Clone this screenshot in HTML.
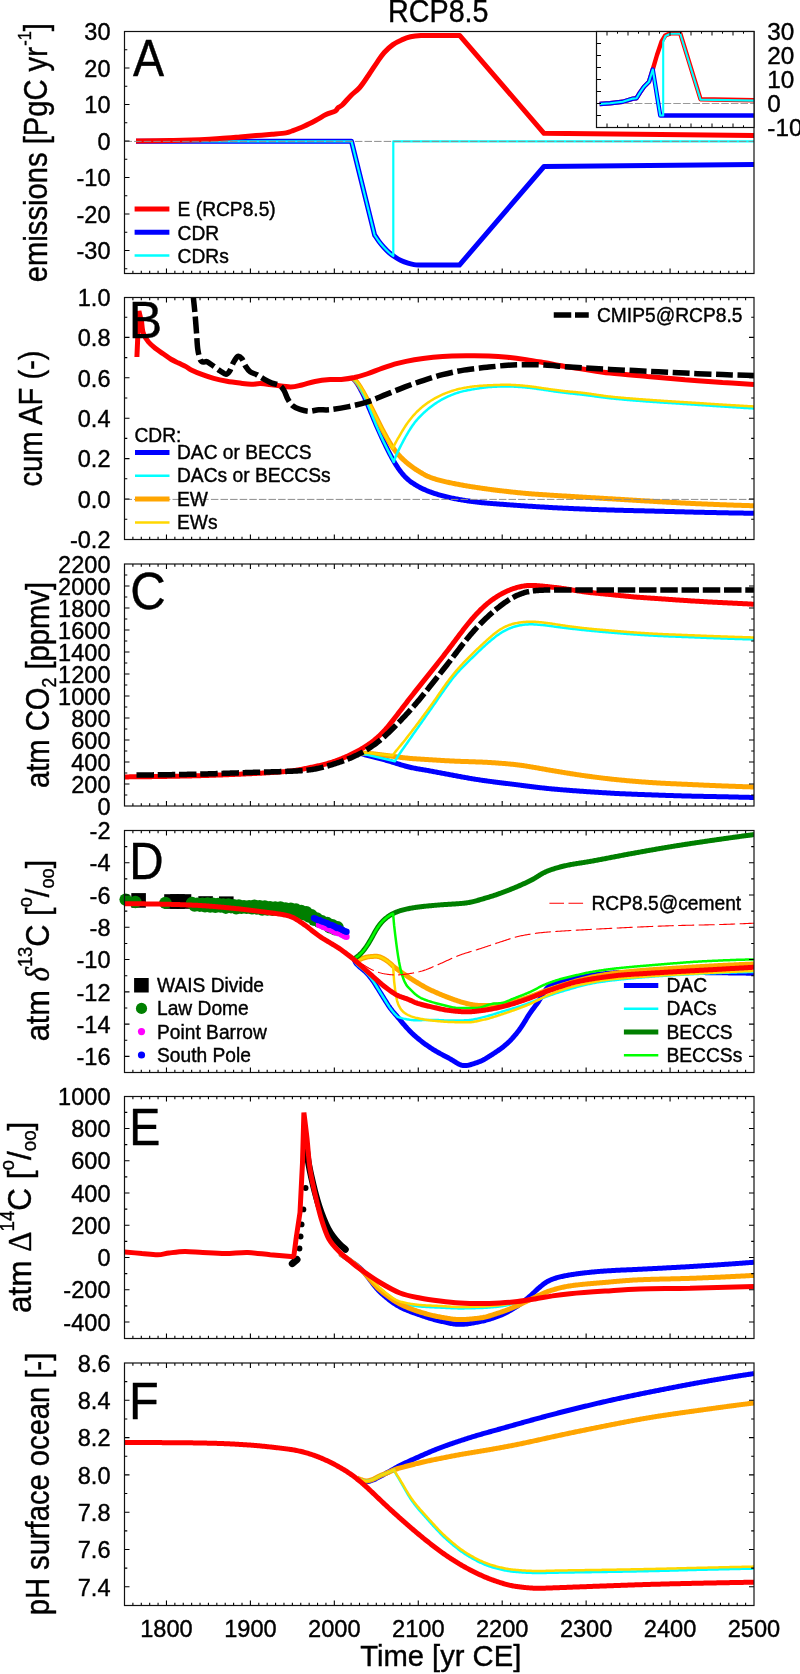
<!DOCTYPE html>
<html><head><meta charset="utf-8"><style>
html,body{margin:0;padding:0;background:#fff;}
svg{display:block;will-change:transform;}
text{font-family:"Liberation Sans", sans-serif;fill:#000;stroke:#000;stroke-width:0.4px;}
</style></head><body>
<svg width="800" height="1674" viewBox="0 0 800 1674">
<rect x="0" y="0" width="800" height="1674" fill="#fff"/>
<text transform="translate(438.3,21.8) scale(0.99,1.07)" font-size="29" text-anchor="middle" >RCP8.5</text>
<clipPath id="clipA"><rect x="124.5" y="31.5" width="629.5" height="242"/></clipPath>
<g clip-path="url(#clipA)">
<path d="M136,141.3 L351.5,141.3 L374.6,235 L374.6,235 C375.33,236.08 377.43,239.42 379,241.5 C380.57,243.58 382.33,245.67 384,247.5 C385.67,249.33 387.17,250.92 389,252.5 C390.83,254.08 393,255.67 395,257 C397,258.33 398.83,259.47 401,260.5 C403.17,261.53 405.83,262.52 408,263.2 C410.17,263.88 412.15,264.28 414,264.6 C415.85,264.92 418.25,265.02 419.1,265.1 L419.1,265.1 L459.4,265.1 L544,166.5 L754,164.4" fill="none" stroke="#0000ff" stroke-width="5" stroke-linejoin="round" />
<path d="M136,141.3 L351.5,141.3 L374.6,235 L374.6,235 C375.33,236.08 377.43,239.42 379,241.5 C380.57,243.58 382.33,245.67 384,247.5 C385.67,249.33 387.45,251.08 389,252.5 C390.55,253.92 392.58,255.42 393.3,256 L393.3,256 L393.3,141.3 L754,141.3" fill="none" stroke="#00ffff" stroke-width="2.2" stroke-linejoin="round" />
<path d="M136,141.1 C141.67,141.02 159.33,140.83 170,140.6 C180.67,140.37 191.67,140.03 200,139.7 C208.33,139.37 213.33,139.05 220,138.6 C226.67,138.15 234,137.5 240,137 C246,136.5 250.67,136.05 256,135.6 C261.33,135.15 267,134.75 272,134.3 C277,133.85 282.67,133.45 286,132.9 C289.33,132.35 289,132.1 292,131 C295,129.9 300,128.08 304,126.3 C308,124.52 312.33,122.25 316,120.3 C319.67,118.35 322.79,116.13 326,114.6 C329.21,113.07 333.27,112.23 335.25,111.1 C337.23,109.97 336.73,108.82 337.9,107.8 C339.07,106.78 340.07,107.07 342.25,105 C344.43,102.93 348.08,98.32 351,95.4 C353.92,92.48 356.83,90.86 359.75,87.5 C362.67,84.14 365.58,79.48 368.5,75.25 C371.42,71.02 374.62,65.89 377.25,62.1 C379.88,58.31 381.62,55.42 384.25,52.5 C386.88,49.58 390.08,46.7 393,44.6 C395.92,42.5 398.83,41.21 401.75,39.9 C404.67,38.59 407.29,37.48 410.5,36.75 C413.71,36.02 416.92,35.69 421,35.5 C425.08,35.31 428.53,35.58 435,35.6 C441.47,35.62 455.67,35.6 459.8,35.6 L459.8,35.6 L544,133.3 L754,135.6" fill="none" stroke="#ff0000" stroke-width="5" stroke-linejoin="round" />
<path d="M124.5,141.4 H754" stroke="#8c8c8c" stroke-width="1" stroke-dasharray="7.5 2.1"/>
</g>
<path d="M132.89,273.5 v-2.8 M141.29,273.5 v-2.8 M149.68,273.5 v-2.8 M158.07,273.5 v-2.8 M166.47,273.5 v-5 M174.86,273.5 v-2.8 M183.25,273.5 v-2.8 M191.65,273.5 v-2.8 M200.04,273.5 v-2.8 M208.43,273.5 v-2.8 M216.83,273.5 v-2.8 M225.22,273.5 v-2.8 M233.61,273.5 v-2.8 M242.01,273.5 v-2.8 M250.4,273.5 v-5 M258.79,273.5 v-2.8 M267.19,273.5 v-2.8 M275.58,273.5 v-2.8 M283.97,273.5 v-2.8 M292.37,273.5 v-2.8 M300.76,273.5 v-2.8 M309.15,273.5 v-2.8 M317.55,273.5 v-2.8 M325.94,273.5 v-2.8 M334.33,273.5 v-5 M342.73,273.5 v-2.8 M351.12,273.5 v-2.8 M359.51,273.5 v-2.8 M367.91,273.5 v-2.8 M376.3,273.5 v-2.8 M384.69,273.5 v-2.8 M393.09,273.5 v-2.8 M401.48,273.5 v-2.8 M409.87,273.5 v-2.8 M418.27,273.5 v-5 M426.66,273.5 v-2.8 M435.05,273.5 v-2.8 M443.45,273.5 v-2.8 M451.84,273.5 v-2.8 M460.23,273.5 v-2.8 M468.63,273.5 v-2.8 M477.02,273.5 v-2.8 M485.41,273.5 v-2.8 M493.81,273.5 v-2.8 M502.2,273.5 v-5 M510.59,273.5 v-2.8 M518.99,273.5 v-2.8 M527.38,273.5 v-2.8 M535.77,273.5 v-2.8 M544.17,273.5 v-2.8 M552.56,273.5 v-2.8 M560.95,273.5 v-2.8 M569.35,273.5 v-2.8 M577.74,273.5 v-2.8 M586.13,273.5 v-5 M594.53,273.5 v-2.8 M602.92,273.5 v-2.8 M611.31,273.5 v-2.8 M619.71,273.5 v-2.8 M628.1,273.5 v-2.8 M636.49,273.5 v-2.8 M644.89,273.5 v-2.8 M653.28,273.5 v-2.8 M661.67,273.5 v-2.8 M670.07,273.5 v-5 M678.46,273.5 v-2.8 M686.85,273.5 v-2.8 M695.25,273.5 v-2.8 M703.64,273.5 v-2.8 M712.03,273.5 v-2.8 M720.43,273.5 v-2.8 M728.82,273.5 v-2.8 M737.21,273.5 v-2.8 M745.61,273.5 v-2.8 M124.5,250.5 h5 M124.5,214 h5 M124.5,177.5 h5 M124.5,141 h5 M124.5,104.5 h5 M124.5,68 h5 M124.5,268.75 h2.8 M124.5,232.25 h2.8 M124.5,195.75 h2.8 M124.5,159.25 h2.8 M124.5,122.75 h2.8 M124.5,86.25 h2.8 M124.5,49.75 h2.8" stroke="#000" stroke-width="1.1" fill="none"/>
<rect x="124.5" y="31.5" width="629.5" height="242" fill="none" stroke="#111" stroke-width="1.2"/>
<text transform="translate(110.5,40.2) scale(0.97,1)" font-size="24.3" text-anchor="end" >30</text>
<text transform="translate(110.5,76.7) scale(0.97,1)" font-size="24.3" text-anchor="end" >20</text>
<text transform="translate(110.5,113.2) scale(0.97,1)" font-size="24.3" text-anchor="end" >10</text>
<text transform="translate(110.5,149.7) scale(0.97,1)" font-size="24.3" text-anchor="end" >0</text>
<text transform="translate(110.5,186.2) scale(0.97,1)" font-size="24.3" text-anchor="end" >-10</text>
<text transform="translate(110.5,222.7) scale(0.97,1)" font-size="24.3" text-anchor="end" >-20</text>
<text transform="translate(110.5,259.2) scale(0.97,1)" font-size="24.3" text-anchor="end" >-30</text>
<text transform="translate(47.2,152.6) rotate(-90) scale(0.89,1)" font-size="32.8" text-anchor="middle">emissions [PgC yr<tspan dx="1.5" dy="-16.5" font-size="18.5">-1</tspan><tspan dy="16.5">]</tspan></text>
<text transform="translate(132.91,75.6) scale(0.91,1)" font-size="51.2" text-anchor="start" >A</text>
<path d="M134.6,209 H169.4" stroke="#ff0000" stroke-width="5"/>
<text transform="translate(177.6,216.3) scale(0.98,1.06)" font-size="19.6" text-anchor="start" >E (RCP8.5)</text>
<path d="M134.6,232.2 H169.4" stroke="#0000ff" stroke-width="5"/>
<text transform="translate(177.6,239.5) scale(0.98,1.06)" font-size="19.6" text-anchor="start" >CDR</text>
<path d="M134.6,255.4 H169.4" stroke="#00ffff" stroke-width="2.5"/>
<text transform="translate(177.6,262.7) scale(0.98,1.06)" font-size="19.6" text-anchor="start" >CDRs</text>
<rect x="596.5" y="31.5" width="157.5" height="96.0" fill="#fff"/>
<clipPath id="clipI"><rect x="596.5" y="31.5" width="157.5" height="96.0"/></clipPath><g clip-path="url(#clipI)">
<path d="M596.5,103.5 H754.0" stroke="#999" stroke-width="1.1" stroke-dasharray="7.5 2.1"/>
<path d="M599.6,104 L610,103.2 L622.75,101.75 L629,99.8 L633,98.6 L636.5,98.2 L640,92.5 L644,86.75 L649,81.75 L652.75,69.5 L657,55 L661.5,41.75 L665.25,35.5 L670.25,33.4 L680.25,33.4 L680.25,33.4 L700.5,99.2 L754,100.2" fill="none" stroke="#ff0000" stroke-width="4.4" stroke-linejoin="round" />
<path d="M599.6,104 L610,103.2 L622.75,101.75 L629,99.8 L633,98.6 L636.5,98.2 L640,92.5 L644,86.75 L649,81.75 L652.75,69.5 L660.25,115.5 L754,115.5" fill="none" stroke="#0000ff" stroke-width="4.4" stroke-linejoin="round" />
<path d="M599.6,104 L610,103.2 L622.75,101.75 L629,99.8 L633,98.6 L636.5,98.2 L640,92.5 L644,86.75 L649,81.75 L652.75,69.5 L660.25,115.5 L663.2,115.5 L663.2,41.75 L665.5,36 L670.25,33.8 L680.25,33.8 L700.5,99.6 L754,100.6" fill="none" stroke="#00ffff" stroke-width="2.1" stroke-linejoin="round" />
</g>
<path d="M607,127.5 v-4 M607,31.5 v4 M617.5,127.5 v-2.2 M617.5,31.5 v2.2 M628,127.5 v-4 M628,31.5 v4 M638.5,127.5 v-2.2 M638.5,31.5 v2.2 M649,127.5 v-4 M649,31.5 v4 M659.5,127.5 v-2.2 M659.5,31.5 v2.2 M670,127.5 v-4 M670,31.5 v4 M680.5,127.5 v-2.2 M680.5,31.5 v2.2 M691,127.5 v-4 M691,31.5 v4 M701.5,127.5 v-2.2 M701.5,31.5 v2.2 M712,127.5 v-4 M712,31.5 v4 M722.5,127.5 v-2.2 M722.5,31.5 v2.2 M733,127.5 v-4 M733,31.5 v4 M743.5,127.5 v-2.2 M743.5,31.5 v2.2 M596.5,115.5 h4.5 M596.5,103.5 h4.5 M596.5,91.5 h4.5 M596.5,79.5 h4.5 M596.5,67.5 h4.5 M596.5,55.5 h4.5 M596.5,43.5 h4.5" stroke="#000" stroke-width="1" fill="none"/>
<rect x="596.5" y="31.5" width="157.5" height="96.0" fill="none" stroke="#111" stroke-width="1.2"/>
<text x="767.3" y="39.5" font-size="24.3" text-anchor="start" >30</text>
<text x="767.3" y="63.5" font-size="24.3" text-anchor="start" >20</text>
<text x="767.3" y="87.5" font-size="24.3" text-anchor="start" >10</text>
<text x="767.3" y="111.5" font-size="24.3" text-anchor="start" >0</text>
<text x="767.3" y="135.5" font-size="24.3" text-anchor="start" >-10</text>
<clipPath id="clipB"><rect x="124.5" y="297.5" width="629.5" height="242"/></clipPath>
<g clip-path="url(#clipB)">
<path d="M352,378 L353,378.66 L354,379.52 L355,380.57 L356,381.84 L357,383.28 L358,384.86 L359,386.56 L360,388.36 L361,390.25 L362,392.2 L363,394.18 L364,396.25 L365,398.41 L366,400.65 L367,402.94 L368,405.29 L369,407.67 L370,410.07 L371,412.49 L372,414.91 L373,417.32 L374,419.72 L375,422.1 L376,424.45 L377,426.78 L378,429.07 L379,431.34 L380,433.56 L381,435.76 L382,437.92 L383,440.06 L384,442.16 L385,444.24 L386,446.29 L387,448.32 L388,450.32 L389,452.29 L390,454.23 L391,456.13 L392,457.99 L393,459.8 L394,461.55 L395,463.25 L396,464.88 L397,466.44 L398,467.95 L399,469.38 L400,470.75 L401,472.06 L402,473.31 L403,474.49 L404,475.61 L405,476.67 L406,477.67 L407,478.62 L408,479.51 L409,480.35 L410,481.15 L411,481.9 L412,482.62 L413,483.3 L414,483.96 L415,484.59 L416,485.19 L417,485.78 L418,486.34 L419,486.89 L420,487.42 L421,487.93 L422,488.43 L423,488.91 L424,489.38 L425,489.83 L426,490.26 L427,490.68 L428,491.09 L429,491.48 L430,491.86 L431,492.22 L432,492.58 L433,492.92 L434,493.26 L435,493.58 L436,493.9 L437,494.21 L438,494.52 L439,494.81 L440,495.1 L441,495.38 L442,495.66 L443,495.93 L444,496.19 L445,496.45 L446,496.7 L447,496.94 L448,497.18 L449,497.42 L450,497.64 L451,497.86 L452,498.08 L453,498.29 L454,498.5 L455,498.7 L456,498.89 L457,499.08 L458,499.27 L459,499.45 L460,499.63 L461,499.81 L462,499.98 L463,500.15 L464,500.31 L465,500.47 L466,500.63 L467,500.79 L468,500.94 L469,501.08 L470,501.23 L471,501.37 L472,501.5 L473,501.63 L474,501.76 L475,501.89 L476,502.01 L477,502.13 L478,502.24 L479,502.35 L480,502.46 L481,502.57 L482,502.67 L483,502.76 L484,502.86 L485,502.95 L486,503.04 L487,503.13 L488,503.22 L489,503.3 L490,503.38 L491,503.46 L492,503.54 L493,503.62 L494,503.69 L495,503.77 L496,503.84 L497,503.92 L498,503.99 L499,504.06 L500,504.14 L501,504.21 L502,504.28 L503,504.36 L504,504.43 L505,504.5 L506,504.58 L507,504.65 L508,504.72 L509,504.79 L510,504.87 L511,504.94 L512,505.01 L513,505.08 L514,505.16 L515,505.23 L516,505.3 L517,505.37 L518,505.44 L519,505.51 L520,505.58 L521,505.65 L522,505.72 L523,505.78 L524,505.85 L525,505.92 L526,505.98 L527,506.05 L528,506.12 L529,506.18 L530,506.25 L531,506.31 L532,506.37 L533,506.44 L534,506.5 L535,506.56 L536,506.63 L537,506.69 L538,506.75 L539,506.81 L540,506.88 L541,506.94 L542,507 L543,507.06 L544,507.12 L545,507.18 L546,507.24 L547,507.29 L548,507.35 L549,507.41 L550,507.47 L551,507.52 L552,507.58 L553,507.63 L554,507.69 L555,507.74 L556,507.79 L557,507.84 L558,507.89 L559,507.94 L560,507.99 L561,508.04 L562,508.09 L563,508.14 L564,508.19 L565,508.23 L566,508.28 L567,508.33 L568,508.37 L569,508.42 L570,508.46 L571,508.51 L572,508.55 L573,508.6 L574,508.64 L575,508.69 L576,508.73 L577,508.77 L578,508.81 L579,508.86 L580,508.9 L581,508.94 L582,508.98 L583,509.02 L584,509.06 L585,509.1 L586,509.15 L587,509.18 L588,509.22 L589,509.26 L590,509.3 L591,509.34 L592,509.38 L593,509.42 L594,509.45 L595,509.49 L596,509.53 L597,509.56 L598,509.6 L599,509.63 L600,509.67 L601,509.7 L602,509.74 L603,509.77 L604,509.8 L605,509.84 L606,509.87 L607,509.9 L608,509.93 L609,509.96 L610,510 L611,510.03 L612,510.06 L613,510.09 L614,510.11 L615,510.14 L616,510.17 L617,510.2 L618,510.23 L619,510.26 L620,510.28 L621,510.31 L622,510.34 L623,510.36 L624,510.39 L625,510.41 L626,510.44 L627,510.47 L628,510.49 L629,510.51 L630,510.54 L631,510.56 L632,510.59 L633,510.61 L634,510.64 L635,510.66 L636,510.68 L637,510.71 L638,510.73 L639,510.75 L640,510.78 L641,510.8 L642,510.82 L643,510.85 L644,510.87 L645,510.89 L646,510.92 L647,510.94 L648,510.96 L649,510.99 L650,511.01 L651,511.03 L652,511.06 L653,511.08 L654,511.11 L655,511.13 L656,511.15 L657,511.18 L658,511.2 L659,511.23 L660,511.25 L661,511.28 L662,511.3 L663,511.33 L664,511.35 L665,511.38 L666,511.4 L667,511.43 L668,511.46 L669,511.48 L670,511.51 L671,511.53 L672,511.56 L673,511.59 L674,511.61 L675,511.64 L676,511.66 L677,511.69 L678,511.72 L679,511.74 L680,511.77 L681,511.8 L682,511.82 L683,511.85 L684,511.87 L685,511.9 L686,511.93 L687,511.95 L688,511.98 L689,512 L690,512.03 L691,512.05 L692,512.08 L693,512.1 L694,512.13 L695,512.15 L696,512.18 L697,512.2 L698,512.23 L699,512.25 L700,512.27 L701,512.3 L702,512.32 L703,512.34 L704,512.37 L705,512.39 L706,512.41 L707,512.43 L708,512.45 L709,512.48 L710,512.5 L711,512.52 L712,512.54 L713,512.56 L714,512.58 L715,512.6 L716,512.62 L717,512.64 L718,512.66 L719,512.68 L720,512.7 L721,512.72 L722,512.74 L723,512.76 L724,512.78 L725,512.8 L726,512.82 L727,512.84 L728,512.86 L729,512.88 L730,512.89 L731,512.91 L732,512.93 L733,512.95 L734,512.97 L735,512.99 L736,513 L737,513.02 L738,513.04 L739,513.06 L740,513.07 L741,513.09 L742,513.11 L743,513.12 L744,513.14 L745,513.16 L746,513.17 L747,513.19 L748,513.2 L749,513.22 L750,513.23 L751,513.25 L752,513.27 L753,513.28 L754,513.3" fill="none" stroke="#0000ff" stroke-width="5" stroke-linejoin="round" />
<path d="M352,378 L353,378.48 L354,379.15 L355,380 L356,381.08 L357,382.33 L358,383.71 L359,385.18 L360,386.72 L361,388.33 L362,389.97 L363,391.64 L364,393.39 L365,395.2 L366,397.07 L367,398.99 L368,400.94 L369,402.91 L370,404.9 L371,406.9 L372,408.91 L373,410.92 L374,412.94 L375,414.95 L376,416.95 L377,418.95 L378,420.95 L379,422.94 L380,424.91 L381,426.88 L382,428.82 L383,430.74 L384,432.63 L385,434.49 L386,436.32 L387,438.1 L388,439.84 L389,441.53 L390,443.16 L391,444.74 L392,446.26 L393,447.72 L394,449.12 L395,450.46 L396,451.75 L397,452.98 L398,454.15 L399,455.28 L400,456.36 L401,457.39 L402,458.39 L403,459.35 L404,460.28 L405,461.17 L406,462.04 L407,462.88 L408,463.69 L409,464.49 L410,465.27 L411,466.02 L412,466.76 L413,467.48 L414,468.19 L415,468.88 L416,469.55 L417,470.21 L418,470.86 L419,471.49 L420,472.1 L421,472.7 L422,473.28 L423,473.85 L424,474.39 L425,474.92 L426,475.42 L427,475.91 L428,476.37 L429,476.8 L430,477.22 L431,477.61 L432,477.98 L433,478.33 L434,478.67 L435,478.99 L436,479.3 L437,479.59 L438,479.87 L439,480.15 L440,480.41 L441,480.67 L442,480.92 L443,481.16 L444,481.39 L445,481.62 L446,481.85 L447,482.07 L448,482.29 L449,482.5 L450,482.71 L451,482.92 L452,483.13 L453,483.33 L454,483.53 L455,483.73 L456,483.93 L457,484.12 L458,484.31 L459,484.5 L460,484.69 L461,484.88 L462,485.06 L463,485.24 L464,485.42 L465,485.59 L466,485.77 L467,485.94 L468,486.11 L469,486.27 L470,486.44 L471,486.6 L472,486.76 L473,486.92 L474,487.08 L475,487.23 L476,487.38 L477,487.54 L478,487.69 L479,487.84 L480,487.98 L481,488.13 L482,488.28 L483,488.42 L484,488.56 L485,488.7 L486,488.84 L487,488.98 L488,489.12 L489,489.25 L490,489.39 L491,489.52 L492,489.65 L493,489.78 L494,489.91 L495,490.04 L496,490.16 L497,490.29 L498,490.41 L499,490.53 L500,490.65 L501,490.77 L502,490.89 L503,491.01 L504,491.12 L505,491.24 L506,491.35 L507,491.46 L508,491.58 L509,491.69 L510,491.8 L511,491.91 L512,492.01 L513,492.12 L514,492.23 L515,492.33 L516,492.43 L517,492.54 L518,492.64 L519,492.74 L520,492.83 L521,492.93 L522,493.03 L523,493.12 L524,493.21 L525,493.3 L526,493.39 L527,493.48 L528,493.56 L529,493.65 L530,493.73 L531,493.81 L532,493.89 L533,493.97 L534,494.04 L535,494.12 L536,494.19 L537,494.26 L538,494.34 L539,494.41 L540,494.47 L541,494.54 L542,494.61 L543,494.68 L544,494.74 L545,494.81 L546,494.87 L547,494.94 L548,495 L549,495.06 L550,495.13 L551,495.19 L552,495.25 L553,495.31 L554,495.38 L555,495.44 L556,495.5 L557,495.56 L558,495.63 L559,495.69 L560,495.75 L561,495.81 L562,495.88 L563,495.94 L564,496 L565,496.06 L566,496.12 L567,496.19 L568,496.25 L569,496.31 L570,496.37 L571,496.43 L572,496.49 L573,496.55 L574,496.61 L575,496.67 L576,496.73 L577,496.79 L578,496.85 L579,496.91 L580,496.97 L581,497.03 L582,497.09 L583,497.15 L584,497.21 L585,497.27 L586,497.33 L587,497.39 L588,497.45 L589,497.51 L590,497.57 L591,497.63 L592,497.68 L593,497.74 L594,497.8 L595,497.86 L596,497.92 L597,497.98 L598,498.04 L599,498.1 L600,498.16 L601,498.22 L602,498.27 L603,498.33 L604,498.39 L605,498.45 L606,498.51 L607,498.57 L608,498.63 L609,498.69 L610,498.75 L611,498.81 L612,498.87 L613,498.93 L614,498.99 L615,499.05 L616,499.12 L617,499.18 L618,499.24 L619,499.3 L620,499.36 L621,499.42 L622,499.48 L623,499.54 L624,499.61 L625,499.67 L626,499.73 L627,499.79 L628,499.85 L629,499.91 L630,499.98 L631,500.04 L632,500.1 L633,500.16 L634,500.22 L635,500.28 L636,500.34 L637,500.41 L638,500.47 L639,500.53 L640,500.59 L641,500.65 L642,500.71 L643,500.77 L644,500.83 L645,500.89 L646,500.95 L647,501.01 L648,501.06 L649,501.12 L650,501.18 L651,501.24 L652,501.3 L653,501.35 L654,501.41 L655,501.47 L656,501.52 L657,501.58 L658,501.64 L659,501.69 L660,501.75 L661,501.8 L662,501.86 L663,501.91 L664,501.97 L665,502.02 L666,502.08 L667,502.13 L668,502.19 L669,502.24 L670,502.29 L671,502.35 L672,502.4 L673,502.45 L674,502.51 L675,502.56 L676,502.62 L677,502.67 L678,502.72 L679,502.77 L680,502.83 L681,502.88 L682,502.93 L683,502.98 L684,503.03 L685,503.09 L686,503.14 L687,503.19 L688,503.24 L689,503.29 L690,503.34 L691,503.39 L692,503.44 L693,503.48 L694,503.53 L695,503.58 L696,503.63 L697,503.67 L698,503.72 L699,503.77 L700,503.81 L701,503.86 L702,503.9 L703,503.95 L704,503.99 L705,504.04 L706,504.08 L707,504.12 L708,504.16 L709,504.2 L710,504.25 L711,504.29 L712,504.33 L713,504.37 L714,504.41 L715,504.45 L716,504.48 L717,504.52 L718,504.56 L719,504.6 L720,504.64 L721,504.68 L722,504.71 L723,504.75 L724,504.79 L725,504.82 L726,504.86 L727,504.9 L728,504.93 L729,504.97 L730,505 L731,505.04 L732,505.07 L733,505.11 L734,505.14 L735,505.17 L736,505.21 L737,505.24 L738,505.27 L739,505.3 L740,505.34 L741,505.37 L742,505.4 L743,505.43 L744,505.46 L745,505.49 L746,505.52 L747,505.55 L748,505.58 L749,505.6 L750,505.63 L751,505.66 L752,505.69 L753,505.72 L754,505.75" fill="none" stroke="#ffa500" stroke-width="5" stroke-linejoin="round" />
<path d="M352,378 L352.99,378.58 L353.99,379.34 L354.98,380.28 L355.98,381.44 L356.97,382.75 L357.96,384.14 L358.96,385.67 L359.95,387.35 L360.95,389.15 L361.94,391.07 L362.93,393.12 L363.93,395.29 L364.92,397.57 L365.92,399.92 L366.91,402.33 L367.9,404.78 L368.9,407.26 L369.89,409.75 L370.89,412.24 L371.88,414.72 L372.88,417.19 L373.87,419.63 L374.86,422.04 L375.86,424.41 L376.85,426.74 L377.85,429.03 L378.84,431.29 L379.83,433.51 L380.83,435.69 L381.82,437.83 L382.82,439.94 L383.81,442.01 L384.8,444.04 L385.8,446.05 L386.79,448.04 L387.79,450.01 L388.78,451.97 L389.77,453.91 L390.77,455.82 L391.76,457.75 L392.76,459.76 L393.75,462 L393.75,462 L394.75,459.01 L395.75,456.37 L396.74,454.02 L397.74,451.87 L398.74,449.84 L399.74,447.86 L400.74,445.92 L401.73,444.01 L402.73,442.08 L403.73,440.18 L404.73,438.33 L405.73,436.52 L406.72,434.77 L407.72,433.06 L408.72,431.4 L409.72,429.79 L410.71,428.24 L411.71,426.74 L412.71,425.31 L413.71,423.93 L414.71,422.61 L415.7,421.35 L416.7,420.14 L417.7,418.99 L418.7,417.87 L419.7,416.8 L420.69,415.77 L421.69,414.78 L422.69,413.82 L423.69,412.88 L424.69,411.98 L425.68,411.09 L426.68,410.24 L427.68,409.4 L428.68,408.58 L429.68,407.78 L430.67,407 L431.67,406.24 L432.67,405.5 L433.67,404.77 L434.66,404.07 L435.66,403.38 L436.66,402.72 L437.66,402.07 L438.66,401.45 L439.65,400.85 L440.65,400.27 L441.65,399.71 L442.65,399.16 L443.65,398.64 L444.64,398.13 L445.64,397.63 L446.64,397.15 L447.64,396.69 L448.64,396.23 L449.63,395.79 L450.63,395.36 L451.63,394.95 L452.63,394.55 L453.63,394.16 L454.62,393.79 L455.62,393.43 L456.62,393.09 L457.62,392.77 L458.61,392.46 L459.61,392.17 L460.61,391.89 L461.61,391.62 L462.61,391.37 L463.6,391.13 L464.6,390.9 L465.6,390.69 L466.6,390.48 L467.6,390.28 L468.59,390.09 L469.59,389.9 L470.59,389.72 L471.59,389.55 L472.59,389.38 L473.58,389.21 L474.58,389.05 L475.58,388.89 L476.58,388.73 L477.58,388.57 L478.57,388.42 L479.57,388.26 L480.57,388.11 L481.57,387.96 L482.57,387.82 L483.56,387.68 L484.56,387.55 L485.56,387.43 L486.56,387.31 L487.55,387.21 L488.55,387.12 L489.55,387.03 L490.55,386.96 L491.55,386.89 L492.54,386.83 L493.54,386.78 L494.54,386.73 L495.54,386.69 L496.54,386.65 L497.53,386.61 L498.53,386.58 L499.53,386.55 L500.53,386.52 L501.53,386.5 L502.52,386.48 L503.52,386.46 L504.52,386.45 L505.52,386.45 L506.52,386.45 L507.51,386.45 L508.51,386.46 L509.51,386.48 L510.51,386.5 L511.5,386.53 L512.5,386.57 L513.5,386.61 L514.5,386.66 L515.5,386.71 L516.49,386.77 L517.49,386.83 L518.49,386.9 L519.49,386.97 L520.49,387.05 L521.48,387.12 L522.48,387.2 L523.48,387.29 L524.48,387.37 L525.48,387.46 L526.47,387.56 L527.47,387.65 L528.47,387.76 L529.47,387.86 L530.47,387.98 L531.46,388.1 L532.46,388.22 L533.46,388.35 L534.46,388.48 L535.45,388.62 L536.45,388.76 L537.45,388.9 L538.45,389.04 L539.45,389.19 L540.44,389.33 L541.44,389.48 L542.44,389.63 L543.44,389.77 L544.44,389.92 L545.43,390.06 L546.43,390.21 L547.43,390.35 L548.43,390.5 L549.43,390.65 L550.42,390.8 L551.42,390.94 L552.42,391.09 L553.42,391.24 L554.42,391.39 L555.41,391.53 L556.41,391.68 L557.41,391.82 L558.41,391.96 L559.41,392.1 L560.4,392.24 L561.4,392.37 L562.4,392.5 L563.4,392.63 L564.39,392.75 L565.39,392.87 L566.39,392.98 L567.39,393.1 L568.39,393.21 L569.38,393.32 L570.38,393.42 L571.38,393.53 L572.38,393.63 L573.38,393.74 L574.37,393.84 L575.37,393.94 L576.37,394.05 L577.37,394.15 L578.37,394.26 L579.36,394.37 L580.36,394.48 L581.36,394.59 L582.36,394.71 L583.36,394.83 L584.35,394.95 L585.35,395.07 L586.35,395.2 L587.35,395.33 L588.34,395.46 L589.34,395.59 L590.34,395.72 L591.34,395.86 L592.34,396 L593.33,396.13 L594.33,396.27 L595.33,396.41 L596.33,396.55 L597.33,396.69 L598.32,396.82 L599.32,396.96 L600.32,397.1 L601.32,397.23 L602.32,397.36 L603.31,397.49 L604.31,397.61 L605.31,397.74 L606.31,397.86 L607.31,397.97 L608.3,398.09 L609.3,398.2 L610.3,398.31 L611.3,398.42 L612.3,398.52 L613.29,398.62 L614.29,398.72 L615.29,398.82 L616.29,398.92 L617.28,399.01 L618.28,399.11 L619.28,399.2 L620.28,399.29 L621.28,399.38 L622.27,399.47 L623.27,399.56 L624.27,399.65 L625.27,399.74 L626.27,399.82 L627.26,399.91 L628.26,399.99 L629.26,400.07 L630.26,400.16 L631.26,400.24 L632.25,400.32 L633.25,400.4 L634.25,400.48 L635.25,400.56 L636.25,400.64 L637.24,400.72 L638.24,400.79 L639.24,400.87 L640.24,400.95 L641.23,401.02 L642.23,401.1 L643.23,401.18 L644.23,401.25 L645.23,401.33 L646.22,401.4 L647.22,401.48 L648.22,401.55 L649.22,401.62 L650.22,401.69 L651.21,401.77 L652.21,401.84 L653.21,401.91 L654.21,401.98 L655.21,402.05 L656.2,402.12 L657.2,402.19 L658.2,402.25 L659.2,402.32 L660.2,402.39 L661.19,402.45 L662.19,402.52 L663.19,402.59 L664.19,402.65 L665.18,402.72 L666.18,402.78 L667.18,402.85 L668.18,402.91 L669.18,402.98 L670.17,403.04 L671.17,403.1 L672.17,403.17 L673.17,403.23 L674.17,403.3 L675.16,403.36 L676.16,403.42 L677.16,403.49 L678.16,403.55 L679.16,403.62 L680.15,403.68 L681.15,403.75 L682.15,403.81 L683.15,403.88 L684.15,403.95 L685.14,404.01 L686.14,404.08 L687.14,404.14 L688.14,404.21 L689.14,404.28 L690.13,404.34 L691.13,404.41 L692.13,404.48 L693.13,404.54 L694.12,404.61 L695.12,404.68 L696.12,404.75 L697.12,404.81 L698.12,404.88 L699.11,404.95 L700.11,405.01 L701.11,405.08 L702.11,405.15 L703.11,405.21 L704.1,405.28 L705.1,405.35 L706.1,405.41 L707.1,405.48 L708.1,405.55 L709.09,405.61 L710.09,405.68 L711.09,405.75 L712.09,405.81 L713.09,405.88 L714.08,405.95 L715.08,406.01 L716.08,406.08 L717.08,406.14 L718.07,406.21 L719.07,406.28 L720.07,406.34 L721.07,406.41 L722.07,406.47 L723.06,406.54 L724.06,406.6 L725.06,406.67 L726.06,406.73 L727.06,406.79 L728.05,406.86 L729.05,406.92 L730.05,406.99 L731.05,407.05 L732.05,407.12 L733.04,407.18 L734.04,407.24 L735.04,407.31 L736.04,407.37 L737.04,407.43 L738.03,407.5 L739.03,407.56 L740.03,407.62 L741.03,407.69 L742.02,407.75 L743.02,407.81 L744.02,407.88 L745.02,407.94 L746.02,408 L747.01,408.06 L748.01,408.12 L749.01,408.18 L750.01,408.24 L751.01,408.3 L752,408.36 L753,408.43 L754,408.5" fill="none" stroke="#00ffff" stroke-width="2.5" stroke-linejoin="round" />
<path d="M352,378 L353,378.41 L353.99,378.99 L354.99,379.76 L355.98,380.75 L356.98,381.89 L357.97,383.09 L358.97,384.43 L359.96,385.89 L360.96,387.45 L361.95,389.1 L362.95,390.84 L363.94,392.68 L364.94,394.59 L365.93,396.57 L366.93,398.6 L367.92,400.64 L368.92,402.68 L369.91,404.72 L370.91,406.73 L371.9,408.74 L372.9,410.74 L373.89,412.74 L374.89,414.73 L375.88,416.73 L376.88,418.73 L377.87,420.73 L378.87,422.74 L379.86,424.74 L380.86,426.74 L381.85,428.71 L382.85,430.66 L383.84,432.58 L384.84,434.47 L385.83,436.32 L386.83,438.13 L387.82,439.9 L388.82,441.64 L389.81,443.33 L390.81,444.99 L391.8,446.67 L392.8,448.5 L392.8,448.5 L393.8,446.24 L394.8,444.2 L395.79,442.3 L396.79,440.5 L397.79,438.74 L398.79,437.01 L399.78,435.29 L400.78,433.6 L401.78,431.91 L402.78,430.26 L403.78,428.64 L404.77,427.06 L405.77,425.54 L406.77,424.07 L407.77,422.64 L408.76,421.27 L409.76,419.95 L410.76,418.68 L411.76,417.46 L412.76,416.28 L413.75,415.15 L414.75,414.05 L415.75,413 L416.75,411.99 L417.74,411.01 L418.74,410.06 L419.74,409.15 L420.74,408.26 L421.74,407.41 L422.73,406.58 L423.73,405.77 L424.73,405 L425.73,404.25 L426.72,403.52 L427.72,402.81 L428.72,402.12 L429.72,401.46 L430.72,400.81 L431.71,400.18 L432.71,399.57 L433.71,398.98 L434.71,398.4 L435.7,397.84 L436.7,397.3 L437.7,396.78 L438.7,396.28 L439.7,395.79 L440.69,395.32 L441.69,394.87 L442.69,394.43 L443.69,394.01 L444.69,393.6 L445.68,393.2 L446.68,392.82 L447.68,392.44 L448.68,392.08 L449.67,391.72 L450.67,391.38 L451.67,391.05 L452.67,390.73 L453.67,390.42 L454.66,390.12 L455.66,389.84 L456.66,389.57 L457.66,389.31 L458.65,389.07 L459.65,388.83 L460.65,388.61 L461.65,388.4 L462.65,388.2 L463.64,388 L464.64,387.82 L465.64,387.64 L466.64,387.47 L467.63,387.3 L468.63,387.14 L469.63,386.99 L470.63,386.85 L471.63,386.71 L472.62,386.58 L473.62,386.46 L474.62,386.34 L475.62,386.23 L476.61,386.13 L477.61,386.04 L478.61,385.95 L479.61,385.87 L480.61,385.8 L481.6,385.73 L482.6,385.66 L483.6,385.6 L484.6,385.54 L485.59,385.48 L486.59,385.42 L487.59,385.37 L488.59,385.32 L489.59,385.27 L490.58,385.22 L491.58,385.17 L492.58,385.13 L493.58,385.09 L494.57,385.05 L495.57,385.01 L496.57,384.97 L497.57,384.94 L498.57,384.91 L499.56,384.88 L500.56,384.86 L501.56,384.84 L502.56,384.82 L503.55,384.81 L504.55,384.8 L505.55,384.79 L506.55,384.8 L507.55,384.8 L508.54,384.81 L509.54,384.83 L510.54,384.86 L511.54,384.89 L512.53,384.93 L513.53,384.97 L514.53,385.02 L515.53,385.08 L516.53,385.14 L517.52,385.21 L518.52,385.28 L519.52,385.35 L520.52,385.43 L521.51,385.51 L522.51,385.59 L523.51,385.68 L524.51,385.77 L525.51,385.87 L526.5,385.96 L527.5,386.07 L528.5,386.17 L529.5,386.29 L530.5,386.41 L531.49,386.53 L532.49,386.66 L533.49,386.8 L534.49,386.94 L535.48,387.08 L536.48,387.23 L537.48,387.38 L538.48,387.52 L539.48,387.67 L540.47,387.82 L541.47,387.97 L542.47,388.12 L543.47,388.27 L544.46,388.41 L545.46,388.55 L546.46,388.7 L547.46,388.84 L548.46,388.98 L549.45,389.12 L550.45,389.26 L551.45,389.39 L552.45,389.53 L553.44,389.67 L554.44,389.81 L555.44,389.94 L556.44,390.07 L557.44,390.2 L558.43,390.33 L559.43,390.46 L560.43,390.58 L561.43,390.7 L562.42,390.82 L563.42,390.93 L564.42,391.04 L565.42,391.15 L566.42,391.26 L567.41,391.36 L568.41,391.46 L569.41,391.55 L570.41,391.65 L571.4,391.74 L572.4,391.83 L573.4,391.92 L574.4,392.02 L575.4,392.11 L576.39,392.2 L577.39,392.3 L578.39,392.4 L579.39,392.5 L580.38,392.6 L581.38,392.71 L582.38,392.82 L583.38,392.94 L584.38,393.06 L585.37,393.18 L586.37,393.31 L587.37,393.44 L588.37,393.57 L589.36,393.71 L590.36,393.85 L591.36,394 L592.36,394.14 L593.36,394.29 L594.35,394.44 L595.35,394.59 L596.35,394.73 L597.35,394.88 L598.34,395.03 L599.34,395.18 L600.34,395.32 L601.34,395.47 L602.34,395.61 L603.33,395.74 L604.33,395.88 L605.33,396.01 L606.33,396.14 L607.32,396.26 L608.32,396.38 L609.32,396.49 L610.32,396.61 L611.32,396.72 L612.31,396.82 L613.31,396.92 L614.31,397.03 L615.31,397.12 L616.3,397.22 L617.3,397.32 L618.3,397.41 L619.3,397.5 L620.3,397.59 L621.29,397.68 L622.29,397.77 L623.29,397.86 L624.29,397.95 L625.29,398.03 L626.28,398.12 L627.28,398.2 L628.28,398.28 L629.28,398.36 L630.27,398.44 L631.27,398.52 L632.27,398.6 L633.27,398.68 L634.27,398.76 L635.26,398.83 L636.26,398.91 L637.26,398.99 L638.26,399.06 L639.25,399.14 L640.25,399.21 L641.25,399.29 L642.25,399.36 L643.25,399.44 L644.24,399.51 L645.24,399.58 L646.24,399.66 L647.24,399.73 L648.23,399.8 L649.23,399.87 L650.23,399.94 L651.23,400.01 L652.23,400.08 L653.22,400.15 L654.22,400.22 L655.22,400.29 L656.22,400.36 L657.21,400.43 L658.21,400.49 L659.21,400.56 L660.21,400.62 L661.21,400.69 L662.2,400.75 L663.2,400.82 L664.2,400.88 L665.2,400.95 L666.19,401.01 L667.19,401.07 L668.19,401.14 L669.19,401.2 L670.19,401.26 L671.18,401.33 L672.18,401.39 L673.18,401.45 L674.18,401.51 L675.17,401.58 L676.17,401.64 L677.17,401.7 L678.17,401.77 L679.17,401.83 L680.16,401.89 L681.16,401.96 L682.16,402.02 L683.16,402.08 L684.15,402.15 L685.15,402.21 L686.15,402.28 L687.15,402.34 L688.15,402.4 L689.14,402.47 L690.14,402.53 L691.14,402.6 L692.14,402.66 L693.13,402.73 L694.13,402.79 L695.13,402.86 L696.13,402.92 L697.13,402.98 L698.12,403.05 L699.12,403.11 L700.12,403.18 L701.12,403.24 L702.11,403.31 L703.11,403.37 L704.11,403.43 L705.11,403.5 L706.11,403.56 L707.1,403.63 L708.1,403.69 L709.1,403.75 L710.1,403.82 L711.1,403.88 L712.09,403.94 L713.09,404.01 L714.09,404.07 L715.09,404.13 L716.08,404.2 L717.08,404.26 L718.08,404.32 L719.08,404.39 L720.08,404.45 L721.07,404.51 L722.07,404.57 L723.07,404.63 L724.07,404.7 L725.06,404.76 L726.06,404.82 L727.06,404.88 L728.06,404.94 L729.06,405 L730.05,405.06 L731.05,405.13 L732.05,405.19 L733.05,405.25 L734.04,405.31 L735.04,405.37 L736.04,405.43 L737.04,405.49 L738.04,405.55 L739.03,405.61 L740.03,405.67 L741.03,405.73 L742.03,405.79 L743.02,405.85 L744.02,405.91 L745.02,405.97 L746.02,406.03 L747.02,406.08 L748.01,406.14 L749.01,406.2 L750.01,406.26 L751.01,406.31 L752,406.37 L753,406.43 L754,406.5" fill="none" stroke="#ffd700" stroke-width="2.5" stroke-linejoin="round" />
<path d="M136.9,357 L138.9,311.2 L141.6,322 L141.6,322 C141.88,323.83 142.1,329.67 143.25,333 C144.4,336.33 146.38,339.38 148.5,342 C150.62,344.62 153.5,346.75 156,348.75 C158.5,350.75 161,352.25 163.5,354 C166,355.75 168.5,357.75 171,359.25 C173.5,360.75 176,361.77 178.5,363 C181,364.23 183.88,365.43 186,366.6 C188.12,367.77 188.5,368.65 191.25,370 C194,371.35 198.75,373.3 202.5,374.7 C206.25,376.1 209.68,377.31 213.75,378.4 C217.82,379.49 222.53,380.47 226.9,381.25 C231.28,382.03 235.94,382.6 240,383.1 C244.06,383.6 247.82,384.17 251.25,384.25 C254.68,384.33 256.85,383.48 260.6,383.6 C264.35,383.73 268.75,384.45 273.75,385 C278.75,385.55 285.91,386.9 290.6,386.9 C295.29,386.9 297.83,385.9 301.9,385 C305.97,384.1 310.32,382.4 315,381.5 C319.68,380.6 325.62,379.95 330,379.6 C334.38,379.25 337.18,379.75 341.25,379.4 C345.32,379.05 350.02,378.44 354.4,377.5 C358.77,376.56 362.82,375.32 367.5,373.75 C372.18,372.18 377.5,369.83 382.5,368.1 C387.5,366.38 392.18,364.8 397.5,363.4 C402.82,362 408.47,360.72 414.4,359.7 C420.33,358.68 426.85,357.88 433.1,357.25 C439.35,356.62 445.65,356.16 451.9,355.9 C458.15,355.64 464.46,355.7 470.6,355.7 C476.74,355.7 482.6,355.65 488.75,355.9 C494.9,356.15 501.25,356.58 507.5,357.2 C513.75,357.82 520,358.67 526.25,359.6 C532.5,360.53 538.75,361.7 545,362.8 C551.25,363.9 557.5,365.17 563.75,366.2 C570,367.23 574.79,367.85 582.5,369 C590.21,370.15 599.17,371.85 610,373.1 C620.83,374.35 635,375.4 647.5,376.5 C660,377.6 672.5,378.7 685,379.7 C697.5,380.7 711,381.72 722.5,382.5 C734,383.28 748.75,384.08 754,384.4" fill="none" stroke="#ff0000" stroke-width="5" stroke-linejoin="bevel"/>
<path d="M193.1,295 C193.42,298.12 194.43,307.5 195,313.75 C195.57,320 196.03,326.56 196.5,332.5 C196.97,338.44 197.12,344.75 197.8,349.4 C198.48,354.05 199.57,358.3 200.6,360.4 C201.63,362.5 202.9,361.77 204,362 C205.1,362.23 205.57,361.09 207.2,361.8 C208.82,362.51 211.57,364.72 213.75,366.25 C215.93,367.78 218.26,369.68 220.3,371 C222.34,372.32 224.43,374.2 226,374.2 C227.57,374.2 228.47,372.95 229.7,371 C230.93,369.05 232,364.95 233.4,362.5 C234.8,360.05 236.68,356.93 238.1,356.3 C239.52,355.68 240.65,357.09 241.9,358.75 C243.15,360.41 244.2,364.06 245.6,366.25 C247,368.44 248.42,370.49 250.3,371.9 C252.18,373.31 254.55,373.45 256.9,374.7 C259.25,375.95 261.9,378 264.4,379.4 C266.9,380.8 269.4,382.12 271.9,383.1 C274.4,384.08 277.37,384.05 279.4,385.3 C281.43,386.55 282.7,388.32 284.1,390.6 C285.5,392.88 286.4,396.5 287.8,399 C289.2,401.5 290.47,403.87 292.5,405.6 C294.53,407.33 297.18,408.46 300,409.4 C302.82,410.34 306.27,411.18 309.4,411.25 C312.52,411.32 315.32,410.05 318.75,409.8 C322.18,409.55 325,410.28 330,409.75 C335,409.22 342.5,407.91 348.75,406.6 C355,405.29 361.25,403.93 367.5,401.9 C373.75,399.87 380,396.9 386.25,394.4 C392.5,391.9 398.75,389.25 405,386.9 C411.25,384.55 417.5,382.33 423.75,380.3 C430,378.27 436.25,376.32 442.5,374.7 C448.75,373.08 455,371.7 461.25,370.6 C467.5,369.5 475.42,368.68 480,368.1 C484.58,367.52 484.17,367.58 488.75,367.1 C493.33,366.62 501.25,365.65 507.5,365.25 C513.75,364.85 520,364.72 526.25,364.7 C532.5,364.68 538.75,364.78 545,365.1 C551.25,365.42 557.5,366.13 563.75,366.6 C570,367.07 574.79,367.43 582.5,367.9 C590.21,368.37 599.17,368.84 610,369.4 C620.83,369.96 635,370.63 647.5,371.25 C660,371.87 672.5,372.54 685,373.1 C697.5,373.66 711,374.18 722.5,374.6 C734,375.02 748.75,375.43 754,375.6" fill="none" stroke="#000" stroke-width="5.5" stroke-linejoin="round" stroke-dasharray="17 4.6"/>
<path d="M124.5,499.4 H754" stroke="#8c8c8c" stroke-width="1" stroke-dasharray="7.5 2.1"/>
</g>
<path d="M132.89,539.5 v-2.8 M132.89,297.5 v2.8 M141.29,539.5 v-2.8 M141.29,297.5 v2.8 M149.68,539.5 v-2.8 M149.68,297.5 v2.8 M158.07,539.5 v-2.8 M158.07,297.5 v2.8 M166.47,539.5 v-5 M166.47,297.5 v5 M174.86,539.5 v-2.8 M174.86,297.5 v2.8 M183.25,539.5 v-2.8 M183.25,297.5 v2.8 M191.65,539.5 v-2.8 M191.65,297.5 v2.8 M200.04,539.5 v-2.8 M200.04,297.5 v2.8 M208.43,539.5 v-2.8 M208.43,297.5 v2.8 M216.83,539.5 v-2.8 M216.83,297.5 v2.8 M225.22,539.5 v-2.8 M225.22,297.5 v2.8 M233.61,539.5 v-2.8 M233.61,297.5 v2.8 M242.01,539.5 v-2.8 M242.01,297.5 v2.8 M250.4,539.5 v-5 M250.4,297.5 v5 M258.79,539.5 v-2.8 M258.79,297.5 v2.8 M267.19,539.5 v-2.8 M267.19,297.5 v2.8 M275.58,539.5 v-2.8 M275.58,297.5 v2.8 M283.97,539.5 v-2.8 M283.97,297.5 v2.8 M292.37,539.5 v-2.8 M292.37,297.5 v2.8 M300.76,539.5 v-2.8 M300.76,297.5 v2.8 M309.15,539.5 v-2.8 M309.15,297.5 v2.8 M317.55,539.5 v-2.8 M317.55,297.5 v2.8 M325.94,539.5 v-2.8 M325.94,297.5 v2.8 M334.33,539.5 v-5 M334.33,297.5 v5 M342.73,539.5 v-2.8 M342.73,297.5 v2.8 M351.12,539.5 v-2.8 M351.12,297.5 v2.8 M359.51,539.5 v-2.8 M359.51,297.5 v2.8 M367.91,539.5 v-2.8 M367.91,297.5 v2.8 M376.3,539.5 v-2.8 M376.3,297.5 v2.8 M384.69,539.5 v-2.8 M384.69,297.5 v2.8 M393.09,539.5 v-2.8 M393.09,297.5 v2.8 M401.48,539.5 v-2.8 M401.48,297.5 v2.8 M409.87,539.5 v-2.8 M409.87,297.5 v2.8 M418.27,539.5 v-5 M418.27,297.5 v5 M426.66,539.5 v-2.8 M426.66,297.5 v2.8 M435.05,539.5 v-2.8 M435.05,297.5 v2.8 M443.45,539.5 v-2.8 M443.45,297.5 v2.8 M451.84,539.5 v-2.8 M451.84,297.5 v2.8 M460.23,539.5 v-2.8 M460.23,297.5 v2.8 M468.63,539.5 v-2.8 M468.63,297.5 v2.8 M477.02,539.5 v-2.8 M477.02,297.5 v2.8 M485.41,539.5 v-2.8 M485.41,297.5 v2.8 M493.81,539.5 v-2.8 M493.81,297.5 v2.8 M502.2,539.5 v-5 M502.2,297.5 v5 M510.59,539.5 v-2.8 M510.59,297.5 v2.8 M518.99,539.5 v-2.8 M518.99,297.5 v2.8 M527.38,539.5 v-2.8 M527.38,297.5 v2.8 M535.77,539.5 v-2.8 M535.77,297.5 v2.8 M544.17,539.5 v-2.8 M544.17,297.5 v2.8 M552.56,539.5 v-2.8 M552.56,297.5 v2.8 M560.95,539.5 v-2.8 M560.95,297.5 v2.8 M569.35,539.5 v-2.8 M569.35,297.5 v2.8 M577.74,539.5 v-2.8 M577.74,297.5 v2.8 M586.13,539.5 v-5 M586.13,297.5 v5 M594.53,539.5 v-2.8 M594.53,297.5 v2.8 M602.92,539.5 v-2.8 M602.92,297.5 v2.8 M611.31,539.5 v-2.8 M611.31,297.5 v2.8 M619.71,539.5 v-2.8 M619.71,297.5 v2.8 M628.1,539.5 v-2.8 M628.1,297.5 v2.8 M636.49,539.5 v-2.8 M636.49,297.5 v2.8 M644.89,539.5 v-2.8 M644.89,297.5 v2.8 M653.28,539.5 v-2.8 M653.28,297.5 v2.8 M661.67,539.5 v-2.8 M661.67,297.5 v2.8 M670.07,539.5 v-5 M670.07,297.5 v5 M678.46,539.5 v-2.8 M678.46,297.5 v2.8 M686.85,539.5 v-2.8 M686.85,297.5 v2.8 M695.25,539.5 v-2.8 M695.25,297.5 v2.8 M703.64,539.5 v-2.8 M703.64,297.5 v2.8 M712.03,539.5 v-2.8 M712.03,297.5 v2.8 M720.43,539.5 v-2.8 M720.43,297.5 v2.8 M728.82,539.5 v-2.8 M728.82,297.5 v2.8 M737.21,539.5 v-2.8 M737.21,297.5 v2.8 M745.61,539.5 v-2.8 M745.61,297.5 v2.8 M124.5,499 h5 M754,499 h-5 M124.5,458.6 h5 M754,458.6 h-5 M124.5,418.2 h5 M754,418.2 h-5 M124.5,377.8 h5 M754,377.8 h-5 M124.5,337.4 h5 M754,337.4 h-5 M124.5,519.2 h2.8 M754,519.2 h-2.8 M124.5,478.8 h2.8 M754,478.8 h-2.8 M124.5,438.4 h2.8 M754,438.4 h-2.8 M124.5,398 h2.8 M754,398 h-2.8 M124.5,357.6 h2.8 M754,357.6 h-2.8 M124.5,317.2 h2.8 M754,317.2 h-2.8" stroke="#000" stroke-width="1.1" fill="none"/>
<rect x="124.5" y="297.5" width="629.5" height="242" fill="none" stroke="#111" stroke-width="1.2"/>
<text transform="translate(110.5,305.7) scale(0.97,1)" font-size="24.3" text-anchor="end" >1.0</text>
<text transform="translate(110.5,346.1) scale(0.97,1)" font-size="24.3" text-anchor="end" >0.8</text>
<text transform="translate(110.5,386.5) scale(0.97,1)" font-size="24.3" text-anchor="end" >0.6</text>
<text transform="translate(110.5,426.9) scale(0.97,1)" font-size="24.3" text-anchor="end" >0.4</text>
<text transform="translate(110.5,467.3) scale(0.97,1)" font-size="24.3" text-anchor="end" >0.2</text>
<text transform="translate(110.5,507.7) scale(0.97,1)" font-size="24.3" text-anchor="end" >0.0</text>
<text transform="translate(110.5,548.1) scale(0.97,1)" font-size="24.3" text-anchor="end" >-0.2</text>
<text transform="translate(41.5,418.5) rotate(-90) scale(0.89,1)" font-size="32.8" text-anchor="middle">cum AF (-)</text>
<text transform="translate(128.63,337.5) scale(0.98,1)" font-size="51.2" text-anchor="start" >B</text>
<path d="M553.75,315 H588.75" stroke="#000" stroke-width="5.6" stroke-dasharray="17.5 3.75"/>
<text transform="translate(597,322.3) scale(0.98,1.06)" font-size="19.6" text-anchor="start" >CMIP5@RCP8.5</text>
<text transform="translate(134.5,442) scale(0.98,1.06)" font-size="19.6" text-anchor="start" >CDR:</text>
<path d="M135,452.5 H169.5" stroke="#0000ff" stroke-width="5"/>
<text transform="translate(177,459) scale(0.98,1.06)" font-size="19.6" text-anchor="start" >DAC or BECCS</text>
<path d="M135,475.8 H169.5" stroke="#00ffff" stroke-width="2.5"/>
<text transform="translate(177,482.3) scale(0.98,1.06)" font-size="19.6" text-anchor="start" >DACs or BECCSs</text>
<path d="M135,499.1 H169.5" stroke="#ffa500" stroke-width="5"/>
<text transform="translate(177,505.6) scale(0.98,1.06)" font-size="19.6" text-anchor="start" >EW</text>
<path d="M135,522.4 H169.5" stroke="#ffd700" stroke-width="2.5"/>
<text transform="translate(177,528.9) scale(0.98,1.06)" font-size="19.6" text-anchor="start" >EWs</text>
<clipPath id="clipC"><rect x="124.5" y="564" width="629.5" height="242"/></clipPath>
<g clip-path="url(#clipC)">
<path d="M362,753.8 L363,754.13 L364,754.44 L365,754.73 L366,755 L367,755.25 L368,755.5 L369,755.75 L370,755.99 L371,756.24 L372,756.49 L373,756.74 L374,756.99 L375,757.25 L376,757.51 L377,757.77 L378,758.03 L379,758.3 L380,758.57 L381,758.84 L382,759.11 L383,759.39 L384,759.67 L385,759.96 L386,760.24 L387,760.53 L388,760.83 L389,761.12 L390,761.42 L391,761.72 L392,762.03 L393,762.33 L394,762.64 L395,762.95 L396,763.26 L397,763.57 L398,763.88 L399,764.2 L400,764.51 L401,764.81 L402,765.11 L403,765.41 L404,765.7 L405,765.99 L406,766.26 L407,766.53 L408,766.78 L409,767.03 L410,767.27 L411,767.49 L412,767.71 L413,767.92 L414,768.12 L415,768.31 L416,768.5 L417,768.68 L418,768.86 L419,769.03 L420,769.2 L421,769.37 L422,769.54 L423,769.71 L424,769.88 L425,770.05 L426,770.23 L427,770.4 L428,770.58 L429,770.76 L430,770.94 L431,771.12 L432,771.31 L433,771.49 L434,771.68 L435,771.87 L436,772.06 L437,772.24 L438,772.43 L439,772.63 L440,772.82 L441,773.01 L442,773.2 L443,773.39 L444,773.58 L445,773.77 L446,773.95 L447,774.14 L448,774.33 L449,774.52 L450,774.71 L451,774.89 L452,775.08 L453,775.26 L454,775.45 L455,775.63 L456,775.82 L457,776 L458,776.19 L459,776.37 L460,776.55 L461,776.74 L462,776.92 L463,777.1 L464,777.28 L465,777.46 L466,777.64 L467,777.81 L468,777.99 L469,778.17 L470,778.34 L471,778.51 L472,778.68 L473,778.85 L474,779.01 L475,779.17 L476,779.34 L477,779.49 L478,779.65 L479,779.81 L480,779.96 L481,780.11 L482,780.26 L483,780.4 L484,780.55 L485,780.69 L486,780.83 L487,780.97 L488,781.11 L489,781.24 L490,781.37 L491,781.51 L492,781.64 L493,781.77 L494,781.9 L495,782.03 L496,782.15 L497,782.28 L498,782.41 L499,782.53 L500,782.66 L501,782.78 L502,782.9 L503,783.03 L504,783.15 L505,783.27 L506,783.4 L507,783.52 L508,783.64 L509,783.77 L510,783.89 L511,784.01 L512,784.14 L513,784.26 L514,784.39 L515,784.51 L516,784.64 L517,784.76 L518,784.89 L519,785.02 L520,785.14 L521,785.27 L522,785.4 L523,785.53 L524,785.66 L525,785.78 L526,785.91 L527,786.04 L528,786.17 L529,786.3 L530,786.42 L531,786.55 L532,786.68 L533,786.8 L534,786.93 L535,787.05 L536,787.17 L537,787.29 L538,787.41 L539,787.53 L540,787.65 L541,787.76 L542,787.87 L543,787.99 L544,788.1 L545,788.2 L546,788.31 L547,788.41 L548,788.52 L549,788.62 L550,788.72 L551,788.81 L552,788.91 L553,789 L554,789.1 L555,789.19 L556,789.28 L557,789.36 L558,789.45 L559,789.54 L560,789.62 L561,789.71 L562,789.79 L563,789.87 L564,789.95 L565,790.03 L566,790.11 L567,790.19 L568,790.27 L569,790.34 L570,790.42 L571,790.49 L572,790.57 L573,790.64 L574,790.72 L575,790.79 L576,790.86 L577,790.93 L578,791 L579,791.08 L580,791.15 L581,791.22 L582,791.29 L583,791.36 L584,791.43 L585,791.5 L586,791.57 L587,791.63 L588,791.7 L589,791.77 L590,791.84 L591,791.91 L592,791.97 L593,792.04 L594,792.11 L595,792.17 L596,792.24 L597,792.31 L598,792.37 L599,792.44 L600,792.5 L601,792.56 L602,792.63 L603,792.69 L604,792.75 L605,792.81 L606,792.87 L607,792.93 L608,792.99 L609,793.05 L610,793.11 L611,793.16 L612,793.22 L613,793.27 L614,793.33 L615,793.38 L616,793.43 L617,793.49 L618,793.54 L619,793.59 L620,793.63 L621,793.68 L622,793.73 L623,793.78 L624,793.82 L625,793.87 L626,793.91 L627,793.95 L628,794 L629,794.04 L630,794.08 L631,794.12 L632,794.16 L633,794.2 L634,794.24 L635,794.28 L636,794.32 L637,794.36 L638,794.39 L639,794.43 L640,794.47 L641,794.5 L642,794.54 L643,794.58 L644,794.61 L645,794.65 L646,794.68 L647,794.72 L648,794.76 L649,794.79 L650,794.83 L651,794.86 L652,794.9 L653,794.93 L654,794.96 L655,795 L656,795.03 L657,795.07 L658,795.1 L659,795.14 L660,795.17 L661,795.21 L662,795.24 L663,795.27 L664,795.31 L665,795.34 L666,795.38 L667,795.41 L668,795.44 L669,795.48 L670,795.51 L671,795.54 L672,795.57 L673,795.61 L674,795.64 L675,795.67 L676,795.7 L677,795.73 L678,795.76 L679,795.79 L680,795.82 L681,795.85 L682,795.88 L683,795.91 L684,795.93 L685,795.96 L686,795.99 L687,796.01 L688,796.04 L689,796.07 L690,796.09 L691,796.11 L692,796.14 L693,796.16 L694,796.18 L695,796.21 L696,796.23 L697,796.25 L698,796.27 L699,796.29 L700,796.31 L701,796.33 L702,796.35 L703,796.37 L704,796.39 L705,796.41 L706,796.43 L707,796.45 L708,796.47 L709,796.49 L710,796.51 L711,796.53 L712,796.54 L713,796.56 L714,796.58 L715,796.6 L716,796.62 L717,796.64 L718,796.66 L719,796.68 L720,796.7 L721,796.72 L722,796.74 L723,796.76 L724,796.78 L725,796.8 L726,796.83 L727,796.85 L728,796.87 L729,796.89 L730,796.92 L731,796.94 L732,796.96 L733,796.98 L734,797.01 L735,797.03 L736,797.05 L737,797.08 L738,797.1 L739,797.13 L740,797.15 L741,797.17 L742,797.2 L743,797.22 L744,797.24 L745,797.27 L746,797.29 L747,797.32 L748,797.34 L749,797.36 L750,797.39 L751,797.42 L752,797.44 L753,797.47 L754,797.5" fill="none" stroke="#0000ff" stroke-width="5" stroke-linejoin="round" />
<path d="M362,753.5 L363,753.36 L364,753.26 L365,753.21 L366,753.21 L367,753.25 L368,753.32 L369,753.4 L370,753.5 L371,753.61 L372,753.72 L373,753.83 L374,753.95 L375,754.06 L376,754.17 L377,754.29 L378,754.41 L379,754.54 L380,754.67 L381,754.79 L382,754.92 L383,755.05 L384,755.18 L385,755.31 L386,755.44 L387,755.56 L388,755.69 L389,755.82 L390,755.95 L391,756.08 L392,756.21 L393,756.34 L394,756.48 L395,756.61 L396,756.74 L397,756.87 L398,757.01 L399,757.14 L400,757.27 L401,757.4 L402,757.52 L403,757.65 L404,757.77 L405,757.88 L406,757.99 L407,758.1 L408,758.2 L409,758.3 L410,758.39 L411,758.48 L412,758.57 L413,758.65 L414,758.72 L415,758.79 L416,758.86 L417,758.93 L418,758.99 L419,759.06 L420,759.12 L421,759.18 L422,759.24 L423,759.3 L424,759.36 L425,759.41 L426,759.47 L427,759.53 L428,759.59 L429,759.66 L430,759.72 L431,759.78 L432,759.84 L433,759.9 L434,759.97 L435,760.03 L436,760.09 L437,760.15 L438,760.22 L439,760.28 L440,760.34 L441,760.4 L442,760.46 L443,760.52 L444,760.58 L445,760.64 L446,760.7 L447,760.76 L448,760.81 L449,760.87 L450,760.92 L451,760.97 L452,761.02 L453,761.07 L454,761.12 L455,761.16 L456,761.2 L457,761.25 L458,761.29 L459,761.33 L460,761.36 L461,761.4 L462,761.43 L463,761.47 L464,761.5 L465,761.53 L466,761.56 L467,761.59 L468,761.62 L469,761.65 L470,761.68 L471,761.71 L472,761.75 L473,761.78 L474,761.81 L475,761.84 L476,761.88 L477,761.92 L478,761.95 L479,761.99 L480,762.03 L481,762.08 L482,762.12 L483,762.17 L484,762.21 L485,762.26 L486,762.32 L487,762.37 L488,762.42 L489,762.48 L490,762.54 L491,762.6 L492,762.66 L493,762.72 L494,762.79 L495,762.86 L496,762.92 L497,762.99 L498,763.07 L499,763.14 L500,763.21 L501,763.29 L502,763.37 L503,763.45 L504,763.53 L505,763.61 L506,763.7 L507,763.79 L508,763.88 L509,763.97 L510,764.06 L511,764.16 L512,764.26 L513,764.36 L514,764.46 L515,764.57 L516,764.68 L517,764.8 L518,764.92 L519,765.04 L520,765.17 L521,765.31 L522,765.44 L523,765.58 L524,765.73 L525,765.88 L526,766.03 L527,766.19 L528,766.35 L529,766.52 L530,766.68 L531,766.85 L532,767.02 L533,767.2 L534,767.37 L535,767.55 L536,767.73 L537,767.9 L538,768.08 L539,768.26 L540,768.44 L541,768.62 L542,768.8 L543,768.97 L544,769.15 L545,769.32 L546,769.5 L547,769.67 L548,769.84 L549,770.01 L550,770.18 L551,770.35 L552,770.52 L553,770.69 L554,770.85 L555,771.02 L556,771.19 L557,771.36 L558,771.52 L559,771.69 L560,771.85 L561,772.02 L562,772.19 L563,772.35 L564,772.52 L565,772.68 L566,772.85 L567,773.01 L568,773.18 L569,773.34 L570,773.5 L571,773.66 L572,773.82 L573,773.98 L574,774.14 L575,774.29 L576,774.45 L577,774.6 L578,774.75 L579,774.9 L580,775.05 L581,775.2 L582,775.35 L583,775.49 L584,775.63 L585,775.77 L586,775.91 L587,776.05 L588,776.19 L589,776.33 L590,776.46 L591,776.59 L592,776.73 L593,776.86 L594,776.99 L595,777.12 L596,777.25 L597,777.38 L598,777.5 L599,777.63 L600,777.75 L601,777.88 L602,778 L603,778.12 L604,778.24 L605,778.36 L606,778.48 L607,778.59 L608,778.71 L609,778.82 L610,778.93 L611,779.04 L612,779.15 L613,779.26 L614,779.37 L615,779.47 L616,779.58 L617,779.68 L618,779.78 L619,779.88 L620,779.98 L621,780.08 L622,780.17 L623,780.27 L624,780.36 L625,780.45 L626,780.55 L627,780.64 L628,780.73 L629,780.82 L630,780.91 L631,780.99 L632,781.08 L633,781.16 L634,781.25 L635,781.33 L636,781.42 L637,781.5 L638,781.58 L639,781.66 L640,781.74 L641,781.81 L642,781.89 L643,781.96 L644,782.04 L645,782.11 L646,782.18 L647,782.25 L648,782.32 L649,782.39 L650,782.46 L651,782.53 L652,782.59 L653,782.65 L654,782.72 L655,782.78 L656,782.84 L657,782.9 L658,782.96 L659,783.01 L660,783.07 L661,783.13 L662,783.18 L663,783.23 L664,783.29 L665,783.34 L666,783.39 L667,783.44 L668,783.49 L669,783.54 L670,783.59 L671,783.64 L672,783.68 L673,783.73 L674,783.78 L675,783.82 L676,783.87 L677,783.92 L678,783.96 L679,784.01 L680,784.05 L681,784.1 L682,784.14 L683,784.19 L684,784.23 L685,784.28 L686,784.32 L687,784.37 L688,784.41 L689,784.46 L690,784.5 L691,784.55 L692,784.59 L693,784.64 L694,784.68 L695,784.73 L696,784.77 L697,784.82 L698,784.86 L699,784.91 L700,784.95 L701,784.99 L702,785.04 L703,785.08 L704,785.13 L705,785.17 L706,785.21 L707,785.26 L708,785.3 L709,785.34 L710,785.39 L711,785.43 L712,785.47 L713,785.51 L714,785.55 L715,785.6 L716,785.64 L717,785.68 L718,785.72 L719,785.76 L720,785.8 L721,785.84 L722,785.88 L723,785.92 L724,785.96 L725,785.99 L726,786.03 L727,786.07 L728,786.11 L729,786.15 L730,786.18 L731,786.22 L732,786.26 L733,786.29 L734,786.33 L735,786.36 L736,786.4 L737,786.44 L738,786.47 L739,786.5 L740,786.54 L741,786.57 L742,786.61 L743,786.64 L744,786.67 L745,786.71 L746,786.74 L747,786.77 L748,786.8 L749,786.83 L750,786.86 L751,786.9 L752,786.93 L753,786.96 L754,787" fill="none" stroke="#ffa500" stroke-width="5" stroke-linejoin="round" />
<path d="M362,753.8 L366.25,754.6 L395,761.25 L395,761.25 L396,759.47 L397,757.79 L398,756.2 L399,754.68 L400,753.2 L401,751.75 L402,750.32 L403,748.89 L404,747.47 L405,746.04 L406,744.61 L407,743.18 L408,741.75 L409,740.31 L410,738.87 L411,737.43 L412,735.99 L413,734.56 L414,733.13 L415,731.7 L416,730.28 L417,728.86 L418,727.44 L419,726.02 L420,724.61 L421,723.19 L422,721.77 L423,720.35 L424,718.93 L425,717.51 L426,716.08 L427,714.65 L428,713.22 L429,711.79 L430,710.36 L431,708.92 L432,707.48 L433,706.04 L434,704.61 L435,703.17 L436,701.73 L437,700.28 L438,698.84 L439,697.4 L440,695.96 L441,694.53 L442,693.09 L443,691.66 L444,690.24 L445,688.82 L446,687.42 L447,686.02 L448,684.65 L449,683.29 L450,681.95 L451,680.63 L452,679.34 L453,678.08 L454,676.84 L455,675.64 L456,674.46 L457,673.3 L458,672.18 L459,671.08 L460,670 L461,668.94 L462,667.9 L463,666.87 L464,665.86 L465,664.86 L466,663.87 L467,662.88 L468,661.9 L469,660.92 L470,659.94 L471,658.97 L472,657.99 L473,657.02 L474,656.04 L475,655.07 L476,654.1 L477,653.13 L478,652.16 L479,651.2 L480,650.25 L481,649.3 L482,648.36 L483,647.43 L484,646.5 L485,645.59 L486,644.69 L487,643.79 L488,642.91 L489,642.04 L490,641.19 L491,640.34 L492,639.51 L493,638.7 L494,637.9 L495,637.11 L496,636.35 L497,635.61 L498,634.88 L499,634.18 L500,633.51 L501,632.86 L502,632.24 L503,631.64 L504,631.07 L505,630.53 L506,630.02 L507,629.54 L508,629.07 L509,628.64 L510,628.23 L511,627.84 L512,627.48 L513,627.13 L514,626.81 L515,626.52 L516,626.24 L517,625.98 L518,625.74 L519,625.53 L520,625.33 L521,625.15 L522,624.99 L523,624.84 L524,624.72 L525,624.61 L526,624.52 L527,624.45 L528,624.4 L529,624.36 L530,624.33 L531,624.33 L532,624.34 L533,624.36 L534,624.39 L535,624.44 L536,624.5 L537,624.57 L538,624.64 L539,624.73 L540,624.82 L541,624.92 L542,625.02 L543,625.13 L544,625.24 L545,625.36 L546,625.48 L547,625.6 L548,625.73 L549,625.85 L550,625.98 L551,626.11 L552,626.25 L553,626.38 L554,626.51 L555,626.65 L556,626.78 L557,626.91 L558,627.04 L559,627.17 L560,627.3 L561,627.43 L562,627.56 L563,627.68 L564,627.81 L565,627.93 L566,628.06 L567,628.18 L568,628.3 L569,628.42 L570,628.54 L571,628.66 L572,628.78 L573,628.9 L574,629.02 L575,629.13 L576,629.25 L577,629.36 L578,629.47 L579,629.58 L580,629.69 L581,629.8 L582,629.91 L583,630.02 L584,630.12 L585,630.22 L586,630.33 L587,630.43 L588,630.53 L589,630.62 L590,630.72 L591,630.82 L592,630.91 L593,631.01 L594,631.1 L595,631.19 L596,631.28 L597,631.37 L598,631.46 L599,631.55 L600,631.64 L601,631.73 L602,631.81 L603,631.9 L604,631.99 L605,632.07 L606,632.16 L607,632.24 L608,632.33 L609,632.41 L610,632.5 L611,632.58 L612,632.67 L613,632.75 L614,632.84 L615,632.92 L616,633 L617,633.09 L618,633.17 L619,633.25 L620,633.34 L621,633.42 L622,633.5 L623,633.58 L624,633.66 L625,633.74 L626,633.82 L627,633.89 L628,633.97 L629,634.05 L630,634.12 L631,634.2 L632,634.27 L633,634.34 L634,634.41 L635,634.48 L636,634.55 L637,634.62 L638,634.69 L639,634.76 L640,634.82 L641,634.89 L642,634.96 L643,635.02 L644,635.08 L645,635.15 L646,635.21 L647,635.27 L648,635.33 L649,635.39 L650,635.45 L651,635.51 L652,635.56 L653,635.62 L654,635.67 L655,635.73 L656,635.78 L657,635.83 L658,635.88 L659,635.93 L660,635.98 L661,636.03 L662,636.08 L663,636.12 L664,636.17 L665,636.21 L666,636.25 L667,636.3 L668,636.34 L669,636.38 L670,636.42 L671,636.46 L672,636.5 L673,636.54 L674,636.58 L675,636.62 L676,636.66 L677,636.69 L678,636.73 L679,636.77 L680,636.81 L681,636.85 L682,636.89 L683,636.93 L684,636.97 L685,637 L686,637.04 L687,637.08 L688,637.12 L689,637.16 L690,637.2 L691,637.24 L692,637.28 L693,637.33 L694,637.37 L695,637.41 L696,637.45 L697,637.49 L698,637.53 L699,637.57 L700,637.61 L701,637.65 L702,637.69 L703,637.73 L704,637.77 L705,637.8 L706,637.84 L707,637.88 L708,637.92 L709,637.96 L710,638 L711,638.03 L712,638.07 L713,638.11 L714,638.14 L715,638.18 L716,638.22 L717,638.25 L718,638.29 L719,638.33 L720,638.36 L721,638.4 L722,638.43 L723,638.47 L724,638.51 L725,638.54 L726,638.58 L727,638.61 L728,638.65 L729,638.68 L730,638.72 L731,638.75 L732,638.78 L733,638.82 L734,638.85 L735,638.89 L736,638.92 L737,638.95 L738,638.99 L739,639.02 L740,639.05 L741,639.09 L742,639.12 L743,639.15 L744,639.18 L745,639.21 L746,639.24 L747,639.27 L748,639.31 L749,639.34 L750,639.37 L751,639.4 L752,639.43 L753,639.46 L754,639.5" fill="none" stroke="#00ffff" stroke-width="2.5" stroke-linejoin="round" />
<path d="M362,753 L366.25,752.8 L392.5,755.6 L392.5,755.6 L393.5,754.21 L394.5,752.89 L395.5,751.62 L396.49,750.39 L397.49,749.18 L398.49,747.98 L399.49,746.79 L400.49,745.58 L401.49,744.37 L402.49,743.15 L403.48,741.91 L404.48,740.66 L405.48,739.41 L406.48,738.15 L407.48,736.88 L408.48,735.59 L409.48,734.3 L410.48,733 L411.47,731.69 L412.47,730.38 L413.47,729.06 L414.47,727.74 L415.47,726.41 L416.47,725.08 L417.47,723.75 L418.46,722.41 L419.46,721.07 L420.46,719.73 L421.46,718.38 L422.46,717.04 L423.46,715.69 L424.46,714.34 L425.45,712.98 L426.45,711.63 L427.45,710.26 L428.45,708.9 L429.45,707.52 L430.45,706.14 L431.45,704.75 L432.44,703.35 L433.44,701.95 L434.44,700.53 L435.44,699.1 L436.44,697.67 L437.44,696.23 L438.44,694.78 L439.44,693.33 L440.43,691.89 L441.43,690.44 L442.43,689 L443.43,687.56 L444.43,686.14 L445.43,684.73 L446.43,683.34 L447.42,681.97 L448.42,680.62 L449.42,679.29 L450.42,677.99 L451.42,676.71 L452.42,675.45 L453.42,674.22 L454.41,673.01 L455.41,671.82 L456.41,670.65 L457.41,669.5 L458.41,668.37 L459.41,667.25 L460.41,666.15 L461.4,665.06 L462.4,663.98 L463.4,662.92 L464.4,661.87 L465.4,660.83 L466.4,659.8 L467.4,658.77 L468.4,657.76 L469.39,656.76 L470.39,655.76 L471.39,654.78 L472.39,653.8 L473.39,652.83 L474.39,651.87 L475.39,650.91 L476.38,649.96 L477.38,649.02 L478.38,648.08 L479.38,647.14 L480.38,646.21 L481.38,645.29 L482.38,644.36 L483.37,643.44 L484.37,642.51 L485.37,641.59 L486.37,640.68 L487.37,639.77 L488.37,638.86 L489.37,637.97 L490.36,637.08 L491.36,636.21 L492.36,635.35 L493.36,634.52 L494.36,633.71 L495.36,632.92 L496.36,632.16 L497.35,631.43 L498.35,630.73 L499.35,630.06 L500.35,629.42 L501.35,628.82 L502.35,628.24 L503.35,627.7 L504.35,627.18 L505.34,626.7 L506.34,626.24 L507.34,625.82 L508.34,625.41 L509.34,625.04 L510.34,624.69 L511.34,624.37 L512.33,624.07 L513.33,623.79 L514.33,623.54 L515.33,623.31 L516.33,623.1 L517.33,622.9 L518.33,622.73 L519.32,622.57 L520.32,622.43 L521.32,622.3 L522.32,622.18 L523.32,622.08 L524.32,622 L525.32,621.92 L526.31,621.86 L527.31,621.81 L528.31,621.78 L529.31,621.76 L530.31,621.75 L531.31,621.75 L532.31,621.76 L533.31,621.79 L534.3,621.83 L535.3,621.87 L536.3,621.93 L537.3,622 L538.3,622.07 L539.3,622.15 L540.3,622.24 L541.29,622.34 L542.29,622.44 L543.29,622.55 L544.29,622.66 L545.29,622.78 L546.29,622.91 L547.29,623.04 L548.28,623.17 L549.28,623.31 L550.28,623.45 L551.28,623.59 L552.28,623.74 L553.28,623.89 L554.28,624.05 L555.27,624.2 L556.27,624.36 L557.27,624.52 L558.27,624.67 L559.27,624.83 L560.27,624.98 L561.27,625.14 L562.27,625.29 L563.26,625.44 L564.26,625.58 L565.26,625.73 L566.26,625.87 L567.26,626.01 L568.26,626.15 L569.26,626.29 L570.25,626.43 L571.25,626.56 L572.25,626.69 L573.25,626.82 L574.25,626.95 L575.25,627.08 L576.25,627.2 L577.24,627.32 L578.24,627.45 L579.24,627.56 L580.24,627.68 L581.24,627.8 L582.24,627.91 L583.24,628.02 L584.23,628.13 L585.23,628.24 L586.23,628.34 L587.23,628.45 L588.23,628.55 L589.23,628.65 L590.23,628.75 L591.23,628.85 L592.22,628.94 L593.22,629.04 L594.22,629.13 L595.22,629.22 L596.22,629.31 L597.22,629.4 L598.22,629.49 L599.21,629.58 L600.21,629.67 L601.21,629.75 L602.21,629.84 L603.21,629.92 L604.21,630.01 L605.21,630.09 L606.2,630.18 L607.2,630.26 L608.2,630.35 L609.2,630.43 L610.2,630.52 L611.2,630.6 L612.2,630.69 L613.19,630.77 L614.19,630.85 L615.19,630.94 L616.19,631.02 L617.19,631.1 L618.19,631.19 L619.19,631.27 L620.19,631.35 L621.18,631.43 L622.18,631.51 L623.18,631.59 L624.18,631.67 L625.18,631.75 L626.18,631.83 L627.18,631.91 L628.17,631.98 L629.17,632.06 L630.17,632.14 L631.17,632.21 L632.17,632.28 L633.17,632.35 L634.17,632.43 L635.16,632.5 L636.16,632.57 L637.16,632.63 L638.16,632.7 L639.16,632.77 L640.16,632.84 L641.16,632.9 L642.15,632.97 L643.15,633.03 L644.15,633.09 L645.15,633.16 L646.15,633.22 L647.15,633.28 L648.15,633.34 L649.15,633.4 L650.14,633.46 L651.14,633.51 L652.14,633.57 L653.14,633.63 L654.14,633.68 L655.14,633.73 L656.14,633.79 L657.13,633.84 L658.13,633.89 L659.13,633.94 L660.13,633.99 L661.13,634.03 L662.13,634.08 L663.13,634.13 L664.12,634.17 L665.12,634.22 L666.12,634.26 L667.12,634.3 L668.12,634.34 L669.12,634.38 L670.12,634.42 L671.11,634.46 L672.11,634.5 L673.11,634.54 L674.11,634.58 L675.11,634.62 L676.11,634.66 L677.11,634.7 L678.1,634.74 L679.1,634.78 L680.1,634.81 L681.1,634.85 L682.1,634.89 L683.1,634.93 L684.1,634.97 L685.1,635.01 L686.09,635.05 L687.09,635.09 L688.09,635.13 L689.09,635.17 L690.09,635.21 L691.09,635.25 L692.09,635.29 L693.08,635.33 L694.08,635.37 L695.08,635.41 L696.08,635.45 L697.08,635.49 L698.08,635.53 L699.08,635.57 L700.07,635.61 L701.07,635.65 L702.07,635.69 L703.07,635.73 L704.07,635.77 L705.07,635.81 L706.07,635.85 L707.06,635.88 L708.06,635.92 L709.06,635.96 L710.06,636 L711.06,636.04 L712.06,636.07 L713.06,636.11 L714.06,636.15 L715.05,636.18 L716.05,636.22 L717.05,636.26 L718.05,636.29 L719.05,636.33 L720.05,636.36 L721.05,636.4 L722.04,636.44 L723.04,636.47 L724.04,636.51 L725.04,636.54 L726.04,636.58 L727.04,636.61 L728.04,636.65 L729.03,636.68 L730.03,636.72 L731.03,636.75 L732.03,636.79 L733.03,636.82 L734.03,636.85 L735.03,636.89 L736.02,636.92 L737.02,636.95 L738.02,636.99 L739.02,637.02 L740.02,637.05 L741.02,637.09 L742.02,637.12 L743.02,637.15 L744.01,637.18 L745.01,637.21 L746.01,637.24 L747.01,637.27 L748.01,637.31 L749.01,637.34 L750.01,637.37 L751,637.4 L752,637.43 L753,637.46 L754,637.5" fill="none" stroke="#ffd700" stroke-width="2.5" stroke-linejoin="round" />
<path d="M124.5,776.9 L125.5,776.89 L126.5,776.89 L127.5,776.88 L128.5,776.88 L129.5,776.87 L130.5,776.86 L131.49,776.86 L132.49,776.85 L133.49,776.84 L134.49,776.83 L135.49,776.82 L136.49,776.81 L137.49,776.8 L138.49,776.79 L139.49,776.78 L140.49,776.77 L141.49,776.76 L142.49,776.75 L143.48,776.74 L144.48,776.73 L145.48,776.72 L146.48,776.7 L147.48,776.69 L148.48,776.68 L149.48,776.66 L150.48,776.65 L151.48,776.64 L152.48,776.62 L153.48,776.61 L154.48,776.59 L155.48,776.58 L156.47,776.56 L157.47,776.54 L158.47,776.53 L159.47,776.51 L160.47,776.5 L161.47,776.48 L162.47,776.46 L163.47,776.44 L164.47,776.43 L165.47,776.41 L166.47,776.39 L167.47,776.37 L168.47,776.35 L169.46,776.34 L170.46,776.32 L171.46,776.3 L172.46,776.28 L173.46,776.26 L174.46,776.24 L175.46,776.22 L176.46,776.2 L177.46,776.18 L178.46,776.16 L179.46,776.14 L180.46,776.12 L181.45,776.1 L182.45,776.08 L183.45,776.06 L184.45,776.04 L185.45,776.02 L186.45,775.99 L187.45,775.97 L188.45,775.95 L189.45,775.93 L190.45,775.9 L191.45,775.88 L192.45,775.85 L193.45,775.83 L194.44,775.8 L195.44,775.78 L196.44,775.75 L197.44,775.72 L198.44,775.7 L199.44,775.67 L200.44,775.64 L201.44,775.61 L202.44,775.58 L203.44,775.55 L204.44,775.52 L205.44,775.49 L206.43,775.45 L207.43,775.42 L208.43,775.39 L209.43,775.36 L210.43,775.32 L211.43,775.29 L212.43,775.25 L213.43,775.22 L214.43,775.18 L215.43,775.14 L216.43,775.11 L217.43,775.07 L218.43,775.03 L219.42,775 L220.42,774.96 L221.42,774.92 L222.42,774.88 L223.42,774.84 L224.42,774.8 L225.42,774.76 L226.42,774.72 L227.42,774.68 L228.42,774.64 L229.42,774.6 L230.42,774.56 L231.42,774.52 L232.41,774.47 L233.41,774.43 L234.41,774.39 L235.41,774.35 L236.41,774.3 L237.41,774.26 L238.41,774.22 L239.41,774.17 L240.41,774.13 L241.41,774.09 L242.41,774.04 L243.41,774 L244.4,773.95 L245.4,773.91 L246.4,773.86 L247.4,773.82 L248.4,773.77 L249.4,773.73 L250.4,773.68 L251.4,773.63 L252.4,773.59 L253.4,773.54 L254.4,773.49 L255.4,773.44 L256.4,773.39 L257.39,773.34 L258.39,773.29 L259.39,773.24 L260.39,773.19 L261.39,773.13 L262.39,773.08 L263.39,773.03 L264.39,772.97 L265.39,772.92 L266.39,772.86 L267.39,772.8 L268.39,772.74 L269.38,772.68 L270.38,772.62 L271.38,772.56 L272.38,772.5 L273.38,772.43 L274.38,772.37 L275.38,772.3 L276.38,772.23 L277.38,772.16 L278.38,772.09 L279.38,772.02 L280.38,771.94 L281.38,771.87 L282.37,771.79 L283.37,771.71 L284.37,771.63 L285.37,771.54 L286.37,771.45 L287.37,771.36 L288.37,771.26 L289.37,771.15 L290.37,771.05 L291.37,770.93 L292.37,770.81 L293.37,770.68 L294.37,770.55 L295.36,770.4 L296.36,770.25 L297.36,770.09 L298.36,769.92 L299.36,769.74 L300.36,769.56 L301.36,769.37 L302.36,769.17 L303.36,768.97 L304.36,768.77 L305.36,768.56 L306.36,768.35 L307.35,768.13 L308.35,767.92 L309.35,767.71 L310.35,767.5 L311.35,767.29 L312.35,767.08 L313.35,766.87 L314.35,766.66 L315.35,766.45 L316.35,766.24 L317.35,766.02 L318.35,765.8 L319.35,765.58 L320.34,765.35 L321.34,765.11 L322.34,764.87 L323.34,764.62 L324.34,764.37 L325.34,764.1 L326.34,763.83 L327.34,763.55 L328.34,763.26 L329.34,762.96 L330.34,762.65 L331.34,762.33 L332.33,762.01 L333.33,761.68 L334.33,761.34 L335.33,760.99 L336.33,760.63 L337.33,760.27 L338.33,759.9 L339.33,759.52 L340.33,759.13 L341.33,758.73 L342.33,758.33 L343.33,757.92 L344.33,757.5 L345.32,757.07 L346.32,756.64 L347.32,756.19 L348.32,755.74 L349.32,755.28 L350.32,754.81 L351.32,754.34 L352.32,753.85 L353.32,753.36 L354.32,752.85 L355.32,752.34 L356.32,751.82 L357.32,751.28 L358.31,750.74 L359.31,750.18 L360.31,749.61 L361.31,749.03 L362.31,748.44 L363.31,747.83 L364.31,747.22 L365.31,746.58 L366.31,745.93 L367.31,745.27 L368.31,744.59 L369.31,743.89 L370.3,743.17 L371.3,742.43 L372.3,741.68 L373.3,740.9 L374.3,740.1 L375.3,739.28 L376.3,738.44 L377.3,737.57 L378.3,736.67 L379.3,735.75 L380.3,734.8 L381.3,733.81 L382.3,732.8 L383.29,731.76 L384.29,730.69 L385.29,729.59 L386.29,728.45 L387.29,727.3 L388.29,726.11 L389.29,724.9 L390.29,723.67 L391.29,722.42 L392.29,721.16 L393.29,719.88 L394.29,718.59 L395.28,717.29 L396.28,715.99 L397.28,714.68 L398.28,713.37 L399.28,712.06 L400.28,710.75 L401.28,709.44 L402.28,708.13 L403.28,706.82 L404.28,705.51 L405.28,704.21 L406.28,702.91 L407.28,701.62 L408.27,700.32 L409.27,699.04 L410.27,697.75 L411.27,696.48 L412.27,695.2 L413.27,693.93 L414.27,692.67 L415.27,691.41 L416.27,690.15 L417.27,688.89 L418.27,687.64 L419.27,686.39 L420.27,685.14 L421.26,683.89 L422.26,682.64 L423.26,681.4 L424.26,680.15 L425.26,678.9 L426.26,677.65 L427.26,676.4 L428.26,675.15 L429.26,673.9 L430.26,672.65 L431.26,671.39 L432.26,670.14 L433.25,668.88 L434.25,667.62 L435.25,666.36 L436.25,665.09 L437.25,663.83 L438.25,662.56 L439.25,661.29 L440.25,660.01 L441.25,658.74 L442.25,657.46 L443.25,656.17 L444.25,654.89 L445.25,653.59 L446.24,652.3 L447.24,650.99 L448.24,649.69 L449.24,648.38 L450.24,647.06 L451.24,645.74 L452.24,644.41 L453.24,643.08 L454.24,641.75 L455.24,640.42 L456.24,639.09 L457.24,637.76 L458.23,636.43 L459.23,635.1 L460.23,633.78 L461.23,632.46 L462.23,631.15 L463.23,629.85 L464.23,628.56 L465.23,627.28 L466.23,626.01 L467.23,624.76 L468.23,623.52 L469.23,622.3 L470.23,621.1 L471.22,619.91 L472.22,618.75 L473.22,617.6 L474.22,616.48 L475.22,615.37 L476.22,614.28 L477.22,613.21 L478.22,612.17 L479.22,611.14 L480.22,610.14 L481.22,609.15 L482.22,608.19 L483.22,607.25 L484.21,606.33 L485.21,605.43 L486.21,604.56 L487.21,603.71 L488.21,602.88 L489.21,602.08 L490.21,601.3 L491.21,600.54 L492.21,599.8 L493.21,599.09 L494.21,598.4 L495.21,597.72 L496.2,597.07 L497.2,596.44 L498.2,595.82 L499.2,595.22 L500.2,594.64 L501.2,594.08 L502.2,593.53 L503.2,593 L504.2,592.49 L505.2,591.99 L506.2,591.51 L507.2,591.05 L508.2,590.61 L509.19,590.19 L510.19,589.78 L511.19,589.4 L512.19,589.03 L513.19,588.68 L514.19,588.35 L515.19,588.03 L516.19,587.74 L517.19,587.46 L518.19,587.19 L519.19,586.95 L520.19,586.72 L521.18,586.5 L522.18,586.31 L523.18,586.13 L524.18,585.97 L525.18,585.83 L526.18,585.71 L527.18,585.61 L528.18,585.53 L529.18,585.47 L530.18,585.43 L531.18,585.41 L532.18,585.41 L533.18,585.42 L534.17,585.45 L535.17,585.5 L536.17,585.56 L537.17,585.63 L538.17,585.7 L539.17,585.79 L540.17,585.88 L541.17,585.98 L542.17,586.08 L543.17,586.18 L544.17,586.29 L545.17,586.39 L546.17,586.5 L547.16,586.6 L548.16,586.71 L549.16,586.82 L550.16,586.92 L551.16,587.03 L552.16,587.14 L553.16,587.25 L554.16,587.37 L555.16,587.48 L556.16,587.6 L557.16,587.72 L558.16,587.85 L559.15,587.97 L560.15,588.1 L561.15,588.24 L562.15,588.38 L563.15,588.52 L564.15,588.67 L565.15,588.82 L566.15,588.97 L567.15,589.13 L568.15,589.29 L569.15,589.45 L570.15,589.62 L571.15,589.78 L572.14,589.95 L573.14,590.11 L574.14,590.28 L575.14,590.44 L576.14,590.61 L577.14,590.77 L578.14,590.92 L579.14,591.08 L580.14,591.23 L581.14,591.38 L582.14,591.52 L583.14,591.66 L584.13,591.8 L585.13,591.93 L586.13,592.06 L587.13,592.19 L588.13,592.31 L589.13,592.42 L590.13,592.54 L591.13,592.65 L592.13,592.76 L593.13,592.86 L594.13,592.97 L595.13,593.07 L596.13,593.17 L597.12,593.27 L598.12,593.37 L599.12,593.46 L600.12,593.56 L601.12,593.66 L602.12,593.75 L603.12,593.85 L604.12,593.94 L605.12,594.04 L606.12,594.14 L607.12,594.23 L608.12,594.33 L609.12,594.43 L610.11,594.53 L611.11,594.63 L612.11,594.73 L613.11,594.83 L614.11,594.93 L615.11,595.03 L616.11,595.14 L617.11,595.24 L618.11,595.34 L619.11,595.45 L620.11,595.55 L621.11,595.65 L622.1,595.75 L623.1,595.85 L624.1,595.95 L625.1,596.05 L626.1,596.15 L627.1,596.25 L628.1,596.35 L629.1,596.44 L630.1,596.53 L631.1,596.62 L632.1,596.71 L633.1,596.8 L634.1,596.89 L635.09,596.97 L636.09,597.06 L637.09,597.14 L638.09,597.22 L639.09,597.29 L640.09,597.37 L641.09,597.45 L642.09,597.52 L643.09,597.59 L644.09,597.67 L645.09,597.74 L646.09,597.81 L647.08,597.88 L648.08,597.94 L649.08,598.01 L650.08,598.08 L651.08,598.15 L652.08,598.22 L653.08,598.28 L654.08,598.35 L655.08,598.42 L656.08,598.49 L657.08,598.56 L658.08,598.63 L659.08,598.69 L660.07,598.76 L661.07,598.83 L662.07,598.9 L663.07,598.97 L664.07,599.04 L665.07,599.11 L666.07,599.18 L667.07,599.25 L668.07,599.32 L669.07,599.4 L670.07,599.47 L671.07,599.54 L672.07,599.61 L673.06,599.68 L674.06,599.75 L675.06,599.82 L676.06,599.89 L677.06,599.96 L678.06,600.03 L679.06,600.09 L680.06,600.16 L681.06,600.23 L682.06,600.3 L683.06,600.36 L684.06,600.43 L685.05,600.49 L686.05,600.56 L687.05,600.62 L688.05,600.69 L689.05,600.75 L690.05,600.82 L691.05,600.88 L692.05,600.94 L693.05,601 L694.05,601.06 L695.05,601.13 L696.05,601.19 L697.05,601.25 L698.04,601.31 L699.04,601.37 L700.04,601.43 L701.04,601.48 L702.04,601.54 L703.04,601.6 L704.04,601.66 L705.04,601.71 L706.04,601.77 L707.04,601.83 L708.04,601.88 L709.04,601.94 L710.03,601.99 L711.03,602.05 L712.03,602.1 L713.03,602.15 L714.03,602.2 L715.03,602.26 L716.03,602.31 L717.03,602.36 L718.03,602.41 L719.03,602.46 L720.03,602.51 L721.03,602.56 L722.03,602.61 L723.02,602.66 L724.02,602.71 L725.02,602.76 L726.02,602.81 L727.02,602.86 L728.02,602.91 L729.02,602.95 L730.02,603 L731.02,603.05 L732.02,603.1 L733.02,603.15 L734.02,603.2 L735.02,603.26 L736.01,603.31 L737.01,603.36 L738.01,603.41 L739.01,603.46 L740.01,603.51 L741.01,603.56 L742.01,603.61 L743.01,603.66 L744.01,603.72 L745.01,603.77 L746.01,603.82 L747.01,603.87 L748,603.92 L749,603.97 L750,604.02 L751,604.07 L752,604.13 L753,604.19 L754,604.25" fill="none" stroke="#ff0000" stroke-width="5" stroke-linejoin="round" />
<path d="M136.5,775 L137.5,774.99 L138.5,774.99 L139.5,774.98 L140.5,774.98 L141.5,774.97 L142.5,774.96 L143.49,774.96 L144.49,774.95 L145.49,774.94 L146.49,774.93 L147.49,774.93 L148.49,774.92 L149.49,774.91 L150.49,774.9 L151.49,774.89 L152.49,774.88 L153.49,774.87 L154.49,774.86 L155.48,774.85 L156.48,774.84 L157.48,774.83 L158.48,774.81 L159.48,774.8 L160.48,774.79 L161.48,774.78 L162.48,774.76 L163.48,774.75 L164.48,774.74 L165.48,774.72 L166.48,774.71 L167.47,774.7 L168.47,774.68 L169.47,774.67 L170.47,774.65 L171.47,774.64 L172.47,774.62 L173.47,774.61 L174.47,774.59 L175.47,774.58 L176.47,774.56 L177.47,774.55 L178.47,774.53 L179.47,774.51 L180.46,774.5 L181.46,774.48 L182.46,774.46 L183.46,774.45 L184.46,774.43 L185.46,774.41 L186.46,774.39 L187.46,774.37 L188.46,774.36 L189.46,774.34 L190.46,774.32 L191.46,774.29 L192.45,774.27 L193.45,774.25 L194.45,774.23 L195.45,774.21 L196.45,774.18 L197.45,774.16 L198.45,774.13 L199.45,774.11 L200.45,774.08 L201.45,774.05 L202.45,774.03 L203.45,774 L204.44,773.97 L205.44,773.94 L206.44,773.91 L207.44,773.88 L208.44,773.85 L209.44,773.82 L210.44,773.79 L211.44,773.76 L212.44,773.73 L213.44,773.7 L214.44,773.67 L215.44,773.63 L216.44,773.6 L217.43,773.57 L218.43,773.53 L219.43,773.5 L220.43,773.47 L221.43,773.43 L222.43,773.4 L223.43,773.37 L224.43,773.33 L225.43,773.3 L226.43,773.26 L227.43,773.23 L228.43,773.19 L229.42,773.16 L230.42,773.12 L231.42,773.09 L232.42,773.06 L233.42,773.02 L234.42,772.99 L235.42,772.95 L236.42,772.92 L237.42,772.88 L238.42,772.85 L239.42,772.82 L240.42,772.78 L241.42,772.75 L242.41,772.72 L243.41,772.68 L244.41,772.65 L245.41,772.62 L246.41,772.59 L247.41,772.56 L248.41,772.53 L249.41,772.49 L250.41,772.46 L251.41,772.43 L252.41,772.4 L253.41,772.37 L254.4,772.35 L255.4,772.32 L256.4,772.29 L257.4,772.26 L258.4,772.23 L259.4,772.2 L260.4,772.18 L261.4,772.15 L262.4,772.12 L263.4,772.09 L264.4,772.07 L265.4,772.04 L266.39,772.01 L267.39,771.98 L268.39,771.96 L269.39,771.93 L270.39,771.9 L271.39,771.87 L272.39,771.84 L273.39,771.81 L274.39,771.78 L275.39,771.75 L276.39,771.72 L277.39,771.69 L278.39,771.66 L279.38,771.63 L280.38,771.6 L281.38,771.56 L282.38,771.53 L283.38,771.49 L284.38,771.46 L285.38,771.42 L286.38,771.39 L287.38,771.35 L288.38,771.31 L289.38,771.27 L290.38,771.23 L291.37,771.18 L292.37,771.14 L293.37,771.09 L294.37,771.05 L295.37,771 L296.37,770.94 L297.37,770.89 L298.37,770.83 L299.37,770.77 L300.37,770.71 L301.37,770.64 L302.37,770.57 L303.36,770.49 L304.36,770.4 L305.36,770.31 L306.36,770.22 L307.36,770.11 L308.36,770 L309.36,769.88 L310.36,769.75 L311.36,769.61 L312.36,769.46 L313.36,769.3 L314.36,769.12 L315.36,768.94 L316.35,768.75 L317.35,768.55 L318.35,768.34 L319.35,768.12 L320.35,767.89 L321.35,767.65 L322.35,767.4 L323.35,767.15 L324.35,766.88 L325.35,766.61 L326.35,766.34 L327.35,766.05 L328.34,765.76 L329.34,765.47 L330.34,765.17 L331.34,764.86 L332.34,764.55 L333.34,764.24 L334.34,763.92 L335.34,763.59 L336.34,763.26 L337.34,762.93 L338.34,762.59 L339.34,762.25 L340.33,761.91 L341.33,761.56 L342.33,761.2 L343.33,760.84 L344.33,760.47 L345.33,760.09 L346.33,759.71 L347.33,759.31 L348.33,758.91 L349.33,758.5 L350.33,758.09 L351.33,757.66 L352.33,757.23 L353.32,756.78 L354.32,756.32 L355.32,755.86 L356.32,755.38 L357.32,754.9 L358.32,754.4 L359.32,753.89 L360.32,753.37 L361.32,752.84 L362.32,752.29 L363.32,751.73 L364.32,751.16 L365.31,750.58 L366.31,749.98 L367.31,749.37 L368.31,748.74 L369.31,748.1 L370.31,747.44 L371.31,746.77 L372.31,746.09 L373.31,745.38 L374.31,744.66 L375.31,743.93 L376.31,743.18 L377.31,742.41 L378.3,741.62 L379.3,740.82 L380.3,740 L381.3,739.17 L382.3,738.32 L383.3,737.45 L384.3,736.57 L385.3,735.67 L386.3,734.75 L387.3,733.82 L388.3,732.88 L389.3,731.93 L390.29,730.96 L391.29,729.98 L392.29,728.99 L393.29,727.99 L394.29,726.99 L395.29,725.98 L396.29,724.96 L397.29,723.93 L398.29,722.9 L399.29,721.87 L400.29,720.83 L401.29,719.78 L402.28,718.73 L403.28,717.68 L404.28,716.61 L405.28,715.54 L406.28,714.46 L407.28,713.38 L408.28,712.28 L409.28,711.18 L410.28,710.07 L411.28,708.95 L412.28,707.83 L413.28,706.69 L414.28,705.55 L415.27,704.39 L416.27,703.23 L417.27,702.06 L418.27,700.87 L419.27,699.68 L420.27,698.48 L421.27,697.27 L422.27,696.05 L423.27,694.83 L424.27,693.59 L425.27,692.35 L426.27,691.1 L427.26,689.85 L428.26,688.59 L429.26,687.32 L430.26,686.06 L431.26,684.79 L432.26,683.52 L433.26,682.25 L434.26,680.98 L435.26,679.71 L436.26,678.44 L437.26,677.17 L438.26,675.9 L439.25,674.63 L440.25,673.36 L441.25,672.09 L442.25,670.82 L443.25,669.55 L444.25,668.28 L445.25,667 L446.25,665.72 L447.25,664.44 L448.25,663.15 L449.25,661.86 L450.25,660.57 L451.25,659.27 L452.24,657.97 L453.24,656.66 L454.24,655.35 L455.24,654.04 L456.24,652.73 L457.24,651.42 L458.24,650.11 L459.24,648.81 L460.24,647.5 L461.24,646.21 L462.24,644.92 L463.24,643.64 L464.23,642.37 L465.23,641.11 L466.23,639.87 L467.23,638.64 L468.23,637.42 L469.23,636.22 L470.23,635.03 L471.23,633.86 L472.23,632.71 L473.23,631.57 L474.23,630.44 L475.23,629.33 L476.22,628.24 L477.22,627.16 L478.22,626.09 L479.22,625.04 L480.22,624 L481.22,622.98 L482.22,621.97 L483.22,620.98 L484.22,619.99 L485.22,619.02 L486.22,618.07 L487.22,617.13 L488.22,616.2 L489.21,615.28 L490.21,614.38 L491.21,613.48 L492.21,612.61 L493.21,611.74 L494.21,610.89 L495.21,610.05 L496.21,609.22 L497.21,608.4 L498.21,607.6 L499.21,606.81 L500.21,606.03 L501.2,605.27 L502.2,604.51 L503.2,603.77 L504.2,603.05 L505.2,602.34 L506.2,601.65 L507.2,600.98 L508.2,600.32 L509.2,599.68 L510.2,599.07 L511.2,598.47 L512.2,597.9 L513.19,597.35 L514.19,596.82 L515.19,596.31 L516.19,595.83 L517.19,595.37 L518.19,594.93 L519.19,594.51 L520.19,594.11 L521.19,593.73 L522.19,593.38 L523.19,593.05 L524.19,592.74 L525.19,592.45 L526.18,592.18 L527.18,591.94 L528.18,591.72 L529.18,591.51 L530.18,591.33 L531.18,591.16 L532.18,591.01 L533.18,590.87 L534.18,590.75 L535.18,590.65 L536.18,590.55 L537.18,590.47 L538.17,590.39 L539.17,590.33 L540.17,590.27 L541.17,590.22 L542.17,590.18 L543.17,590.14 L544.17,590.11 L545.17,590.09 L546.17,590.07 L547.17,590.05 L548.17,590.04 L549.17,590.03 L550.17,590.02 L551.16,590.01 L552.16,590.01 L553.16,590.01 L554.16,590 L555.16,590 L556.16,590 L557.16,590 L558.16,590 L559.16,590 L560.16,590 L561.16,590 L562.16,590 L563.15,590 L564.15,590 L565.15,590 L566.15,590 L567.15,590 L568.15,590 L569.15,590 L570.15,590 L571.15,590 L572.15,590 L573.15,590 L574.15,590 L575.14,590 L576.14,590 L577.14,590 L578.14,590 L579.14,590 L580.14,590 L581.14,590 L582.14,590 L583.14,590 L584.14,590 L585.14,590 L586.14,590 L587.14,590 L588.13,590 L589.13,590 L590.13,590 L591.13,590 L592.13,590 L593.13,590 L594.13,590 L595.13,590 L596.13,590 L597.13,590 L598.13,590 L599.13,590 L600.12,590 L601.12,590 L602.12,590 L603.12,590 L604.12,590 L605.12,590 L606.12,590 L607.12,590 L608.12,590 L609.12,590 L610.12,590 L611.12,590 L612.11,590 L613.11,590 L614.11,590 L615.11,590 L616.11,590 L617.11,590 L618.11,590 L619.11,590 L620.11,590 L621.11,590 L622.11,590 L623.11,590 L624.11,590 L625.1,590 L626.1,590 L627.1,590 L628.1,590 L629.1,590 L630.1,590 L631.1,590 L632.1,590 L633.1,590 L634.1,590 L635.1,590 L636.1,590 L637.09,590 L638.09,590 L639.09,590 L640.09,590 L641.09,590 L642.09,590 L643.09,590 L644.09,590 L645.09,590 L646.09,590 L647.09,590 L648.09,590 L649.08,590 L650.08,590 L651.08,590 L652.08,590 L653.08,590 L654.08,590 L655.08,590 L656.08,590 L657.08,590 L658.08,590 L659.08,590 L660.08,590 L661.08,590 L662.07,590 L663.07,590 L664.07,590 L665.07,590 L666.07,590 L667.07,590 L668.07,590 L669.07,590 L670.07,590 L671.07,590 L672.07,590 L673.07,590 L674.06,590 L675.06,590 L676.06,590 L677.06,590 L678.06,590 L679.06,590 L680.06,590 L681.06,590 L682.06,590 L683.06,590 L684.06,590 L685.06,590 L686.06,590 L687.05,590 L688.05,590 L689.05,590 L690.05,590 L691.05,590 L692.05,590 L693.05,590 L694.05,590 L695.05,590 L696.05,590 L697.05,590 L698.05,590 L699.04,590 L700.04,590 L701.04,590 L702.04,590 L703.04,590 L704.04,590 L705.04,590 L706.04,590 L707.04,590 L708.04,590 L709.04,590 L710.04,590 L711.03,590 L712.03,590 L713.03,590 L714.03,590 L715.03,590 L716.03,590 L717.03,590 L718.03,590 L719.03,590 L720.03,590 L721.03,590 L722.03,590 L723.03,590 L724.02,590 L725.02,590 L726.02,590 L727.02,590 L728.02,590 L729.02,590 L730.02,590 L731.02,590 L732.02,590 L733.02,590 L734.02,590 L735.02,590 L736.01,590 L737.01,590 L738.01,590 L739.01,590 L740.01,590 L741.01,590 L742.01,590 L743.01,590 L744.01,590 L745.01,590 L746.01,590 L747.01,590 L748,590 L749,590 L750,590 L751,590 L752,590 L753,590 L754,590" fill="none" stroke="#000" stroke-width="5.5" stroke-linejoin="round" stroke-dasharray="17.5 3.75"/>
</g>
<path d="M132.89,806 v-2.8 M132.89,564 v2.8 M141.29,806 v-2.8 M141.29,564 v2.8 M149.68,806 v-2.8 M149.68,564 v2.8 M158.07,806 v-2.8 M158.07,564 v2.8 M166.47,806 v-5 M166.47,564 v5 M174.86,806 v-2.8 M174.86,564 v2.8 M183.25,806 v-2.8 M183.25,564 v2.8 M191.65,806 v-2.8 M191.65,564 v2.8 M200.04,806 v-2.8 M200.04,564 v2.8 M208.43,806 v-2.8 M208.43,564 v2.8 M216.83,806 v-2.8 M216.83,564 v2.8 M225.22,806 v-2.8 M225.22,564 v2.8 M233.61,806 v-2.8 M233.61,564 v2.8 M242.01,806 v-2.8 M242.01,564 v2.8 M250.4,806 v-5 M250.4,564 v5 M258.79,806 v-2.8 M258.79,564 v2.8 M267.19,806 v-2.8 M267.19,564 v2.8 M275.58,806 v-2.8 M275.58,564 v2.8 M283.97,806 v-2.8 M283.97,564 v2.8 M292.37,806 v-2.8 M292.37,564 v2.8 M300.76,806 v-2.8 M300.76,564 v2.8 M309.15,806 v-2.8 M309.15,564 v2.8 M317.55,806 v-2.8 M317.55,564 v2.8 M325.94,806 v-2.8 M325.94,564 v2.8 M334.33,806 v-5 M334.33,564 v5 M342.73,806 v-2.8 M342.73,564 v2.8 M351.12,806 v-2.8 M351.12,564 v2.8 M359.51,806 v-2.8 M359.51,564 v2.8 M367.91,806 v-2.8 M367.91,564 v2.8 M376.3,806 v-2.8 M376.3,564 v2.8 M384.69,806 v-2.8 M384.69,564 v2.8 M393.09,806 v-2.8 M393.09,564 v2.8 M401.48,806 v-2.8 M401.48,564 v2.8 M409.87,806 v-2.8 M409.87,564 v2.8 M418.27,806 v-5 M418.27,564 v5 M426.66,806 v-2.8 M426.66,564 v2.8 M435.05,806 v-2.8 M435.05,564 v2.8 M443.45,806 v-2.8 M443.45,564 v2.8 M451.84,806 v-2.8 M451.84,564 v2.8 M460.23,806 v-2.8 M460.23,564 v2.8 M468.63,806 v-2.8 M468.63,564 v2.8 M477.02,806 v-2.8 M477.02,564 v2.8 M485.41,806 v-2.8 M485.41,564 v2.8 M493.81,806 v-2.8 M493.81,564 v2.8 M502.2,806 v-5 M502.2,564 v5 M510.59,806 v-2.8 M510.59,564 v2.8 M518.99,806 v-2.8 M518.99,564 v2.8 M527.38,806 v-2.8 M527.38,564 v2.8 M535.77,806 v-2.8 M535.77,564 v2.8 M544.17,806 v-2.8 M544.17,564 v2.8 M552.56,806 v-2.8 M552.56,564 v2.8 M560.95,806 v-2.8 M560.95,564 v2.8 M569.35,806 v-2.8 M569.35,564 v2.8 M577.74,806 v-2.8 M577.74,564 v2.8 M586.13,806 v-5 M586.13,564 v5 M594.53,806 v-2.8 M594.53,564 v2.8 M602.92,806 v-2.8 M602.92,564 v2.8 M611.31,806 v-2.8 M611.31,564 v2.8 M619.71,806 v-2.8 M619.71,564 v2.8 M628.1,806 v-2.8 M628.1,564 v2.8 M636.49,806 v-2.8 M636.49,564 v2.8 M644.89,806 v-2.8 M644.89,564 v2.8 M653.28,806 v-2.8 M653.28,564 v2.8 M661.67,806 v-2.8 M661.67,564 v2.8 M670.07,806 v-5 M670.07,564 v5 M678.46,806 v-2.8 M678.46,564 v2.8 M686.85,806 v-2.8 M686.85,564 v2.8 M695.25,806 v-2.8 M695.25,564 v2.8 M703.64,806 v-2.8 M703.64,564 v2.8 M712.03,806 v-2.8 M712.03,564 v2.8 M720.43,806 v-2.8 M720.43,564 v2.8 M728.82,806 v-2.8 M728.82,564 v2.8 M737.21,806 v-2.8 M737.21,564 v2.8 M745.61,806 v-2.8 M745.61,564 v2.8 M124.5,784 h5 M754,784 h-5 M124.5,762 h5 M754,762 h-5 M124.5,740 h5 M754,740 h-5 M124.5,718 h5 M754,718 h-5 M124.5,696 h5 M754,696 h-5 M124.5,674 h5 M754,674 h-5 M124.5,652 h5 M754,652 h-5 M124.5,630 h5 M754,630 h-5 M124.5,608 h5 M754,608 h-5 M124.5,586 h5 M754,586 h-5 M124.5,795 h2.8 M754,795 h-2.8 M124.5,773 h2.8 M754,773 h-2.8 M124.5,751 h2.8 M754,751 h-2.8 M124.5,729 h2.8 M754,729 h-2.8 M124.5,707 h2.8 M754,707 h-2.8 M124.5,685 h2.8 M754,685 h-2.8 M124.5,663 h2.8 M754,663 h-2.8 M124.5,641 h2.8 M754,641 h-2.8 M124.5,619 h2.8 M754,619 h-2.8 M124.5,597 h2.8 M754,597 h-2.8 M124.5,575 h2.8 M754,575 h-2.8" stroke="#000" stroke-width="1.1" fill="none"/>
<rect x="124.5" y="564" width="629.5" height="242" fill="none" stroke="#111" stroke-width="1.2"/>
<text transform="translate(110.5,572.7) scale(0.97,1)" font-size="24.3" text-anchor="end" >2200</text>
<text transform="translate(110.5,594.7) scale(0.97,1)" font-size="24.3" text-anchor="end" >2000</text>
<text transform="translate(110.5,616.7) scale(0.97,1)" font-size="24.3" text-anchor="end" >1800</text>
<text transform="translate(110.5,638.7) scale(0.97,1)" font-size="24.3" text-anchor="end" >1600</text>
<text transform="translate(110.5,660.7) scale(0.97,1)" font-size="24.3" text-anchor="end" >1400</text>
<text transform="translate(110.5,682.7) scale(0.97,1)" font-size="24.3" text-anchor="end" >1200</text>
<text transform="translate(110.5,704.7) scale(0.97,1)" font-size="24.3" text-anchor="end" >1000</text>
<text transform="translate(110.5,726.7) scale(0.97,1)" font-size="24.3" text-anchor="end" >800</text>
<text transform="translate(110.5,748.7) scale(0.97,1)" font-size="24.3" text-anchor="end" >600</text>
<text transform="translate(110.5,770.7) scale(0.97,1)" font-size="24.3" text-anchor="end" >400</text>
<text transform="translate(110.5,792.7) scale(0.97,1)" font-size="24.3" text-anchor="end" >200</text>
<text transform="translate(110.5,814.7) scale(0.97,1)" font-size="24.3" text-anchor="end" >0</text>
<text transform="translate(49.3,685) rotate(-90) scale(0.89,1)" font-size="32.8" text-anchor="middle">atm CO<tspan dy="7" font-size="20">2</tspan><tspan dy="-7"> [ppmv]</tspan></text>
<text transform="translate(130.25,608.6) scale(0.96,1)" font-size="51.2" text-anchor="start" >C</text>
<rect x="131.3" y="893.1" width="14.6" height="14.6" fill="#000"/>
<rect x="164.2" y="894.2" width="14.6" height="14.6" fill="#000"/>
<rect x="170.2" y="894.2" width="14.6" height="14.6" fill="#000"/>
<rect x="176.7" y="894.2" width="14.6" height="14.6" fill="#000"/>
<rect x="198.3" y="896.2" width="14.6" height="14.6" fill="#000"/>
<rect x="219" y="896.4" width="14.6" height="14.6" fill="#000"/>
<circle cx="125.6" cy="899.6" r="6.2" fill="#007f00"/>
<circle cx="135.3" cy="902" r="6.2" fill="#007f00"/>
<circle cx="165.4" cy="902.9" r="6.2" fill="#007f00"/>
<circle cx="192" cy="903.07" r="6.2" fill="#007f00"/>
<circle cx="194.6" cy="905.57" r="6.2" fill="#007f00"/>
<circle cx="197.2" cy="903.68" r="6.2" fill="#007f00"/>
<circle cx="199.8" cy="905.7" r="6.2" fill="#007f00"/>
<circle cx="202.4" cy="903.76" r="6.2" fill="#007f00"/>
<circle cx="205" cy="906.27" r="6.2" fill="#007f00"/>
<circle cx="207.6" cy="903.41" r="6.2" fill="#007f00"/>
<circle cx="210.2" cy="906.66" r="6.2" fill="#007f00"/>
<circle cx="212.8" cy="903.6" r="6.2" fill="#007f00"/>
<circle cx="215.4" cy="906.79" r="6.2" fill="#007f00"/>
<circle cx="218" cy="903.86" r="6.2" fill="#007f00"/>
<circle cx="220.6" cy="906.59" r="6.2" fill="#007f00"/>
<circle cx="223.2" cy="904.5" r="6.2" fill="#007f00"/>
<circle cx="225.8" cy="907.7" r="6.2" fill="#007f00"/>
<circle cx="228.4" cy="904.36" r="6.2" fill="#007f00"/>
<circle cx="231" cy="907.19" r="6.2" fill="#007f00"/>
<circle cx="233.6" cy="905.18" r="6.2" fill="#007f00"/>
<circle cx="236.2" cy="908.28" r="6.2" fill="#007f00"/>
<circle cx="238.8" cy="905.34" r="6.2" fill="#007f00"/>
<circle cx="241.4" cy="907.86" r="6.2" fill="#007f00"/>
<circle cx="244" cy="906.11" r="6.2" fill="#007f00"/>
<circle cx="246.6" cy="907.75" r="6.2" fill="#007f00"/>
<circle cx="249.2" cy="906.28" r="6.2" fill="#007f00"/>
<circle cx="251.8" cy="908.36" r="6.2" fill="#007f00"/>
<circle cx="254.4" cy="905.74" r="6.2" fill="#007f00"/>
<circle cx="257" cy="908.46" r="6.2" fill="#007f00"/>
<circle cx="259.6" cy="906.25" r="6.2" fill="#007f00"/>
<circle cx="262.2" cy="909.61" r="6.2" fill="#007f00"/>
<circle cx="264.8" cy="906.4" r="6.2" fill="#007f00"/>
<circle cx="267.4" cy="909.64" r="6.2" fill="#007f00"/>
<circle cx="270" cy="907.27" r="6.2" fill="#007f00"/>
<circle cx="272.6" cy="909.75" r="6.2" fill="#007f00"/>
<circle cx="275.2" cy="907.57" r="6.2" fill="#007f00"/>
<circle cx="277.8" cy="909.8" r="6.2" fill="#007f00"/>
<circle cx="280.4" cy="907.4" r="6.2" fill="#007f00"/>
<circle cx="283" cy="910.39" r="6.2" fill="#007f00"/>
<circle cx="285.6" cy="908.56" r="6.2" fill="#007f00"/>
<circle cx="288.2" cy="911.07" r="6.2" fill="#007f00"/>
<circle cx="290.8" cy="908.6" r="6.2" fill="#007f00"/>
<circle cx="293.4" cy="911.91" r="6.2" fill="#007f00"/>
<circle cx="296" cy="909.54" r="6.2" fill="#007f00"/>
<circle cx="298.6" cy="912.35" r="6.2" fill="#007f00"/>
<circle cx="301.2" cy="910.98" r="6.2" fill="#007f00"/>
<circle cx="303.8" cy="914.4" r="6.2" fill="#007f00"/>
<circle cx="306.4" cy="912.18" r="6.2" fill="#007f00"/>
<circle cx="309" cy="916.51" r="6.2" fill="#007f00"/>
<circle cx="311.6" cy="915.32" r="6.2" fill="#007f00"/>
<circle cx="314.2" cy="919.8" r="6.2" fill="#007f00"/>
<circle cx="316.8" cy="918.38" r="6.2" fill="#007f00"/>
<circle cx="319.4" cy="921.75" r="6.2" fill="#007f00"/>
<circle cx="322" cy="921.28" r="6.2" fill="#007f00"/>
<circle cx="324.6" cy="924.08" r="6.2" fill="#007f00"/>
<circle cx="327.2" cy="923.07" r="6.2" fill="#007f00"/>
<circle cx="329.8" cy="927.31" r="6.2" fill="#007f00"/>
<circle cx="332.4" cy="925.16" r="6.2" fill="#007f00"/>
<circle cx="335" cy="929.34" r="6.2" fill="#007f00"/>
<circle cx="337.6" cy="927.31" r="6.2" fill="#007f00"/>
<circle cx="319" cy="924.67" r="3.2" fill="#ff00ff"/>
<circle cx="320.62" cy="925.47" r="3.2" fill="#ff00ff"/>
<circle cx="322.24" cy="925.98" r="3.2" fill="#ff00ff"/>
<circle cx="323.85" cy="926.99" r="3.2" fill="#ff00ff"/>
<circle cx="325.47" cy="927.14" r="3.2" fill="#ff00ff"/>
<circle cx="327.09" cy="928.22" r="3.2" fill="#ff00ff"/>
<circle cx="328.71" cy="928.83" r="3.2" fill="#ff00ff"/>
<circle cx="330.32" cy="929.52" r="3.2" fill="#ff00ff"/>
<circle cx="331.94" cy="930.1" r="3.2" fill="#ff00ff"/>
<circle cx="333.56" cy="931.19" r="3.2" fill="#ff00ff"/>
<circle cx="335.18" cy="932" r="3.2" fill="#ff00ff"/>
<circle cx="336.79" cy="932.24" r="3.2" fill="#ff00ff"/>
<circle cx="338.41" cy="933.13" r="3.2" fill="#ff00ff"/>
<circle cx="340.03" cy="933.24" r="3.2" fill="#ff00ff"/>
<circle cx="341.65" cy="934.58" r="3.2" fill="#ff00ff"/>
<circle cx="343.26" cy="935.24" r="3.2" fill="#ff00ff"/>
<circle cx="344.88" cy="936.29" r="3.2" fill="#ff00ff"/>
<circle cx="346.5" cy="936.82" r="3.2" fill="#ff00ff"/>
<circle cx="314" cy="918.08" r="3.2" fill="#0000ff"/>
<circle cx="315.91" cy="918.96" r="3.2" fill="#0000ff"/>
<circle cx="317.82" cy="920.02" r="3.2" fill="#0000ff"/>
<circle cx="319.74" cy="920.15" r="3.2" fill="#0000ff"/>
<circle cx="321.65" cy="921.37" r="3.2" fill="#0000ff"/>
<circle cx="323.56" cy="921.85" r="3.2" fill="#0000ff"/>
<circle cx="325.47" cy="922.58" r="3.2" fill="#0000ff"/>
<circle cx="327.38" cy="923.29" r="3.2" fill="#0000ff"/>
<circle cx="329.29" cy="924.78" r="3.2" fill="#0000ff"/>
<circle cx="331.21" cy="924.92" r="3.2" fill="#0000ff"/>
<circle cx="333.12" cy="925.81" r="3.2" fill="#0000ff"/>
<circle cx="335.03" cy="926.73" r="3.2" fill="#0000ff"/>
<circle cx="336.94" cy="927.99" r="3.2" fill="#0000ff"/>
<circle cx="338.85" cy="927.97" r="3.2" fill="#0000ff"/>
<circle cx="340.76" cy="929.12" r="3.2" fill="#0000ff"/>
<circle cx="342.68" cy="930" r="3.2" fill="#0000ff"/>
<circle cx="344.59" cy="931.11" r="3.2" fill="#0000ff"/>
<circle cx="346.5" cy="931.82" r="3.2" fill="#0000ff"/>
<clipPath id="clipD"><rect x="124.5" y="830.5" width="629.5" height="242"/></clipPath>
<g clip-path="url(#clipD)">
<path d="M354.4,960 L355.4,962.29 L356.4,963.76 L357.39,964.83 L358.39,965.8 L359.39,966.74 L360.39,967.59 L361.38,968.38 L362.38,969.16 L363.38,969.98 L364.38,970.84 L365.38,971.77 L366.37,972.77 L367.37,973.83 L368.37,974.94 L369.37,976.11 L370.36,977.34 L371.36,978.62 L372.36,979.97 L373.36,981.4 L374.36,982.89 L375.35,984.45 L376.35,986.05 L377.35,987.68 L378.35,989.3 L379.34,990.93 L380.34,992.54 L381.34,994.14 L382.34,995.74 L383.33,997.35 L384.33,998.95 L385.33,1000.57 L386.33,1002.18 L387.33,1003.78 L388.32,1005.33 L389.32,1006.82 L390.32,1008.23 L391.32,1009.55 L392.31,1010.8 L393.31,1011.99 L394.31,1013.14 L395.31,1014.28 L396.31,1015.42 L397.3,1016.58 L398.3,1017.76 L399.3,1018.95 L400.3,1020.16 L401.29,1021.37 L402.29,1022.58 L403.29,1023.78 L404.29,1024.96 L405.29,1026.11 L406.28,1027.23 L407.28,1028.32 L408.28,1029.39 L409.28,1030.44 L410.27,1031.46 L411.27,1032.46 L412.27,1033.43 L413.27,1034.38 L414.27,1035.29 L415.26,1036.18 L416.26,1037.05 L417.26,1037.9 L418.26,1038.73 L419.25,1039.54 L420.25,1040.34 L421.25,1041.13 L422.25,1041.9 L423.25,1042.66 L424.24,1043.4 L425.24,1044.14 L426.24,1044.85 L427.24,1045.56 L428.23,1046.25 L429.23,1046.93 L430.23,1047.6 L431.23,1048.26 L432.22,1048.9 L433.22,1049.53 L434.22,1050.14 L435.22,1050.75 L436.22,1051.34 L437.21,1051.91 L438.21,1052.48 L439.21,1053.04 L440.21,1053.59 L441.2,1054.13 L442.2,1054.67 L443.2,1055.2 L444.2,1055.72 L445.2,1056.25 L446.19,1056.77 L447.19,1057.29 L448.19,1057.82 L449.19,1058.35 L450.18,1058.9 L451.18,1059.48 L452.18,1060.08 L453.18,1060.7 L454.18,1061.33 L455.17,1061.97 L456.17,1062.59 L457.17,1063.19 L458.17,1063.75 L459.16,1064.26 L460.16,1064.7 L461.16,1065.05 L462.16,1065.32 L463.16,1065.5 L464.15,1065.58 L465.15,1065.58 L466.15,1065.52 L467.15,1065.4 L468.14,1065.23 L469.14,1065.02 L470.14,1064.78 L471.14,1064.51 L472.14,1064.22 L473.13,1063.91 L474.13,1063.58 L475.13,1063.24 L476.13,1062.89 L477.12,1062.54 L478.12,1062.17 L479.12,1061.78 L480.12,1061.37 L481.11,1060.92 L482.11,1060.45 L483.11,1059.95 L484.11,1059.42 L485.11,1058.87 L486.1,1058.29 L487.1,1057.7 L488.1,1057.09 L489.1,1056.47 L490.09,1055.84 L491.09,1055.2 L492.09,1054.56 L493.09,1053.92 L494.09,1053.27 L495.08,1052.62 L496.08,1051.96 L497.08,1051.29 L498.08,1050.6 L499.07,1049.9 L500.07,1049.18 L501.07,1048.45 L502.07,1047.69 L503.07,1046.91 L504.06,1046.11 L505.06,1045.29 L506.06,1044.44 L507.06,1043.56 L508.05,1042.65 L509.05,1041.7 L510.05,1040.72 L511.05,1039.69 L512.05,1038.63 L513.04,1037.53 L514.04,1036.4 L515.04,1035.23 L516.04,1034.03 L517.03,1032.79 L518.03,1031.51 L519.03,1030.2 L520.03,1028.83 L521.03,1027.4 L522.02,1025.9 L523.02,1024.34 L524.02,1022.73 L525.02,1021.09 L526.01,1019.44 L527.01,1017.8 L528.01,1016.19 L529.01,1014.64 L530,1013.14 L531,1011.7 L532,1010.32 L533,1008.97 L534,1007.66 L534.99,1006.35 L535.99,1005.03 L536.99,1003.68 L537.99,1002.27 L538.98,1000.78 L539.98,999.19 L540.98,997.52 L541.98,995.78 L542.98,994.03 L543.97,992.34 L544.97,990.76 L545.97,989.36 L546.97,988.18 L547.96,987.21 L548.96,986.44 L549.96,985.81 L550.96,985.29 L551.96,984.85 L552.95,984.45 L553.95,984.09 L554.95,983.75 L555.95,983.44 L556.94,983.14 L557.94,982.85 L558.94,982.56 L559.94,982.27 L560.94,981.98 L561.93,981.7 L562.93,981.42 L563.93,981.15 L564.93,980.89 L565.92,980.63 L566.92,980.38 L567.92,980.13 L568.92,979.89 L569.92,979.66 L570.91,979.43 L571.91,979.2 L572.91,978.97 L573.91,978.75 L574.9,978.52 L575.9,978.3 L576.9,978.08 L577.9,977.86 L578.9,977.64 L579.89,977.42 L580.89,977.21 L581.89,977 L582.89,976.8 L583.88,976.59 L584.88,976.4 L585.88,976.21 L586.88,976.03 L587.87,975.86 L588.87,975.69 L589.87,975.53 L590.87,975.38 L591.87,975.24 L592.86,975.1 L593.86,974.96 L594.86,974.83 L595.86,974.71 L596.85,974.58 L597.85,974.46 L598.85,974.35 L599.85,974.24 L600.85,974.13 L601.84,974.02 L602.84,973.92 L603.84,973.82 L604.84,973.71 L605.83,973.61 L606.83,973.51 L607.83,973.41 L608.83,973.3 L609.83,973.2 L610.82,973.1 L611.82,973 L612.82,972.9 L613.82,972.82 L614.81,972.74 L615.81,972.67 L616.81,972.62 L617.81,972.57 L618.81,972.54 L619.8,972.52 L620.8,972.51 L621.8,972.5 L622.8,972.5 L623.79,972.5 L624.79,972.5 L625.79,972.5 L626.79,972.5 L627.79,972.5 L628.78,972.5 L629.78,972.5 L630.78,972.5 L631.78,972.5 L632.77,972.5 L633.77,972.5 L634.77,972.5 L635.77,972.5 L636.76,972.5 L637.76,972.5 L638.76,972.5 L639.76,972.5 L640.76,972.5 L641.75,972.5 L642.75,972.5 L643.75,972.5 L644.75,972.5 L645.74,972.5 L646.74,972.5 L647.74,972.5 L648.74,972.5 L649.74,972.5 L650.73,972.5 L651.73,972.5 L652.73,972.5 L653.73,972.5 L654.72,972.5 L655.72,972.5 L656.72,972.5 L657.72,972.5 L658.72,972.5 L659.71,972.5 L660.71,972.5 L661.71,972.5 L662.71,972.5 L663.7,972.5 L664.7,972.5 L665.7,972.5 L666.7,972.5 L667.7,972.5 L668.69,972.5 L669.69,972.5 L670.69,972.5 L671.69,972.5 L672.68,972.5 L673.68,972.5 L674.68,972.5 L675.68,972.5 L676.68,972.5 L677.67,972.5 L678.67,972.5 L679.67,972.5 L680.67,972.5 L681.66,972.5 L682.66,972.51 L683.66,972.51 L684.66,972.51 L685.65,972.51 L686.65,972.52 L687.65,972.52 L688.65,972.52 L689.65,972.53 L690.64,972.53 L691.64,972.53 L692.64,972.54 L693.64,972.54 L694.63,972.55 L695.63,972.56 L696.63,972.56 L697.63,972.57 L698.63,972.57 L699.62,972.58 L700.62,972.59 L701.62,972.6 L702.62,972.6 L703.61,972.61 L704.61,972.62 L705.61,972.63 L706.61,972.64 L707.61,972.64 L708.6,972.65 L709.6,972.66 L710.6,972.67 L711.6,972.68 L712.59,972.69 L713.59,972.7 L714.59,972.71 L715.59,972.72 L716.59,972.73 L717.58,972.75 L718.58,972.76 L719.58,972.77 L720.58,972.78 L721.57,972.79 L722.57,972.8 L723.57,972.81 L724.57,972.83 L725.57,972.84 L726.56,972.85 L727.56,972.86 L728.56,972.88 L729.56,972.89 L730.55,972.9 L731.55,972.92 L732.55,972.93 L733.55,972.94 L734.54,972.96 L735.54,972.97 L736.54,972.99 L737.54,973 L738.54,973.01 L739.53,973.03 L740.53,973.04 L741.53,973.06 L742.53,973.07 L743.52,973.09 L744.52,973.1 L745.52,973.11 L746.52,973.13 L747.52,973.14 L748.51,973.16 L749.51,973.17 L750.51,973.19 L751.51,973.2 L752.5,973.22 L753.5,973.23 L754.5,973.25" fill="none" stroke="#0000ff" stroke-width="5" stroke-linejoin="round" />
<path d="M354.4,960 L355.38,962.25 L356.36,963.72 L357.34,964.78 L358.32,965.74 L359.3,966.67 L360.28,967.5 L361.26,968.28 L362.24,969.05 L363.22,969.84 L364.2,970.67 L365.17,971.57 L366.15,972.54 L367.13,973.57 L368.11,974.65 L369.09,975.78 L370.07,976.97 L371.05,978.21 L372.03,979.52 L373.01,980.89 L373.99,982.33 L374.97,983.85 L375.95,985.41 L376.93,986.99 L377.91,988.59 L378.89,990.19 L379.87,991.77 L380.85,993.35 L381.83,994.92 L382.81,996.5 L383.79,998.07 L384.77,999.66 L385.75,1001.24 L386.73,1002.82 L387.7,1004.38 L388.68,1005.9 L389.66,1007.35 L390.64,1008.73 L391.62,1010.05 L392.6,1011.3 L393.58,1012.48 L394.56,1013.62 L395.54,1014.69 L396.52,1015.71 L397.5,1016.75 L397.5,1016.75 L398.5,1017.15 L399.5,1017.49 L400.5,1017.8 L401.5,1018.09 L402.5,1018.37 L403.5,1018.62 L404.5,1018.85 L405.5,1019.06 L406.5,1019.25 L407.5,1019.43 L408.5,1019.59 L409.5,1019.74 L410.5,1019.88 L411.5,1019.99 L412.5,1020.09 L413.5,1020.15 L414.5,1020.2 L415.5,1020.22 L416.5,1020.22 L417.5,1020.22 L418.5,1020.2 L419.5,1020.19 L420.5,1020.16 L421.5,1020.14 L422.5,1020.11 L423.5,1020.08 L424.5,1020.05 L425.5,1020.03 L426.5,1020 L427.5,1019.98 L428.5,1019.95 L429.5,1019.94 L430.5,1019.92 L431.5,1019.92 L432.5,1019.92 L433.5,1019.93 L434.5,1019.95 L435.5,1019.97 L436.5,1020.01 L437.5,1020.05 L438.5,1020.1 L439.5,1020.15 L440.5,1020.21 L441.5,1020.26 L442.5,1020.32 L443.5,1020.37 L444.5,1020.43 L445.5,1020.47 L446.5,1020.51 L447.5,1020.54 L448.5,1020.57 L449.5,1020.58 L450.5,1020.59 L451.5,1020.59 L452.5,1020.59 L453.5,1020.58 L454.5,1020.57 L455.5,1020.56 L456.5,1020.54 L457.5,1020.52 L458.5,1020.51 L459.5,1020.48 L460.5,1020.46 L461.5,1020.44 L462.5,1020.41 L463.5,1020.38 L464.5,1020.35 L465.5,1020.31 L466.5,1020.27 L467.5,1020.22 L468.5,1020.15 L469.5,1020.06 L470.5,1019.95 L471.5,1019.82 L472.5,1019.67 L473.5,1019.49 L474.5,1019.3 L475.5,1019.09 L476.5,1018.87 L477.5,1018.63 L478.5,1018.39 L479.5,1018.14 L480.5,1017.89 L481.5,1017.63 L482.5,1017.38 L483.5,1017.12 L484.5,1016.87 L485.5,1016.62 L486.5,1016.36 L487.5,1016.09 L488.5,1015.82 L489.5,1015.53 L490.5,1015.24 L491.5,1014.94 L492.5,1014.64 L493.5,1014.33 L494.5,1014.01 L495.5,1013.7 L496.5,1013.38 L497.5,1013.06 L498.5,1012.75 L499.5,1012.43 L500.5,1012.12 L501.5,1011.81 L502.5,1011.51 L503.5,1011.21 L504.5,1010.91 L505.5,1010.61 L506.5,1010.32 L507.5,1010.03 L508.5,1009.74 L509.5,1009.45 L510.5,1009.15 L511.5,1008.86 L512.5,1008.56 L513.5,1008.27 L514.5,1007.96 L515.5,1007.66 L516.5,1007.35 L517.5,1007.04 L518.5,1006.72 L519.5,1006.4 L520.5,1006.07 L521.5,1005.74 L522.5,1005.4 L523.5,1005.05 L524.5,1004.7 L525.5,1004.34 L526.5,1003.98 L527.5,1003.62 L528.5,1003.25 L529.5,1002.88 L530.5,1002.51 L531.5,1002.13 L532.5,1001.76 L533.5,1001.39 L534.5,1001.02 L535.5,1000.65 L536.5,1000.28 L537.5,999.91 L538.5,999.54 L539.5,999.18 L540.5,998.82 L541.5,998.46 L542.5,998.09 L543.5,997.73 L544.5,997.37 L545.5,997 L546.5,996.63 L547.5,996.27 L548.5,995.9 L549.5,995.54 L550.5,995.18 L551.5,994.82 L552.5,994.47 L553.5,994.12 L554.5,993.78 L555.5,993.44 L556.5,993.11 L557.5,992.79 L558.5,992.47 L559.5,992.16 L560.5,991.86 L561.5,991.56 L562.5,991.26 L563.5,990.96 L564.5,990.66 L565.5,990.36 L566.5,990.06 L567.5,989.77 L568.5,989.47 L569.5,989.18 L570.5,988.88 L571.5,988.59 L572.5,988.3 L573.5,988.02 L574.5,987.73 L575.5,987.45 L576.5,987.17 L577.5,986.9 L578.5,986.62 L579.5,986.35 L580.5,986.09 L581.5,985.83 L582.5,985.57 L583.5,985.32 L584.5,985.07 L585.5,984.83 L586.5,984.59 L587.5,984.36 L588.5,984.13 L589.5,983.91 L590.5,983.7 L591.5,983.49 L592.5,983.29 L593.5,983.09 L594.5,982.91 L595.5,982.73 L596.5,982.56 L597.5,982.39 L598.5,982.23 L599.5,982.08 L600.5,981.94 L601.5,981.8 L602.5,981.66 L603.5,981.52 L604.5,981.39 L605.5,981.26 L606.5,981.13 L607.5,981 L608.5,980.87 L609.5,980.75 L610.5,980.62 L611.5,980.5 L612.5,980.38 L613.5,980.26 L614.5,980.14 L615.5,980.02 L616.5,979.91 L617.5,979.79 L618.5,979.68 L619.5,979.57 L620.5,979.46 L621.5,979.35 L622.5,979.24 L623.5,979.14 L624.5,979.03 L625.5,978.93 L626.5,978.83 L627.5,978.73 L628.5,978.63 L629.5,978.53 L630.5,978.43 L631.5,978.34 L632.5,978.24 L633.5,978.15 L634.5,978.06 L635.5,977.96 L636.5,977.87 L637.5,977.79 L638.5,977.7 L639.5,977.61 L640.5,977.53 L641.5,977.44 L642.5,977.36 L643.5,977.28 L644.5,977.19 L645.5,977.11 L646.5,977.03 L647.5,976.96 L648.5,976.88 L649.5,976.8 L650.5,976.73 L651.5,976.65 L652.5,976.58 L653.5,976.51 L654.5,976.43 L655.5,976.36 L656.5,976.29 L657.5,976.22 L658.5,976.16 L659.5,976.09 L660.5,976.02 L661.5,975.96 L662.5,975.89 L663.5,975.83 L664.5,975.76 L665.5,975.7 L666.5,975.64 L667.5,975.58 L668.5,975.52 L669.5,975.46 L670.5,975.4 L671.5,975.34 L672.5,975.28 L673.5,975.22 L674.5,975.17 L675.5,975.11 L676.5,975.06 L677.5,975 L678.5,974.95 L679.5,974.89 L680.5,974.84 L681.5,974.78 L682.5,974.73 L683.5,974.68 L684.5,974.62 L685.5,974.57 L686.5,974.52 L687.5,974.46 L688.5,974.41 L689.5,974.36 L690.5,974.31 L691.5,974.26 L692.5,974.21 L693.5,974.15 L694.5,974.1 L695.5,974.05 L696.5,974 L697.5,973.95 L698.5,973.9 L699.5,973.86 L700.5,973.81 L701.5,973.76 L702.5,973.71 L703.5,973.66 L704.5,973.62 L705.5,973.57 L706.5,973.52 L707.5,973.48 L708.5,973.43 L709.5,973.39 L710.5,973.34 L711.5,973.3 L712.5,973.25 L713.5,973.21 L714.5,973.17 L715.5,973.13 L716.5,973.09 L717.5,973.04 L718.5,973 L719.5,972.96 L720.5,972.92 L721.5,972.89 L722.5,972.85 L723.5,972.81 L724.5,972.77 L725.5,972.74 L726.5,972.7 L727.5,972.67 L728.5,972.63 L729.5,972.6 L730.5,972.57 L731.5,972.53 L732.5,972.5 L733.5,972.47 L734.5,972.44 L735.5,972.41 L736.5,972.38 L737.5,972.35 L738.5,972.33 L739.5,972.3 L740.5,972.27 L741.5,972.25 L742.5,972.23 L743.5,972.2 L744.5,972.18 L745.5,972.16 L746.5,972.14 L747.5,972.12 L748.5,972.1 L749.5,972.08 L750.5,972.06 L751.5,972.05 L752.5,972.03 L753.5,972.02 L754.5,972" fill="none" stroke="#00ffff" stroke-width="2.5" stroke-linejoin="round" />
<path d="M354.4,959.5 L355.38,959.75 L356.35,959.86 L357.33,959.85 L358.31,959.76 L359.28,959.57 L360.26,959.28 L361.24,958.92 L362.22,958.54 L363.19,958.16 L364.17,957.82 L365.15,957.53 L366.12,957.29 L367.1,957.08 L368.08,956.9 L369.05,956.75 L370.03,956.63 L371.01,956.53 L371.98,956.45 L372.96,956.4 L373.94,956.35 L374.92,956.32 L375.89,956.3 L376.87,956.33 L377.85,956.43 L378.82,956.62 L379.8,956.92 L380.78,957.31 L381.75,957.76 L382.73,958.25 L383.71,958.78 L384.68,959.35 L385.66,959.96 L386.64,960.63 L387.62,961.34 L388.59,962.11 L389.57,962.91 L390.55,963.72 L391.52,964.59 L392.5,965.6 L392.5,965.6 L393.5,966.5 L394.5,967.33 L395.5,968.11 L396.5,968.85 L397.5,969.57 L398.5,970.27 L399.5,970.96 L400.5,971.65 L401.5,972.33 L402.5,973.02 L403.5,973.7 L404.5,974.39 L405.5,975.07 L406.5,975.74 L407.5,976.4 L408.5,977.06 L409.5,977.72 L410.5,978.36 L411.5,979.01 L412.5,979.64 L413.5,980.27 L414.5,980.9 L415.5,981.52 L416.5,982.14 L417.5,982.75 L418.5,983.36 L419.5,983.96 L420.5,984.56 L421.5,985.14 L422.5,985.72 L423.5,986.28 L424.5,986.84 L425.5,987.39 L426.5,987.92 L427.5,988.44 L428.5,988.95 L429.5,989.45 L430.5,989.94 L431.5,990.41 L432.5,990.88 L433.5,991.34 L434.5,991.79 L435.5,992.24 L436.5,992.67 L437.5,993.11 L438.5,993.53 L439.5,993.96 L440.5,994.38 L441.5,994.79 L442.5,995.21 L443.5,995.61 L444.5,996.02 L445.5,996.41 L446.5,996.81 L447.5,997.2 L448.5,997.58 L449.5,997.96 L450.5,998.33 L451.5,998.7 L452.5,999.06 L453.5,999.42 L454.5,999.78 L455.5,1000.13 L456.5,1000.47 L457.5,1000.81 L458.5,1001.14 L459.5,1001.46 L460.5,1001.77 L461.5,1002.08 L462.5,1002.37 L463.5,1002.66 L464.5,1002.93 L465.5,1003.2 L466.5,1003.45 L467.5,1003.7 L468.5,1003.93 L469.5,1004.15 L470.5,1004.36 L471.5,1004.55 L472.5,1004.72 L473.5,1004.88 L474.5,1005.02 L475.5,1005.14 L476.5,1005.24 L477.5,1005.33 L478.5,1005.39 L479.5,1005.44 L480.5,1005.48 L481.5,1005.51 L482.5,1005.52 L483.5,1005.53 L484.5,1005.53 L485.5,1005.52 L486.5,1005.51 L487.5,1005.49 L488.5,1005.47 L489.5,1005.45 L490.5,1005.42 L491.5,1005.39 L492.5,1005.34 L493.5,1005.29 L494.5,1005.23 L495.5,1005.16 L496.5,1005.08 L497.5,1004.98 L498.5,1004.87 L499.5,1004.75 L500.5,1004.61 L501.5,1004.46 L502.5,1004.29 L503.5,1004.11 L504.5,1003.92 L505.5,1003.72 L506.5,1003.51 L507.5,1003.29 L508.5,1003.06 L509.5,1002.82 L510.5,1002.58 L511.5,1002.33 L512.5,1002.07 L513.5,1001.81 L514.5,1001.55 L515.5,1001.28 L516.5,1001.01 L517.5,1000.74 L518.5,1000.46 L519.5,1000.17 L520.5,999.88 L521.5,999.58 L522.5,999.28 L523.5,998.96 L524.5,998.64 L525.5,998.31 L526.5,997.97 L527.5,997.62 L528.5,997.27 L529.5,996.9 L530.5,996.53 L531.5,996.16 L532.5,995.78 L533.5,995.4 L534.5,995.01 L535.5,994.63 L536.5,994.24 L537.5,993.85 L538.5,993.47 L539.5,993.09 L540.5,992.71 L541.5,992.33 L542.5,991.96 L543.5,991.6 L544.5,991.23 L545.5,990.87 L546.5,990.52 L547.5,990.17 L548.5,989.82 L549.5,989.48 L550.5,989.13 L551.5,988.79 L552.5,988.46 L553.5,988.13 L554.5,987.8 L555.5,987.47 L556.5,987.14 L557.5,986.82 L558.5,986.5 L559.5,986.18 L560.5,985.86 L561.5,985.54 L562.5,985.23 L563.5,984.92 L564.5,984.6 L565.5,984.29 L566.5,983.98 L567.5,983.68 L568.5,983.37 L569.5,983.06 L570.5,982.76 L571.5,982.45 L572.5,982.15 L573.5,981.86 L574.5,981.56 L575.5,981.27 L576.5,980.98 L577.5,980.7 L578.5,980.42 L579.5,980.14 L580.5,979.87 L581.5,979.6 L582.5,979.34 L583.5,979.09 L584.5,978.84 L585.5,978.59 L586.5,978.35 L587.5,978.12 L588.5,977.89 L589.5,977.66 L590.5,977.45 L591.5,977.23 L592.5,977.02 L593.5,976.81 L594.5,976.61 L595.5,976.41 L596.5,976.21 L597.5,976.02 L598.5,975.83 L599.5,975.64 L600.5,975.46 L601.5,975.28 L602.5,975.1 L603.5,974.92 L604.5,974.75 L605.5,974.58 L606.5,974.42 L607.5,974.25 L608.5,974.1 L609.5,973.94 L610.5,973.79 L611.5,973.64 L612.5,973.5 L613.5,973.36 L614.5,973.22 L615.5,973.09 L616.5,972.96 L617.5,972.83 L618.5,972.71 L619.5,972.59 L620.5,972.48 L621.5,972.36 L622.5,972.25 L623.5,972.15 L624.5,972.04 L625.5,971.94 L626.5,971.83 L627.5,971.73 L628.5,971.64 L629.5,971.54 L630.5,971.44 L631.5,971.35 L632.5,971.26 L633.5,971.17 L634.5,971.08 L635.5,970.99 L636.5,970.9 L637.5,970.81 L638.5,970.73 L639.5,970.64 L640.5,970.56 L641.5,970.48 L642.5,970.4 L643.5,970.32 L644.5,970.24 L645.5,970.16 L646.5,970.09 L647.5,970.01 L648.5,969.94 L649.5,969.86 L650.5,969.79 L651.5,969.72 L652.5,969.64 L653.5,969.57 L654.5,969.5 L655.5,969.43 L656.5,969.36 L657.5,969.3 L658.5,969.23 L659.5,969.16 L660.5,969.09 L661.5,969.03 L662.5,968.96 L663.5,968.89 L664.5,968.83 L665.5,968.76 L666.5,968.7 L667.5,968.64 L668.5,968.57 L669.5,968.51 L670.5,968.44 L671.5,968.38 L672.5,968.32 L673.5,968.25 L674.5,968.19 L675.5,968.13 L676.5,968.06 L677.5,968 L678.5,967.94 L679.5,967.88 L680.5,967.81 L681.5,967.75 L682.5,967.69 L683.5,967.63 L684.5,967.57 L685.5,967.5 L686.5,967.44 L687.5,967.38 L688.5,967.32 L689.5,967.26 L690.5,967.2 L691.5,967.14 L692.5,967.08 L693.5,967.02 L694.5,966.96 L695.5,966.9 L696.5,966.84 L697.5,966.78 L698.5,966.73 L699.5,966.67 L700.5,966.61 L701.5,966.55 L702.5,966.5 L703.5,966.44 L704.5,966.38 L705.5,966.33 L706.5,966.27 L707.5,966.21 L708.5,966.16 L709.5,966.1 L710.5,966.05 L711.5,965.99 L712.5,965.94 L713.5,965.89 L714.5,965.83 L715.5,965.78 L716.5,965.73 L717.5,965.67 L718.5,965.62 L719.5,965.57 L720.5,965.52 L721.5,965.47 L722.5,965.42 L723.5,965.37 L724.5,965.32 L725.5,965.27 L726.5,965.22 L727.5,965.17 L728.5,965.12 L729.5,965.07 L730.5,965.02 L731.5,964.98 L732.5,964.93 L733.5,964.88 L734.5,964.84 L735.5,964.79 L736.5,964.74 L737.5,964.7 L738.5,964.66 L739.5,964.61 L740.5,964.57 L741.5,964.53 L742.5,964.48 L743.5,964.44 L744.5,964.4 L745.5,964.36 L746.5,964.32 L747.5,964.28 L748.5,964.24 L749.5,964.2 L750.5,964.16 L751.5,964.12 L752.5,964.08 L753.5,964.04 L754.5,964" fill="none" stroke="#ffa500" stroke-width="5" stroke-linejoin="round" />
<path d="M354.4,959.5 L355.39,959.75 L356.38,959.85 L357.38,959.83 L358.37,959.67 L359.36,959.48 L360.35,959.2 L361.35,958.86 L362.34,958.5 L363.33,958.14 L364.32,957.81 L365.32,957.52 L366.31,957.27 L367.3,957.07 L368.29,956.89 L369.28,956.74 L370.28,956.62 L371.27,956.52 L372.26,956.45 L373.25,956.39 L374.25,956.35 L375.24,956.33 L376.23,956.35 L377.22,956.42 L378.22,956.56 L379.21,956.8 L380.2,957.13 L381.19,957.53 L382.18,958 L383.18,958.52 L384.17,959.08 L385.16,959.68 L386.15,960.34 L387.15,961.04 L388.14,961.8 L389.13,962.59 L390.12,963.4 L391.12,964.25 L392.11,965.16 L393.1,966.25 L393.1,966.25 L394.1,981.11 L395.1,989.4 L396.1,996.12 L397.09,1000.86 L398.09,1003.96 L399.09,1006.18 L400.09,1007.95 L401.09,1009.43 L402.09,1010.66 L403.08,1011.68 L404.08,1012.53 L405.08,1013.27 L406.08,1013.91 L407.08,1014.49 L408.08,1015.01 L409.07,1015.48 L410.07,1015.92 L411.07,1016.32 L412.07,1016.69 L413.07,1017.03 L414.07,1017.33 L415.06,1017.6 L416.06,1017.85 L417.06,1018.08 L418.06,1018.3 L419.06,1018.52 L420.06,1018.72 L421.05,1018.91 L422.05,1019.1 L423.05,1019.28 L424.05,1019.45 L425.05,1019.61 L426.05,1019.76 L427.04,1019.91 L428.04,1020.05 L429.04,1020.18 L430.04,1020.31 L431.04,1020.43 L432.04,1020.55 L433.03,1020.66 L434.03,1020.76 L435.03,1020.87 L436.03,1020.97 L437.03,1021.07 L438.03,1021.17 L439.02,1021.27 L440.02,1021.36 L441.02,1021.45 L442.02,1021.53 L443.02,1021.61 L444.02,1021.68 L445.01,1021.75 L446.01,1021.81 L447.01,1021.87 L448.01,1021.92 L449.01,1021.96 L450.01,1022 L451,1022.03 L452,1022.06 L453,1022.09 L454,1022.12 L455,1022.15 L456,1022.18 L456.99,1022.2 L457.99,1022.23 L458.99,1022.25 L459.99,1022.27 L460.99,1022.29 L461.99,1022.3 L462.98,1022.32 L463.98,1022.33 L464.98,1022.34 L465.98,1022.34 L466.98,1022.34 L467.98,1022.33 L468.97,1022.3 L469.97,1022.24 L470.97,1022.15 L471.97,1022.04 L472.97,1021.91 L473.97,1021.75 L474.96,1021.58 L475.96,1021.4 L476.96,1021.2 L477.96,1020.99 L478.96,1020.77 L479.96,1020.54 L480.95,1020.32 L481.95,1020.09 L482.95,1019.86 L483.95,1019.63 L484.95,1019.41 L485.95,1019.18 L486.94,1018.94 L487.94,1018.68 L488.94,1018.42 L489.94,1018.14 L490.94,1017.85 L491.94,1017.55 L492.93,1017.24 L493.93,1016.92 L494.93,1016.6 L495.93,1016.27 L496.93,1015.95 L497.93,1015.61 L498.92,1015.28 L499.92,1014.95 L500.92,1014.62 L501.92,1014.29 L502.92,1013.96 L503.92,1013.64 L504.91,1013.31 L505.91,1012.98 L506.91,1012.64 L507.91,1012.31 L508.91,1011.97 L509.91,1011.62 L510.9,1011.28 L511.9,1010.93 L512.9,1010.58 L513.9,1010.23 L514.9,1009.87 L515.9,1009.51 L516.89,1009.15 L517.89,1008.78 L518.89,1008.41 L519.89,1008.04 L520.89,1007.66 L521.89,1007.29 L522.88,1006.9 L523.88,1006.52 L524.88,1006.13 L525.88,1005.73 L526.88,1005.32 L527.88,1004.91 L528.87,1004.48 L529.87,1004.05 L530.87,1003.59 L531.87,1003.13 L532.87,1002.64 L533.87,1002.14 L534.86,1001.63 L535.86,1001.12 L536.86,1000.59 L537.86,1000.07 L538.86,999.54 L539.86,999.02 L540.85,998.51 L541.85,998 L542.85,997.51 L543.85,997.04 L544.85,996.58 L545.85,996.13 L546.84,995.69 L547.84,995.26 L548.84,994.83 L549.84,994.41 L550.84,993.99 L551.84,993.58 L552.83,993.18 L553.83,992.78 L554.83,992.39 L555.83,992.01 L556.83,991.64 L557.83,991.27 L558.82,990.92 L559.82,990.57 L560.82,990.22 L561.82,989.89 L562.82,989.56 L563.82,989.23 L564.81,988.92 L565.81,988.6 L566.81,988.3 L567.81,987.99 L568.81,987.7 L569.81,987.41 L570.8,987.13 L571.8,986.85 L572.8,986.58 L573.8,986.31 L574.8,986.06 L575.8,985.8 L576.8,985.56 L577.79,985.32 L578.79,985.08 L579.79,984.85 L580.79,984.63 L581.79,984.4 L582.79,984.19 L583.78,983.97 L584.78,983.76 L585.78,983.55 L586.78,983.35 L587.78,983.15 L588.78,982.94 L589.77,982.75 L590.77,982.55 L591.77,982.35 L592.77,982.15 L593.77,981.95 L594.77,981.75 L595.76,981.56 L596.76,981.36 L597.76,981.17 L598.76,980.99 L599.76,980.81 L600.76,980.64 L601.75,980.48 L602.75,980.32 L603.75,980.18 L604.75,980.04 L605.75,979.91 L606.75,979.79 L607.74,979.67 L608.74,979.56 L609.74,979.45 L610.74,979.35 L611.74,979.25 L612.74,979.15 L613.73,979.05 L614.73,978.96 L615.73,978.87 L616.73,978.78 L617.73,978.7 L618.73,978.61 L619.72,978.52 L620.72,978.44 L621.72,978.35 L622.72,978.27 L623.72,978.19 L624.72,978.11 L625.71,978.02 L626.71,977.94 L627.71,977.86 L628.71,977.78 L629.71,977.7 L630.71,977.62 L631.7,977.54 L632.7,977.47 L633.7,977.39 L634.7,977.31 L635.7,977.24 L636.7,977.16 L637.69,977.09 L638.69,977.01 L639.69,976.94 L640.69,976.86 L641.69,976.79 L642.69,976.72 L643.68,976.65 L644.68,976.57 L645.68,976.5 L646.68,976.43 L647.68,976.36 L648.68,976.29 L649.67,976.22 L650.67,976.16 L651.67,976.09 L652.67,976.02 L653.67,975.95 L654.67,975.89 L655.66,975.82 L656.66,975.76 L657.66,975.69 L658.66,975.63 L659.66,975.56 L660.66,975.5 L661.65,975.44 L662.65,975.37 L663.65,975.31 L664.65,975.25 L665.65,975.19 L666.65,975.13 L667.64,975.07 L668.64,975.01 L669.64,974.95 L670.64,974.89 L671.64,974.83 L672.64,974.78 L673.63,974.72 L674.63,974.66 L675.63,974.6 L676.63,974.55 L677.63,974.49 L678.63,974.44 L679.62,974.38 L680.62,974.33 L681.62,974.27 L682.62,974.22 L683.62,974.16 L684.62,974.11 L685.61,974.06 L686.61,974 L687.61,973.95 L688.61,973.89 L689.61,973.84 L690.61,973.79 L691.6,973.73 L692.6,973.68 L693.6,973.63 L694.6,973.58 L695.6,973.53 L696.6,973.47 L697.59,973.42 L698.59,973.37 L699.59,973.32 L700.59,973.27 L701.59,973.22 L702.59,973.17 L703.58,973.12 L704.58,973.07 L705.58,973.02 L706.58,972.97 L707.58,972.92 L708.58,972.87 L709.57,972.82 L710.57,972.78 L711.57,972.73 L712.57,972.68 L713.57,972.63 L714.57,972.59 L715.56,972.54 L716.56,972.49 L717.56,972.45 L718.56,972.4 L719.56,972.36 L720.56,972.31 L721.55,972.27 L722.55,972.22 L723.55,972.18 L724.55,972.14 L725.55,972.09 L726.55,972.05 L727.54,972.01 L728.54,971.96 L729.54,971.92 L730.54,971.88 L731.54,971.84 L732.54,971.8 L733.53,971.76 L734.53,971.72 L735.53,971.68 L736.53,971.64 L737.53,971.6 L738.53,971.56 L739.52,971.52 L740.52,971.49 L741.52,971.45 L742.52,971.41 L743.52,971.37 L744.52,971.34 L745.51,971.3 L746.51,971.27 L747.51,971.23 L748.51,971.2 L749.51,971.16 L750.51,971.13 L751.5,971.1 L752.5,971.06 L753.5,971.03 L754.5,971" fill="none" stroke="#ffd700" stroke-width="2.5" stroke-linejoin="round" />
<path d="M354.4,958.75 L355.4,958.06 L356.4,957.36 L357.39,956.6 L358.39,955.76 L359.39,954.88 L360.39,953.93 L361.38,952.91 L362.38,951.81 L363.38,950.64 L364.38,949.38 L365.38,948.05 L366.37,946.63 L367.37,945.12 L368.37,943.54 L369.37,941.89 L370.36,940.19 L371.36,938.45 L372.36,936.66 L373.36,934.85 L374.36,933.04 L375.35,931.27 L376.35,929.58 L377.35,927.99 L378.35,926.51 L379.34,925.13 L380.34,923.85 L381.34,922.67 L382.34,921.56 L383.33,920.54 L384.33,919.6 L385.33,918.71 L386.33,917.88 L387.33,917.11 L388.32,916.38 L389.32,915.69 L390.32,915.06 L391.32,914.47 L392.31,913.93 L393.31,913.42 L394.31,912.95 L395.31,912.51 L396.31,912.1 L397.3,911.71 L398.3,911.34 L399.3,911 L400.3,910.67 L401.29,910.37 L402.29,910.09 L403.29,909.82 L404.29,909.57 L405.29,909.33 L406.28,909.11 L407.28,908.89 L408.28,908.68 L409.28,908.49 L410.27,908.3 L411.27,908.12 L412.27,907.95 L413.27,907.78 L414.27,907.62 L415.26,907.47 L416.26,907.33 L417.26,907.19 L418.26,907.05 L419.25,906.93 L420.25,906.8 L421.25,906.68 L422.25,906.57 L423.25,906.45 L424.24,906.34 L425.24,906.24 L426.24,906.13 L427.24,906.03 L428.23,905.93 L429.23,905.83 L430.23,905.74 L431.23,905.65 L432.22,905.55 L433.22,905.47 L434.22,905.38 L435.22,905.29 L436.22,905.21 L437.21,905.13 L438.21,905.04 L439.21,904.96 L440.21,904.88 L441.2,904.8 L442.2,904.73 L443.2,904.65 L444.2,904.58 L445.2,904.51 L446.19,904.44 L447.19,904.38 L448.19,904.32 L449.19,904.26 L450.18,904.2 L451.18,904.14 L452.18,904.08 L453.18,904.02 L454.18,903.96 L455.17,903.9 L456.17,903.84 L457.17,903.77 L458.17,903.7 L459.16,903.62 L460.16,903.55 L461.16,903.46 L462.16,903.37 L463.16,903.28 L464.15,903.17 L465.15,903.06 L466.15,902.93 L467.15,902.78 L468.14,902.62 L469.14,902.44 L470.14,902.25 L471.14,902.05 L472.14,901.82 L473.13,901.59 L474.13,901.35 L475.13,901.09 L476.13,900.83 L477.12,900.55 L478.12,900.27 L479.12,899.99 L480.12,899.7 L481.11,899.4 L482.11,899.11 L483.11,898.81 L484.11,898.51 L485.11,898.21 L486.1,897.91 L487.1,897.62 L488.1,897.32 L489.1,897.02 L490.09,896.71 L491.09,896.4 L492.09,896.08 L493.09,895.76 L494.09,895.43 L495.08,895.1 L496.08,894.76 L497.08,894.42 L498.08,894.07 L499.07,893.71 L500.07,893.36 L501.07,892.99 L502.07,892.63 L503.07,892.26 L504.06,891.88 L505.06,891.51 L506.06,891.13 L507.06,890.74 L508.05,890.36 L509.05,889.97 L510.05,889.57 L511.05,889.18 L512.05,888.78 L513.04,888.37 L514.04,887.97 L515.04,887.55 L516.04,887.14 L517.03,886.71 L518.03,886.29 L519.03,885.85 L520.03,885.42 L521.03,884.98 L522.02,884.53 L523.02,884.08 L524.02,883.62 L525.02,883.16 L526.01,882.69 L527.01,882.21 L528.01,881.73 L529.01,881.24 L530,880.75 L531,880.24 L532,879.72 L533,879.18 L534,878.62 L534.99,878.04 L535.99,877.44 L536.99,876.82 L537.99,876.19 L538.98,875.55 L539.98,874.92 L540.98,874.31 L541.98,873.72 L542.98,873.16 L543.97,872.63 L544.97,872.14 L545.97,871.68 L546.97,871.26 L547.96,870.86 L548.96,870.48 L549.96,870.11 L550.96,869.76 L551.96,869.41 L552.95,869.08 L553.95,868.76 L554.95,868.45 L555.95,868.15 L556.94,867.86 L557.94,867.57 L558.94,867.3 L559.94,867.03 L560.94,866.77 L561.93,866.52 L562.93,866.28 L563.93,866.04 L564.93,865.81 L565.92,865.59 L566.92,865.37 L567.92,865.16 L568.92,864.96 L569.92,864.76 L570.91,864.58 L571.91,864.39 L572.91,864.22 L573.91,864.04 L574.9,863.88 L575.9,863.71 L576.9,863.55 L577.9,863.39 L578.9,863.24 L579.89,863.08 L580.89,862.93 L581.89,862.77 L582.89,862.62 L583.88,862.46 L584.88,862.3 L585.88,862.14 L586.88,861.98 L587.87,861.81 L588.87,861.64 L589.87,861.47 L590.87,861.29 L591.87,861.11 L592.86,860.93 L593.86,860.75 L594.86,860.56 L595.86,860.38 L596.85,860.19 L597.85,860.01 L598.85,859.82 L599.85,859.63 L600.85,859.44 L601.84,859.25 L602.84,859.06 L603.84,858.87 L604.84,858.68 L605.83,858.49 L606.83,858.3 L607.83,858.1 L608.83,857.91 L609.83,857.72 L610.82,857.52 L611.82,857.33 L612.82,857.14 L613.82,856.94 L614.81,856.75 L615.81,856.56 L616.81,856.36 L617.81,856.17 L618.81,855.98 L619.8,855.78 L620.8,855.59 L621.8,855.4 L622.8,855.21 L623.79,855.02 L624.79,854.83 L625.79,854.64 L626.79,854.46 L627.79,854.27 L628.78,854.08 L629.78,853.9 L630.78,853.72 L631.78,853.53 L632.77,853.35 L633.77,853.17 L634.77,852.99 L635.77,852.81 L636.76,852.63 L637.76,852.45 L638.76,852.27 L639.76,852.09 L640.76,851.91 L641.75,851.73 L642.75,851.55 L643.75,851.37 L644.75,851.19 L645.74,851.01 L646.74,850.83 L647.74,850.66 L648.74,850.48 L649.74,850.3 L650.73,850.13 L651.73,849.95 L652.73,849.77 L653.73,849.6 L654.72,849.42 L655.72,849.25 L656.72,849.08 L657.72,848.9 L658.72,848.73 L659.71,848.56 L660.71,848.39 L661.71,848.22 L662.71,848.04 L663.7,847.88 L664.7,847.71 L665.7,847.54 L666.7,847.37 L667.7,847.2 L668.69,847.04 L669.69,846.87 L670.69,846.71 L671.69,846.54 L672.68,846.38 L673.68,846.22 L674.68,846.05 L675.68,845.89 L676.68,845.73 L677.67,845.57 L678.67,845.41 L679.67,845.25 L680.67,845.1 L681.66,844.94 L682.66,844.78 L683.66,844.63 L684.66,844.47 L685.65,844.32 L686.65,844.16 L687.65,844.01 L688.65,843.86 L689.65,843.7 L690.64,843.55 L691.64,843.4 L692.64,843.25 L693.64,843.1 L694.63,842.95 L695.63,842.8 L696.63,842.65 L697.63,842.5 L698.63,842.35 L699.62,842.2 L700.62,842.06 L701.62,841.91 L702.62,841.76 L703.61,841.62 L704.61,841.47 L705.61,841.32 L706.61,841.18 L707.61,841.03 L708.6,840.89 L709.6,840.74 L710.6,840.6 L711.6,840.45 L712.59,840.31 L713.59,840.16 L714.59,840.02 L715.59,839.88 L716.59,839.73 L717.58,839.59 L718.58,839.45 L719.58,839.3 L720.58,839.16 L721.57,839.02 L722.57,838.88 L723.57,838.73 L724.57,838.59 L725.57,838.45 L726.56,838.31 L727.56,838.17 L728.56,838.03 L729.56,837.89 L730.55,837.75 L731.55,837.61 L732.55,837.47 L733.55,837.33 L734.54,837.2 L735.54,837.06 L736.54,836.92 L737.54,836.78 L738.54,836.65 L739.53,836.51 L740.53,836.37 L741.53,836.24 L742.53,836.1 L743.52,835.97 L744.52,835.83 L745.52,835.7 L746.52,835.56 L747.52,835.43 L748.51,835.3 L749.51,835.16 L750.51,835.03 L751.51,834.9 L752.5,834.77 L753.5,834.64 L754.5,834.5" fill="none" stroke="#007f00" stroke-width="5" stroke-linejoin="round" />
<path d="M354.4,958.75 L355.39,958.06 L356.38,957.36 L357.38,956.61 L358.37,955.78 L359.36,954.91 L360.35,953.97 L361.35,952.95 L362.34,951.86 L363.33,950.7 L364.32,949.46 L365.32,948.13 L366.31,946.72 L367.3,945.23 L368.29,943.66 L369.28,942.03 L370.28,940.34 L371.27,938.61 L372.26,936.84 L373.25,935.04 L374.25,933.24 L375.24,931.47 L376.23,929.77 L377.22,928.17 L378.22,926.68 L379.21,925.3 L380.2,924.01 L381.19,922.82 L382.18,921.71 L383.18,920.7 L384.17,919.75 L385.16,918.88 L386.15,918.06 L387.15,917.29 L388.14,916.57 L389.13,915.91 L390.12,915.28 L391.12,914.71 L392.11,914.21 L393.1,913.75 L393.1,913.75 L394.1,925.14 L395.1,933.92 L396.1,941.97 L397.09,949.37 L398.09,956.06 L399.09,962.04 L400.09,967.16 L401.09,971.42 L402.09,974.96 L403.08,977.97 L404.08,980.53 L405.08,982.69 L406.08,984.48 L407.08,985.93 L408.08,987.13 L409.07,988.18 L410.07,989.16 L411.07,990.11 L412.07,991.08 L413.07,992.06 L414.07,993.03 L415.06,993.97 L416.06,994.84 L417.06,995.62 L418.06,996.31 L419.06,996.94 L420.06,997.5 L421.05,998.02 L422.05,998.5 L423.05,998.94 L424.05,999.35 L425.05,999.74 L426.05,1000.11 L427.04,1000.47 L428.04,1000.81 L429.04,1001.15 L430.04,1001.47 L431.04,1001.78 L432.04,1002.08 L433.03,1002.37 L434.03,1002.65 L435.03,1002.92 L436.03,1003.19 L437.03,1003.45 L438.03,1003.7 L439.02,1003.96 L440.02,1004.2 L441.02,1004.45 L442.02,1004.69 L443.02,1004.95 L444.02,1005.21 L445.01,1005.47 L446.01,1005.74 L447.01,1006.01 L448.01,1006.27 L449.01,1006.52 L450.01,1006.77 L451,1007 L452,1007.21 L453,1007.4 L454,1007.57 L455,1007.72 L456,1007.83 L456.99,1007.91 L457.99,1007.97 L458.99,1007.99 L459.99,1008 L460.99,1008 L461.99,1008 L462.98,1008 L463.98,1008 L464.98,1008 L465.98,1008 L466.98,1008 L467.98,1008 L468.97,1008 L469.97,1008 L470.97,1008 L471.97,1008 L472.97,1008 L473.97,1008 L474.96,1008 L475.96,1007.98 L476.96,1007.94 L477.96,1007.85 L478.96,1007.71 L479.96,1007.51 L480.95,1007.27 L481.95,1006.99 L482.95,1006.68 L483.95,1006.34 L484.95,1006 L485.95,1005.65 L486.94,1005.3 L487.94,1004.96 L488.94,1004.64 L489.94,1004.35 L490.94,1004.1 L491.94,1003.89 L492.93,1003.73 L493.93,1003.61 L494.93,1003.53 L495.93,1003.47 L496.93,1003.43 L497.93,1003.38 L498.92,1003.31 L499.92,1003.23 L500.92,1003.1 L501.92,1002.93 L502.92,1002.7 L503.92,1002.43 L504.91,1002.11 L505.91,1001.76 L506.91,1001.38 L507.91,1000.98 L508.91,1000.56 L509.91,1000.13 L510.9,999.7 L511.9,999.27 L512.9,998.85 L513.9,998.44 L514.9,998.05 L515.9,997.67 L516.89,997.29 L517.89,996.91 L518.89,996.53 L519.89,996.15 L520.89,995.76 L521.89,995.37 L522.88,994.98 L523.88,994.58 L524.88,994.17 L525.88,993.76 L526.88,993.34 L527.88,992.92 L528.87,992.49 L529.87,992.05 L530.87,991.59 L531.87,991.11 L532.87,990.62 L533.87,990.11 L534.86,989.59 L535.86,989.06 L536.86,988.53 L537.86,988 L538.86,987.47 L539.86,986.95 L540.85,986.44 L541.85,985.94 L542.85,985.47 L543.85,985.01 L544.85,984.58 L545.85,984.16 L546.84,983.76 L547.84,983.37 L548.84,982.99 L549.84,982.61 L550.84,982.25 L551.84,981.89 L552.83,981.54 L553.83,981.2 L554.83,980.86 L555.83,980.54 L556.83,980.22 L557.83,979.91 L558.82,979.6 L559.82,979.31 L560.82,979.02 L561.82,978.74 L562.82,978.47 L563.82,978.2 L564.81,977.94 L565.81,977.69 L566.81,977.44 L567.81,977.19 L568.81,976.95 L569.81,976.72 L570.8,976.48 L571.8,976.25 L572.8,976.01 L573.8,975.78 L574.8,975.55 L575.8,975.31 L576.8,975.08 L577.79,974.85 L578.79,974.61 L579.79,974.38 L580.79,974.15 L581.79,973.92 L582.79,973.7 L583.78,973.48 L584.78,973.26 L585.78,973.04 L586.78,972.84 L587.78,972.63 L588.78,972.44 L589.77,972.25 L590.77,972.06 L591.77,971.88 L592.77,971.7 L593.77,971.53 L594.77,971.36 L595.76,971.19 L596.76,971.03 L597.76,970.87 L598.76,970.71 L599.76,970.56 L600.76,970.41 L601.75,970.26 L602.75,970.12 L603.75,969.98 L604.75,969.84 L605.75,969.7 L606.75,969.57 L607.74,969.43 L608.74,969.31 L609.74,969.18 L610.74,969.05 L611.74,968.93 L612.74,968.81 L613.73,968.69 L614.73,968.58 L615.73,968.46 L616.73,968.35 L617.73,968.24 L618.73,968.14 L619.72,968.03 L620.72,967.93 L621.72,967.82 L622.72,967.72 L623.72,967.62 L624.72,967.53 L625.71,967.43 L626.71,967.33 L627.71,967.24 L628.71,967.14 L629.71,967.05 L630.71,966.96 L631.7,966.87 L632.7,966.77 L633.7,966.69 L634.7,966.6 L635.7,966.51 L636.7,966.42 L637.69,966.33 L638.69,966.25 L639.69,966.16 L640.69,966.08 L641.69,965.99 L642.69,965.91 L643.68,965.83 L644.68,965.74 L645.68,965.66 L646.68,965.58 L647.68,965.5 L648.68,965.41 L649.67,965.33 L650.67,965.25 L651.67,965.17 L652.67,965.09 L653.67,965.01 L654.67,964.93 L655.66,964.85 L656.66,964.77 L657.66,964.69 L658.66,964.61 L659.66,964.53 L660.66,964.45 L661.65,964.37 L662.65,964.28 L663.65,964.2 L664.65,964.12 L665.65,964.04 L666.65,963.95 L667.64,963.87 L668.64,963.79 L669.64,963.7 L670.64,963.62 L671.64,963.54 L672.64,963.45 L673.63,963.37 L674.63,963.29 L675.63,963.21 L676.63,963.13 L677.63,963.05 L678.63,962.97 L679.62,962.89 L680.62,962.81 L681.62,962.73 L682.62,962.65 L683.62,962.57 L684.62,962.5 L685.61,962.42 L686.61,962.35 L687.61,962.28 L688.61,962.21 L689.61,962.14 L690.61,962.07 L691.6,962 L692.6,961.94 L693.6,961.87 L694.6,961.81 L695.6,961.75 L696.6,961.69 L697.59,961.63 L698.59,961.58 L699.59,961.52 L700.59,961.47 L701.59,961.42 L702.59,961.37 L703.58,961.32 L704.58,961.27 L705.58,961.21 L706.58,961.16 L707.58,961.11 L708.58,961.07 L709.57,961.02 L710.57,960.97 L711.57,960.92 L712.57,960.87 L713.57,960.82 L714.57,960.78 L715.56,960.73 L716.56,960.68 L717.56,960.64 L718.56,960.59 L719.56,960.55 L720.56,960.5 L721.55,960.46 L722.55,960.41 L723.55,960.37 L724.55,960.33 L725.55,960.29 L726.55,960.25 L727.54,960.21 L728.54,960.17 L729.54,960.13 L730.54,960.09 L731.54,960.05 L732.54,960.01 L733.53,959.98 L734.53,959.94 L735.53,959.9 L736.53,959.87 L737.53,959.84 L738.53,959.8 L739.52,959.77 L740.52,959.74 L741.52,959.71 L742.52,959.68 L743.52,959.65 L744.52,959.63 L745.51,959.6 L746.51,959.57 L747.51,959.55 L748.51,959.52 L749.51,959.5 L750.51,959.48 L751.5,959.46 L752.5,959.44 L753.5,959.42 L754.5,959.4" fill="none" stroke="#00ff00" stroke-width="2.5" stroke-linejoin="round" />
<path d="M124.5,903.7 L125.5,903.7 L126.5,903.7 L127.5,903.71 L128.5,903.71 L129.5,903.72 L130.5,903.72 L131.5,903.73 L132.5,903.74 L133.5,903.74 L134.5,903.75 L135.5,903.76 L136.5,903.77 L137.5,903.78 L138.5,903.79 L139.5,903.8 L140.5,903.82 L141.5,903.83 L142.5,903.84 L143.5,903.86 L144.5,903.87 L145.5,903.88 L146.5,903.9 L147.5,903.91 L148.5,903.93 L149.5,903.95 L150.5,903.96 L151.5,903.98 L152.5,904 L153.5,904.01 L154.5,904.03 L155.5,904.05 L156.5,904.07 L157.5,904.08 L158.5,904.1 L159.5,904.12 L160.5,904.14 L161.5,904.16 L162.5,904.18 L163.5,904.2 L164.5,904.22 L165.5,904.24 L166.5,904.26 L167.5,904.28 L168.5,904.3 L169.5,904.33 L170.5,904.35 L171.5,904.38 L172.5,904.4 L173.5,904.43 L174.5,904.46 L175.5,904.49 L176.5,904.52 L177.5,904.55 L178.5,904.59 L179.5,904.62 L180.5,904.65 L181.5,904.69 L182.5,904.72 L183.5,904.76 L184.5,904.8 L185.5,904.84 L186.5,904.88 L187.5,904.92 L188.5,904.96 L189.5,905 L190.5,905.04 L191.5,905.09 L192.5,905.13 L193.5,905.17 L194.5,905.22 L195.5,905.27 L196.5,905.32 L197.5,905.37 L198.5,905.42 L199.5,905.47 L200.5,905.53 L201.5,905.59 L202.5,905.65 L203.5,905.71 L204.5,905.78 L205.5,905.85 L206.5,905.91 L207.5,905.99 L208.5,906.06 L209.5,906.14 L210.5,906.21 L211.5,906.29 L212.5,906.37 L213.5,906.45 L214.5,906.54 L215.5,906.62 L216.5,906.71 L217.5,906.8 L218.5,906.89 L219.5,906.98 L220.5,907.07 L221.5,907.16 L222.5,907.26 L223.5,907.35 L224.5,907.45 L225.5,907.54 L226.5,907.64 L227.5,907.74 L228.5,907.84 L229.5,907.94 L230.5,908.04 L231.5,908.14 L232.5,908.24 L233.5,908.34 L234.5,908.44 L235.5,908.54 L236.5,908.64 L237.5,908.75 L238.5,908.85 L239.5,908.95 L240.5,909.06 L241.5,909.16 L242.5,909.27 L243.5,909.39 L244.5,909.5 L245.5,909.62 L246.5,909.74 L247.5,909.86 L248.5,909.98 L249.5,910.11 L250.5,910.23 L251.5,910.36 L252.5,910.49 L253.5,910.61 L254.5,910.74 L255.5,910.86 L256.5,910.99 L257.5,911.11 L258.5,911.24 L259.5,911.37 L260.5,911.49 L261.5,911.62 L262.5,911.75 L263.5,911.88 L264.5,912.01 L265.5,912.14 L266.5,912.28 L267.5,912.41 L268.5,912.54 L269.5,912.68 L270.5,912.82 L271.5,912.95 L272.5,913.08 L273.5,913.22 L274.5,913.35 L275.5,913.48 L276.5,913.62 L277.5,913.76 L278.5,913.9 L279.5,914.05 L280.5,914.2 L281.5,914.37 L282.5,914.54 L283.5,914.73 L284.5,914.93 L285.5,915.15 L286.5,915.38 L287.5,915.64 L288.5,915.92 L289.5,916.23 L290.5,916.57 L291.5,916.94 L292.5,917.35 L293.5,917.82 L294.5,918.33 L295.5,918.89 L296.5,919.49 L297.5,920.12 L298.5,920.76 L299.5,921.42 L300.5,922.09 L301.5,922.76 L302.5,923.44 L303.5,924.13 L304.5,924.84 L305.5,925.56 L306.5,926.29 L307.5,927.04 L308.5,927.81 L309.5,928.6 L310.5,929.4 L311.5,930.2 L312.5,931 L313.5,931.8 L314.5,932.58 L315.5,933.34 L316.5,934.08 L317.5,934.8 L318.5,935.52 L319.5,936.21 L320.5,936.9 L321.5,937.56 L322.5,938.22 L323.5,938.85 L324.5,939.47 L325.5,940.08 L326.5,940.68 L327.5,941.27 L328.5,941.86 L329.5,942.45 L330.5,943.05 L331.5,943.64 L332.5,944.23 L333.5,944.82 L334.5,945.42 L335.5,946.03 L336.5,946.65 L337.5,947.29 L338.5,947.94 L339.5,948.61 L340.5,949.29 L341.5,949.99 L342.5,950.7 L343.5,951.42 L344.5,952.15 L345.5,952.88 L346.5,953.63 L347.5,954.38 L348.5,955.15 L349.5,955.93 L350.5,956.71 L351.5,957.52 L352.5,958.34 L353.5,959.17 L354.5,960.02 L355.5,960.89 L356.5,961.76 L357.5,962.64 L358.5,963.53 L359.5,964.43 L360.5,965.33 L361.5,966.23 L362.5,967.13 L363.5,968.04 L364.5,968.94 L365.5,969.84 L366.5,970.74 L367.5,971.64 L368.5,972.54 L369.5,973.43 L370.5,974.33 L371.5,975.23 L372.5,976.13 L373.5,977.02 L374.5,977.92 L375.5,978.81 L376.5,979.71 L377.5,980.6 L378.5,981.48 L379.5,982.36 L380.5,983.23 L381.5,984.09 L382.5,984.93 L383.5,985.75 L384.5,986.54 L385.5,987.32 L386.5,988.07 L387.5,988.81 L388.5,989.53 L389.5,990.24 L390.5,990.95 L391.5,991.66 L392.5,992.35 L393.5,993.03 L394.5,993.69 L395.5,994.3 L396.5,994.87 L397.5,995.39 L398.5,995.85 L399.5,996.28 L400.5,996.66 L401.5,997.02 L402.5,997.36 L403.5,997.69 L404.5,998.02 L405.5,998.35 L406.5,998.7 L407.5,999.08 L408.5,999.48 L409.5,999.91 L410.5,1000.37 L411.5,1000.85 L412.5,1001.33 L413.5,1001.78 L414.5,1002.21 L415.5,1002.61 L416.5,1002.97 L417.5,1003.31 L418.5,1003.62 L419.5,1003.92 L420.5,1004.21 L421.5,1004.48 L422.5,1004.75 L423.5,1005 L424.5,1005.25 L425.5,1005.5 L426.5,1005.73 L427.5,1005.97 L428.5,1006.2 L429.5,1006.42 L430.5,1006.65 L431.5,1006.88 L432.5,1007.1 L433.5,1007.33 L434.5,1007.57 L435.5,1007.8 L436.5,1008.03 L437.5,1008.26 L438.5,1008.49 L439.5,1008.72 L440.5,1008.94 L441.5,1009.16 L442.5,1009.36 L443.5,1009.56 L444.5,1009.75 L445.5,1009.93 L446.5,1010.1 L447.5,1010.25 L448.5,1010.39 L449.5,1010.52 L450.5,1010.64 L451.5,1010.75 L452.5,1010.86 L453.5,1010.96 L454.5,1011.06 L455.5,1011.16 L456.5,1011.25 L457.5,1011.34 L458.5,1011.42 L459.5,1011.5 L460.5,1011.57 L461.5,1011.64 L462.5,1011.69 L463.5,1011.74 L464.5,1011.78 L465.5,1011.8 L466.5,1011.82 L467.5,1011.82 L468.5,1011.81 L469.5,1011.78 L470.5,1011.74 L471.5,1011.68 L472.5,1011.61 L473.5,1011.53 L474.5,1011.44 L475.5,1011.33 L476.5,1011.22 L477.5,1011.1 L478.5,1010.98 L479.5,1010.85 L480.5,1010.71 L481.5,1010.58 L482.5,1010.44 L483.5,1010.3 L484.5,1010.16 L485.5,1010.02 L486.5,1009.87 L487.5,1009.72 L488.5,1009.55 L489.5,1009.38 L490.5,1009.2 L491.5,1009.01 L492.5,1008.82 L493.5,1008.62 L494.5,1008.41 L495.5,1008.2 L496.5,1007.98 L497.5,1007.76 L498.5,1007.53 L499.5,1007.3 L500.5,1007.07 L501.5,1006.83 L502.5,1006.59 L503.5,1006.34 L504.5,1006.09 L505.5,1005.84 L506.5,1005.57 L507.5,1005.3 L508.5,1005.02 L509.5,1004.73 L510.5,1004.44 L511.5,1004.15 L512.5,1003.85 L513.5,1003.54 L514.5,1003.24 L515.5,1002.93 L516.5,1002.61 L517.5,1002.29 L518.5,1001.98 L519.5,1001.65 L520.5,1001.33 L521.5,1001 L522.5,1000.66 L523.5,1000.32 L524.5,999.98 L525.5,999.63 L526.5,999.27 L527.5,998.91 L528.5,998.55 L529.5,998.17 L530.5,997.8 L531.5,997.42 L532.5,997.03 L533.5,996.63 L534.5,996.23 L535.5,995.82 L536.5,995.41 L537.5,995 L538.5,994.59 L539.5,994.18 L540.5,993.78 L541.5,993.37 L542.5,992.98 L543.5,992.59 L544.5,992.2 L545.5,991.82 L546.5,991.45 L547.5,991.08 L548.5,990.72 L549.5,990.35 L550.5,990 L551.5,989.64 L552.5,989.29 L553.5,988.94 L554.5,988.59 L555.5,988.25 L556.5,987.91 L557.5,987.58 L558.5,987.25 L559.5,986.92 L560.5,986.59 L561.5,986.26 L562.5,985.94 L563.5,985.62 L564.5,985.3 L565.5,984.98 L566.5,984.67 L567.5,984.36 L568.5,984.05 L569.5,983.75 L570.5,983.46 L571.5,983.18 L572.5,982.91 L573.5,982.65 L574.5,982.39 L575.5,982.15 L576.5,981.91 L577.5,981.68 L578.5,981.46 L579.5,981.25 L580.5,981.04 L581.5,980.83 L582.5,980.63 L583.5,980.44 L584.5,980.24 L585.5,980.06 L586.5,979.87 L587.5,979.69 L588.5,979.52 L589.5,979.34 L590.5,979.17 L591.5,979 L592.5,978.84 L593.5,978.68 L594.5,978.52 L595.5,978.36 L596.5,978.21 L597.5,978.06 L598.5,977.91 L599.5,977.77 L600.5,977.62 L601.5,977.48 L602.5,977.34 L603.5,977.2 L604.5,977.07 L605.5,976.93 L606.5,976.8 L607.5,976.67 L608.5,976.54 L609.5,976.4 L610.5,976.27 L611.5,976.15 L612.5,976.02 L613.5,975.9 L614.5,975.78 L615.5,975.67 L616.5,975.56 L617.5,975.45 L618.5,975.35 L619.5,975.25 L620.5,975.16 L621.5,975.08 L622.5,974.99 L623.5,974.91 L624.5,974.83 L625.5,974.75 L626.5,974.68 L627.5,974.6 L628.5,974.53 L629.5,974.46 L630.5,974.39 L631.5,974.33 L632.5,974.26 L633.5,974.2 L634.5,974.13 L635.5,974.07 L636.5,974.01 L637.5,973.95 L638.5,973.89 L639.5,973.83 L640.5,973.77 L641.5,973.71 L642.5,973.65 L643.5,973.59 L644.5,973.53 L645.5,973.47 L646.5,973.41 L647.5,973.35 L648.5,973.29 L649.5,973.23 L650.5,973.17 L651.5,973.11 L652.5,973.05 L653.5,972.99 L654.5,972.93 L655.5,972.87 L656.5,972.81 L657.5,972.75 L658.5,972.69 L659.5,972.63 L660.5,972.57 L661.5,972.51 L662.5,972.46 L663.5,972.4 L664.5,972.34 L665.5,972.28 L666.5,972.23 L667.5,972.17 L668.5,972.11 L669.5,972.05 L670.5,972 L671.5,971.94 L672.5,971.88 L673.5,971.83 L674.5,971.77 L675.5,971.71 L676.5,971.66 L677.5,971.6 L678.5,971.54 L679.5,971.49 L680.5,971.43 L681.5,971.37 L682.5,971.32 L683.5,971.26 L684.5,971.2 L685.5,971.15 L686.5,971.09 L687.5,971.04 L688.5,970.98 L689.5,970.92 L690.5,970.87 L691.5,970.81 L692.5,970.76 L693.5,970.7 L694.5,970.64 L695.5,970.59 L696.5,970.53 L697.5,970.48 L698.5,970.42 L699.5,970.37 L700.5,970.31 L701.5,970.26 L702.5,970.2 L703.5,970.14 L704.5,970.09 L705.5,970.03 L706.5,969.98 L707.5,969.92 L708.5,969.86 L709.5,969.81 L710.5,969.75 L711.5,969.7 L712.5,969.64 L713.5,969.58 L714.5,969.53 L715.5,969.47 L716.5,969.42 L717.5,969.36 L718.5,969.3 L719.5,969.25 L720.5,969.19 L721.5,969.13 L722.5,969.08 L723.5,969.02 L724.5,968.96 L725.5,968.91 L726.5,968.85 L727.5,968.79 L728.5,968.74 L729.5,968.68 L730.5,968.62 L731.5,968.56 L732.5,968.51 L733.5,968.45 L734.5,968.39 L735.5,968.34 L736.5,968.28 L737.5,968.22 L738.5,968.17 L739.5,968.11 L740.5,968.05 L741.5,967.99 L742.5,967.94 L743.5,967.88 L744.5,967.82 L745.5,967.77 L746.5,967.71 L747.5,967.65 L748.5,967.59 L749.5,967.54 L750.5,967.48 L751.5,967.42 L752.5,967.37 L753.5,967.31 L754.5,967.25" fill="none" stroke="#ff0000" stroke-width="5" stroke-linejoin="round" />
<path d="M360,962.5 L361,963.25 L362,963.91 L363,964.53 L364,965.15 L365,965.77 L366,966.39 L367,967 L368,967.6 L369,968.17 L370,968.71 L371,969.23 L372,969.72 L373,970.17 L374,970.61 L375,971.02 L376,971.42 L377,971.8 L378,972.16 L379,972.5 L380,972.81 L381,973.09 L382,973.34 L383,973.56 L384,973.75 L385,973.92 L386,974.08 L387,974.22 L388,974.35 L389,974.48 L390,974.59 L391,974.69 L392,974.78 L393,974.85 L394,974.91 L395,974.94 L396,974.95 L397,974.95 L398,974.92 L399,974.87 L400,974.8 L401,974.72 L402,974.62 L403,974.5 L404,974.38 L405,974.26 L406,974.12 L407,973.99 L408,973.85 L409,973.71 L410,973.56 L411,973.4 L412,973.24 L413,973.06 L414,972.87 L415,972.68 L416,972.47 L417,972.26 L418,972.03 L419,971.79 L420,971.55 L421,971.28 L422,971.01 L423,970.71 L424,970.39 L425,970.05 L426,969.7 L427,969.32 L428,968.93 L429,968.53 L430,968.12 L431,967.69 L432,967.26 L433,966.82 L434,966.38 L435,965.94 L436,965.49 L437,965.05 L438,964.62 L439,964.18 L440,963.75 L441,963.32 L442,962.88 L443,962.44 L444,961.99 L445,961.54 L446,961.08 L447,960.62 L448,960.16 L449,959.7 L450,959.24 L451,958.79 L452,958.33 L453,957.89 L454,957.45 L455,957.02 L456,956.59 L457,956.18 L458,955.78 L459,955.4 L460,955.03 L461,954.67 L462,954.32 L463,953.98 L464,953.65 L465,953.33 L466,953.02 L467,952.71 L468,952.41 L469,952.11 L470,951.81 L471,951.52 L472,951.22 L473,950.93 L474,950.63 L475,950.33 L476,950.02 L477,949.71 L478,949.4 L479,949.08 L480,948.76 L481,948.43 L482,948.1 L483,947.76 L484,947.43 L485,947.09 L486,946.75 L487,946.41 L488,946.07 L489,945.73 L490,945.4 L491,945.06 L492,944.72 L493,944.38 L494,944.05 L495,943.72 L496,943.39 L497,943.07 L498,942.74 L499,942.42 L500,942.09 L501,941.77 L502,941.44 L503,941.11 L504,940.78 L505,940.45 L506,940.11 L507,939.78 L508,939.45 L509,939.13 L510,938.81 L511,938.49 L512,938.18 L513,937.88 L514,937.58 L515,937.3 L516,937.02 L517,936.76 L518,936.5 L519,936.26 L520,936.04 L521,935.82 L522,935.62 L523,935.42 L524,935.23 L525,935.04 L526,934.86 L527,934.69 L528,934.51 L529,934.35 L530,934.18 L531,934.02 L532,933.87 L533,933.72 L534,933.58 L535,933.44 L536,933.3 L537,933.17 L538,933.04 L539,932.92 L540,932.8 L541,932.69 L542,932.59 L543,932.48 L544,932.38 L545,932.29 L546,932.2 L547,932.11 L548,932.03 L549,931.95 L550,931.87 L551,931.79 L552,931.72 L553,931.65 L554,931.58 L555,931.51 L556,931.44 L557,931.38 L558,931.31 L559,931.25 L560,931.19 L561,931.13 L562,931.06 L563,931 L564,930.94 L565,930.88 L566,930.82 L567,930.75 L568,930.69 L569,930.63 L570,930.57 L571,930.51 L572,930.45 L573,930.39 L574,930.33 L575,930.28 L576,930.22 L577,930.16 L578,930.1 L579,930.05 L580,929.99 L581,929.94 L582,929.88 L583,929.83 L584,929.77 L585,929.72 L586,929.67 L587,929.61 L588,929.56 L589,929.5 L590,929.45 L591,929.4 L592,929.34 L593,929.29 L594,929.24 L595,929.18 L596,929.13 L597,929.07 L598,929.02 L599,928.97 L600,928.91 L601,928.86 L602,928.81 L603,928.76 L604,928.7 L605,928.65 L606,928.6 L607,928.55 L608,928.49 L609,928.44 L610,928.39 L611,928.34 L612,928.29 L613,928.24 L614,928.19 L615,928.14 L616,928.09 L617,928.04 L618,927.99 L619,927.94 L620,927.89 L621,927.84 L622,927.79 L623,927.74 L624,927.69 L625,927.65 L626,927.6 L627,927.55 L628,927.51 L629,927.46 L630,927.41 L631,927.37 L632,927.32 L633,927.28 L634,927.23 L635,927.19 L636,927.14 L637,927.1 L638,927.05 L639,927.01 L640,926.97 L641,926.92 L642,926.88 L643,926.83 L644,926.79 L645,926.74 L646,926.7 L647,926.66 L648,926.61 L649,926.57 L650,926.53 L651,926.49 L652,926.44 L653,926.4 L654,926.36 L655,926.32 L656,926.28 L657,926.24 L658,926.2 L659,926.16 L660,926.12 L661,926.08 L662,926.04 L663,926.01 L664,925.97 L665,925.93 L666,925.9 L667,925.86 L668,925.83 L669,925.79 L670,925.76 L671,925.73 L672,925.69 L673,925.66 L674,925.63 L675,925.6 L676,925.57 L677,925.54 L678,925.52 L679,925.49 L680,925.46 L681,925.44 L682,925.41 L683,925.39 L684,925.36 L685,925.34 L686,925.32 L687,925.29 L688,925.27 L689,925.25 L690,925.23 L691,925.21 L692,925.19 L693,925.17 L694,925.15 L695,925.12 L696,925.1 L697,925.08 L698,925.06 L699,925.04 L700,925.02 L701,925 L702,924.98 L703,924.96 L704,924.94 L705,924.91 L706,924.89 L707,924.87 L708,924.85 L709,924.82 L710,924.8 L711,924.77 L712,924.75 L713,924.72 L714,924.7 L715,924.67 L716,924.64 L717,924.61 L718,924.58 L719,924.55 L720,924.52 L721,924.49 L722,924.46 L723,924.43 L724,924.4 L725,924.36 L726,924.33 L727,924.29 L728,924.26 L729,924.22 L730,924.19 L731,924.15 L732,924.11 L733,924.08 L734,924.04 L735,924 L736,923.96 L737,923.92 L738,923.88 L739,923.84 L740,923.8 L741,923.76 L742,923.72 L743,923.68 L744,923.64 L745,923.59 L746,923.55 L747,923.51 L748,923.47 L749,923.42 L750,923.38 L751,923.34 L752,923.29 L753,923.25 L754,923.2" fill="none" stroke="#ff0000" stroke-width="1.1" stroke-linejoin="round" stroke-dasharray="16 4.5"/>
</g>
<path d="M132.89,1072.5 v-2.8 M132.89,830.5 v2.8 M141.29,1072.5 v-2.8 M141.29,830.5 v2.8 M149.68,1072.5 v-2.8 M149.68,830.5 v2.8 M158.07,1072.5 v-2.8 M158.07,830.5 v2.8 M166.47,1072.5 v-5 M166.47,830.5 v5 M174.86,1072.5 v-2.8 M174.86,830.5 v2.8 M183.25,1072.5 v-2.8 M183.25,830.5 v2.8 M191.65,1072.5 v-2.8 M191.65,830.5 v2.8 M200.04,1072.5 v-2.8 M200.04,830.5 v2.8 M208.43,1072.5 v-2.8 M208.43,830.5 v2.8 M216.83,1072.5 v-2.8 M216.83,830.5 v2.8 M225.22,1072.5 v-2.8 M225.22,830.5 v2.8 M233.61,1072.5 v-2.8 M233.61,830.5 v2.8 M242.01,1072.5 v-2.8 M242.01,830.5 v2.8 M250.4,1072.5 v-5 M250.4,830.5 v5 M258.79,1072.5 v-2.8 M258.79,830.5 v2.8 M267.19,1072.5 v-2.8 M267.19,830.5 v2.8 M275.58,1072.5 v-2.8 M275.58,830.5 v2.8 M283.97,1072.5 v-2.8 M283.97,830.5 v2.8 M292.37,1072.5 v-2.8 M292.37,830.5 v2.8 M300.76,1072.5 v-2.8 M300.76,830.5 v2.8 M309.15,1072.5 v-2.8 M309.15,830.5 v2.8 M317.55,1072.5 v-2.8 M317.55,830.5 v2.8 M325.94,1072.5 v-2.8 M325.94,830.5 v2.8 M334.33,1072.5 v-5 M334.33,830.5 v5 M342.73,1072.5 v-2.8 M342.73,830.5 v2.8 M351.12,1072.5 v-2.8 M351.12,830.5 v2.8 M359.51,1072.5 v-2.8 M359.51,830.5 v2.8 M367.91,1072.5 v-2.8 M367.91,830.5 v2.8 M376.3,1072.5 v-2.8 M376.3,830.5 v2.8 M384.69,1072.5 v-2.8 M384.69,830.5 v2.8 M393.09,1072.5 v-2.8 M393.09,830.5 v2.8 M401.48,1072.5 v-2.8 M401.48,830.5 v2.8 M409.87,1072.5 v-2.8 M409.87,830.5 v2.8 M418.27,1072.5 v-5 M418.27,830.5 v5 M426.66,1072.5 v-2.8 M426.66,830.5 v2.8 M435.05,1072.5 v-2.8 M435.05,830.5 v2.8 M443.45,1072.5 v-2.8 M443.45,830.5 v2.8 M451.84,1072.5 v-2.8 M451.84,830.5 v2.8 M460.23,1072.5 v-2.8 M460.23,830.5 v2.8 M468.63,1072.5 v-2.8 M468.63,830.5 v2.8 M477.02,1072.5 v-2.8 M477.02,830.5 v2.8 M485.41,1072.5 v-2.8 M485.41,830.5 v2.8 M493.81,1072.5 v-2.8 M493.81,830.5 v2.8 M502.2,1072.5 v-5 M502.2,830.5 v5 M510.59,1072.5 v-2.8 M510.59,830.5 v2.8 M518.99,1072.5 v-2.8 M518.99,830.5 v2.8 M527.38,1072.5 v-2.8 M527.38,830.5 v2.8 M535.77,1072.5 v-2.8 M535.77,830.5 v2.8 M544.17,1072.5 v-2.8 M544.17,830.5 v2.8 M552.56,1072.5 v-2.8 M552.56,830.5 v2.8 M560.95,1072.5 v-2.8 M560.95,830.5 v2.8 M569.35,1072.5 v-2.8 M569.35,830.5 v2.8 M577.74,1072.5 v-2.8 M577.74,830.5 v2.8 M586.13,1072.5 v-5 M586.13,830.5 v5 M594.53,1072.5 v-2.8 M594.53,830.5 v2.8 M602.92,1072.5 v-2.8 M602.92,830.5 v2.8 M611.31,1072.5 v-2.8 M611.31,830.5 v2.8 M619.71,1072.5 v-2.8 M619.71,830.5 v2.8 M628.1,1072.5 v-2.8 M628.1,830.5 v2.8 M636.49,1072.5 v-2.8 M636.49,830.5 v2.8 M644.89,1072.5 v-2.8 M644.89,830.5 v2.8 M653.28,1072.5 v-2.8 M653.28,830.5 v2.8 M661.67,1072.5 v-2.8 M661.67,830.5 v2.8 M670.07,1072.5 v-5 M670.07,830.5 v5 M678.46,1072.5 v-2.8 M678.46,830.5 v2.8 M686.85,1072.5 v-2.8 M686.85,830.5 v2.8 M695.25,1072.5 v-2.8 M695.25,830.5 v2.8 M703.64,1072.5 v-2.8 M703.64,830.5 v2.8 M712.03,1072.5 v-2.8 M712.03,830.5 v2.8 M720.43,1072.5 v-2.8 M720.43,830.5 v2.8 M728.82,1072.5 v-2.8 M728.82,830.5 v2.8 M737.21,1072.5 v-2.8 M737.21,830.5 v2.8 M745.61,1072.5 v-2.8 M745.61,830.5 v2.8 M124.5,1056.36 h5 M754,1056.36 h-5 M124.5,1024.1 h5 M754,1024.1 h-5 M124.5,991.83 h5 M754,991.83 h-5 M124.5,959.56 h5 M754,959.56 h-5 M124.5,927.3 h5 M754,927.3 h-5 M124.5,895.03 h5 M754,895.03 h-5 M124.5,862.77 h5 M754,862.77 h-5 M124.5,1040.23 h2.8 M754,1040.23 h-2.8 M124.5,1007.96 h2.8 M754,1007.96 h-2.8 M124.5,975.7 h2.8 M754,975.7 h-2.8 M124.5,943.43 h2.8 M754,943.43 h-2.8 M124.5,911.16 h2.8 M754,911.16 h-2.8 M124.5,878.9 h2.8 M754,878.9 h-2.8 M124.5,846.63 h2.8 M754,846.63 h-2.8" stroke="#000" stroke-width="1.1" fill="none"/>
<rect x="124.5" y="830.5" width="629.5" height="242" fill="none" stroke="#111" stroke-width="1.2"/>
<text transform="translate(110.5,839.2) scale(0.97,1)" font-size="24.3" text-anchor="end" >-2</text>
<text transform="translate(110.5,871.47) scale(0.97,1)" font-size="24.3" text-anchor="end" >-4</text>
<text transform="translate(110.5,903.73) scale(0.97,1)" font-size="24.3" text-anchor="end" >-6</text>
<text transform="translate(110.5,936) scale(0.97,1)" font-size="24.3" text-anchor="end" >-8</text>
<text transform="translate(110.5,968.26) scale(0.97,1)" font-size="24.3" text-anchor="end" >-10</text>
<text transform="translate(110.5,1000.53) scale(0.97,1)" font-size="24.3" text-anchor="end" >-12</text>
<text transform="translate(110.5,1032.8) scale(0.97,1)" font-size="24.3" text-anchor="end" >-14</text>
<text transform="translate(110.5,1065.06) scale(0.97,1)" font-size="24.3" text-anchor="end" >-16</text>
<text transform="translate(48.5,950.5) rotate(-90) scale(0.94,1)" font-size="32.8" text-anchor="middle">atm <tspan font-style="italic" font-family="Liberation Serif">δ</tspan><tspan dy="-17" font-size="19.5">13</tspan><tspan dy="17">C [</tspan><tspan dy="-17" font-size="19.5">o</tspan><tspan dy="17">/</tspan><tspan dy="5" font-size="19.5">oo</tspan><tspan dy="-5">]</tspan></text>
<text transform="translate(129.19,878.9) scale(0.93,1)" font-size="51.2" text-anchor="start" >D</text>
<rect x="134.1" y="978" width="14.6" height="14.5" fill="#000"/>
<circle cx="141.5" cy="1008.4" r="5.6" fill="#007f00"/>
<circle cx="141.5" cy="1031.6" r="3.6" fill="#ff00ff"/>
<circle cx="141.5" cy="1055" r="3.6" fill="#0000ff"/>
<text transform="translate(157,992) scale(0.98,1.06)" font-size="19.6" text-anchor="start" >WAIS Divide</text>
<text transform="translate(157,1015.3) scale(0.98,1.06)" font-size="19.6" text-anchor="start" >Law Dome</text>
<text transform="translate(157,1038.6) scale(0.98,1.06)" font-size="19.6" text-anchor="start" >Point Barrow</text>
<text transform="translate(157,1061.9) scale(0.98,1.06)" font-size="19.6" text-anchor="start" >South Pole</text>
<path d="M549.4,903.3 H584.25" stroke="#ff0000" stroke-width="1.1" stroke-dasharray="14.6 4.5"/>
<text transform="translate(591.5,910.3) scale(0.98,1.06)" font-size="19.6" text-anchor="start" >RCP8.5@cement</text>
<path d="M623.9,985.4 H658.3" stroke="#0000ff" stroke-width="5"/>
<text transform="translate(666.5,991.9) scale(0.98,1.06)" font-size="19.6" text-anchor="start" >DAC</text>
<path d="M623.9,1008.7 H658.3" stroke="#00ffff" stroke-width="2.5"/>
<text transform="translate(666.5,1015.2) scale(0.98,1.06)" font-size="19.6" text-anchor="start" >DACs</text>
<path d="M623.9,1032 H658.3" stroke="#007f00" stroke-width="5"/>
<text transform="translate(666.5,1038.5) scale(0.98,1.06)" font-size="19.6" text-anchor="start" >BECCS</text>
<path d="M623.9,1055.3 H658.3" stroke="#00ff00" stroke-width="2.5"/>
<text transform="translate(666.5,1061.8) scale(0.98,1.06)" font-size="19.6" text-anchor="start" >BECCSs</text>
<clipPath id="clipE"><rect x="124.5" y="1096.5" width="629.5" height="242"/></clipPath>
<g clip-path="url(#clipE)">
<path d="M340,1253.75 L341,1254.45 L342,1255.1 L343,1255.75 L344,1256.41 L345,1257.09 L346,1257.78 L347,1258.47 L348,1259.17 L349,1259.87 L350,1260.58 L351,1261.29 L352,1262 L353,1262.7 L354,1263.41 L355,1264.13 L356,1264.85 L357,1265.6 L358,1266.38 L359,1267.21 L360,1268.09 L361,1269.03 L362,1270.04 L363,1271.12 L364,1272.26 L365,1273.46 L366,1274.69 L367,1275.97 L368,1277.27 L369,1278.6 L370,1279.93 L371,1281.26 L372,1282.59 L373,1283.9 L374,1285.19 L375,1286.44 L376,1287.65 L377,1288.81 L378,1289.91 L379,1290.95 L380,1291.94 L381,1292.89 L382,1293.8 L383,1294.69 L384,1295.57 L385,1296.43 L386,1297.28 L387,1298.1 L388,1298.91 L389,1299.71 L390,1300.48 L391,1301.23 L392,1301.96 L393,1302.67 L394,1303.36 L395,1304.02 L396,1304.66 L397,1305.28 L398,1305.87 L399,1306.43 L400,1306.97 L401,1307.49 L402,1307.99 L403,1308.47 L404,1308.93 L405,1309.38 L406,1309.81 L407,1310.24 L408,1310.65 L409,1311.05 L410,1311.44 L411,1311.82 L412,1312.19 L413,1312.56 L414,1312.91 L415,1313.27 L416,1313.62 L417,1313.97 L418,1314.31 L419,1314.66 L420,1315 L421,1315.34 L422,1315.68 L423,1316.02 L424,1316.36 L425,1316.69 L426,1317.03 L427,1317.35 L428,1317.68 L429,1317.99 L430,1318.31 L431,1318.61 L432,1318.91 L433,1319.2 L434,1319.49 L435,1319.76 L436,1320.03 L437,1320.28 L438,1320.53 L439,1320.77 L440,1321 L441,1321.22 L442,1321.45 L443,1321.68 L444,1321.91 L445,1322.14 L446,1322.37 L447,1322.59 L448,1322.81 L449,1323.03 L450,1323.23 L451,1323.42 L452,1323.6 L453,1323.77 L454,1323.92 L455,1324.05 L456,1324.16 L457,1324.25 L458,1324.31 L459,1324.35 L460,1324.37 L461,1324.36 L462,1324.33 L463,1324.28 L464,1324.21 L465,1324.12 L466,1324.02 L467,1323.9 L468,1323.77 L469,1323.62 L470,1323.47 L471,1323.3 L472,1323.13 L473,1322.95 L474,1322.76 L475,1322.57 L476,1322.38 L477,1322.19 L478,1321.99 L479,1321.79 L480,1321.59 L481,1321.39 L482,1321.17 L483,1320.95 L484,1320.71 L485,1320.46 L486,1320.2 L487,1319.93 L488,1319.64 L489,1319.35 L490,1319.04 L491,1318.72 L492,1318.4 L493,1318.06 L494,1317.72 L495,1317.37 L496,1317.01 L497,1316.64 L498,1316.26 L499,1315.88 L500,1315.48 L501,1315.07 L502,1314.65 L503,1314.2 L504,1313.74 L505,1313.25 L506,1312.75 L507,1312.23 L508,1311.7 L509,1311.15 L510,1310.59 L511,1310.01 L512,1309.42 L513,1308.82 L514,1308.21 L515,1307.58 L516,1306.95 L517,1306.3 L518,1305.64 L519,1304.96 L520,1304.25 L521,1303.51 L522,1302.76 L523,1301.98 L524,1301.18 L525,1300.37 L526,1299.55 L527,1298.72 L528,1297.87 L529,1297.02 L530,1296.15 L531,1295.26 L532,1294.35 L533,1293.42 L534,1292.47 L535,1291.51 L536,1290.56 L537,1289.63 L538,1288.72 L539,1287.84 L540,1286.99 L541,1286.17 L542,1285.36 L543,1284.58 L544,1283.82 L545,1283.08 L546,1282.4 L547,1281.76 L548,1281.19 L549,1280.67 L550,1280.2 L551,1279.77 L552,1279.38 L553,1279 L554,1278.65 L555,1278.32 L556,1278 L557,1277.71 L558,1277.43 L559,1277.16 L560,1276.91 L561,1276.67 L562,1276.44 L563,1276.22 L564,1276.01 L565,1275.81 L566,1275.61 L567,1275.42 L568,1275.23 L569,1275.06 L570,1274.89 L571,1274.72 L572,1274.56 L573,1274.41 L574,1274.26 L575,1274.11 L576,1273.97 L577,1273.83 L578,1273.7 L579,1273.57 L580,1273.44 L581,1273.32 L582,1273.2 L583,1273.08 L584,1272.96 L585,1272.84 L586,1272.73 L587,1272.62 L588,1272.51 L589,1272.4 L590,1272.3 L591,1272.19 L592,1272.09 L593,1271.99 L594,1271.9 L595,1271.8 L596,1271.71 L597,1271.62 L598,1271.54 L599,1271.45 L600,1271.37 L601,1271.29 L602,1271.22 L603,1271.14 L604,1271.07 L605,1271 L606,1270.94 L607,1270.87 L608,1270.81 L609,1270.75 L610,1270.69 L611,1270.63 L612,1270.57 L613,1270.52 L614,1270.47 L615,1270.41 L616,1270.36 L617,1270.31 L618,1270.27 L619,1270.22 L620,1270.17 L621,1270.12 L622,1270.08 L623,1270.03 L624,1269.99 L625,1269.94 L626,1269.9 L627,1269.85 L628,1269.81 L629,1269.77 L630,1269.72 L631,1269.68 L632,1269.63 L633,1269.59 L634,1269.54 L635,1269.49 L636,1269.45 L637,1269.4 L638,1269.35 L639,1269.3 L640,1269.25 L641,1269.2 L642,1269.15 L643,1269.1 L644,1269.05 L645,1268.99 L646,1268.94 L647,1268.89 L648,1268.84 L649,1268.79 L650,1268.74 L651,1268.69 L652,1268.64 L653,1268.59 L654,1268.54 L655,1268.49 L656,1268.44 L657,1268.38 L658,1268.33 L659,1268.28 L660,1268.23 L661,1268.18 L662,1268.13 L663,1268.08 L664,1268.03 L665,1267.97 L666,1267.92 L667,1267.87 L668,1267.82 L669,1267.77 L670,1267.71 L671,1267.66 L672,1267.61 L673,1267.55 L674,1267.5 L675,1267.45 L676,1267.39 L677,1267.34 L678,1267.28 L679,1267.23 L680,1267.17 L681,1267.12 L682,1267.06 L683,1267 L684,1266.95 L685,1266.89 L686,1266.83 L687,1266.78 L688,1266.72 L689,1266.66 L690,1266.6 L691,1266.54 L692,1266.48 L693,1266.42 L694,1266.36 L695,1266.3 L696,1266.24 L697,1266.18 L698,1266.12 L699,1266.05 L700,1265.99 L701,1265.93 L702,1265.87 L703,1265.81 L704,1265.74 L705,1265.68 L706,1265.62 L707,1265.55 L708,1265.49 L709,1265.42 L710,1265.36 L711,1265.29 L712,1265.23 L713,1265.16 L714,1265.1 L715,1265.03 L716,1264.97 L717,1264.9 L718,1264.83 L719,1264.76 L720,1264.7 L721,1264.63 L722,1264.56 L723,1264.49 L724,1264.42 L725,1264.36 L726,1264.29 L727,1264.22 L728,1264.15 L729,1264.08 L730,1264.01 L731,1263.94 L732,1263.87 L733,1263.8 L734,1263.73 L735,1263.65 L736,1263.58 L737,1263.51 L738,1263.44 L739,1263.37 L740,1263.29 L741,1263.22 L742,1263.15 L743,1263.07 L744,1263 L745,1262.93 L746,1262.85 L747,1262.78 L748,1262.7 L749,1262.63 L750,1262.55 L751,1262.48 L752,1262.41 L753,1262.33 L754,1262.25" fill="none" stroke="#0000ff" stroke-width="5" stroke-linejoin="round" />
<path d="M352,1262 L353,1262.73 L354,1263.41 L355,1264.11 L356,1264.84 L357,1265.6 L358,1266.39 L359,1267.2 L360,1268.05 L361,1268.95 L362,1269.88 L363,1270.86 L364,1271.88 L365,1272.94 L366,1274.02 L367,1275.13 L368,1276.26 L369,1277.39 L370,1278.54 L371,1279.68 L372,1280.81 L373,1281.94 L374,1283.04 L375,1284.12 L376,1285.17 L377,1286.18 L378,1287.15 L379,1288.08 L380,1288.97 L381,1289.84 L382,1290.71 L383,1291.57 L384,1292.42 L385,1293.28 L386,1294.13 L387,1294.96 L388,1295.78 L389,1296.59 L390,1297.36 L391,1298.11 L392,1298.83 L393,1299.51 L394,1300.15 L395,1300.75 L396,1301.3 L397,1301.79 L398,1302.23 L399,1302.61 L400,1302.95 L401,1303.25 L402,1303.52 L403,1303.77 L404,1304.01 L405,1304.24 L406,1304.46 L407,1304.67 L408,1304.86 L409,1305.05 L410,1305.23 L411,1305.4 L412,1305.55 L413,1305.7 L414,1305.84 L415,1305.97 L416,1306.09 L417,1306.2 L418,1306.31 L419,1306.4 L420,1306.49 L421,1306.57 L422,1306.65 L423,1306.73 L424,1306.79 L425,1306.86 L426,1306.92 L427,1306.98 L428,1307.04 L429,1307.09 L430,1307.14 L431,1307.19 L432,1307.24 L433,1307.29 L434,1307.33 L435,1307.38 L436,1307.42 L437,1307.47 L438,1307.51 L439,1307.56 L440,1307.6 L441,1307.65 L442,1307.7 L443,1307.75 L444,1307.8 L445,1307.86 L446,1307.91 L447,1307.96 L448,1308.01 L449,1308.06 L450,1308.11 L451,1308.16 L452,1308.2 L453,1308.24 L454,1308.28 L455,1308.31 L456,1308.34 L457,1308.36 L458,1308.38 L459,1308.39 L460,1308.39 L461,1308.39 L462,1308.39 L463,1308.38 L464,1308.38 L465,1308.36 L466,1308.35 L467,1308.34 L468,1308.32 L469,1308.3 L470,1308.28 L471,1308.25 L472,1308.23 L473,1308.2 L474,1308.18 L475,1308.15 L476,1308.12 L477,1308.09 L478,1308.06 L479,1308.03 L480,1308 L481,1307.96 L482,1307.92 L483,1307.88 L484,1307.83 L485,1307.78 L486,1307.72 L487,1307.66 L488,1307.59 L489,1307.52 L490,1307.45 L491,1307.37 L492,1307.29 L493,1307.2 L494,1307.11 L495,1307.02 L496,1306.92 L497,1306.82 L498,1306.71 L499,1306.6 L500,1306.48 L501,1306.35 L502,1306.21 L503,1306.04 L504,1305.86 L505,1305.66 L506,1305.45 L507,1305.22 L508,1304.99 L509,1304.74 L510,1304.49 L511,1304.23 L512,1303.97 L513,1303.71 L514,1303.45 L515,1303.2 L516,1302.94 L517,1302.7 L518,1302.46 L519,1302.23 L520,1302.01 L521,1301.79 L522,1301.58 L523,1301.38 L524,1301.17 L525,1300.97 L526,1300.76 L527,1300.56 L528,1300.36 L529,1300.16 L530,1299.97 L531,1299.77 L532,1299.58 L533,1299.38 L534,1299.19 L535,1299 L536,1298.81 L537,1298.62 L538,1298.42 L539,1298.23 L540,1298.04 L541,1297.85 L542,1297.66 L543,1297.47 L544,1297.28 L545,1297.1 L546,1296.92 L547,1296.74 L548,1296.57 L549,1296.4 L550,1296.24 L551,1296.08 L552,1295.93 L553,1295.78 L554,1295.64 L555,1295.5 L556,1295.37 L557,1295.23 L558,1295.1 L559,1294.97 L560,1294.85 L561,1294.73 L562,1294.61 L563,1294.49 L564,1294.38 L565,1294.27 L566,1294.16 L567,1294.05 L568,1293.95 L569,1293.85 L570,1293.75 L571,1293.66 L572,1293.57 L573,1293.47 L574,1293.39 L575,1293.3 L576,1293.21 L577,1293.13 L578,1293.04 L579,1292.96 L580,1292.88 L581,1292.8 L582,1292.72 L583,1292.65 L584,1292.57 L585,1292.49 L586,1292.42 L587,1292.35 L588,1292.27 L589,1292.2 L590,1292.13 L591,1292.06 L592,1291.99 L593,1291.92 L594,1291.85 L595,1291.78 L596,1291.71 L597,1291.64 L598,1291.58 L599,1291.51 L600,1291.44 L601,1291.37 L602,1291.3 L603,1291.24 L604,1291.17 L605,1291.1 L606,1291.03 L607,1290.96 L608,1290.89 L609,1290.81 L610,1290.74 L611,1290.67 L612,1290.59 L613,1290.52 L614,1290.44 L615,1290.36 L616,1290.29 L617,1290.21 L618,1290.14 L619,1290.06 L620,1289.99 L621,1289.92 L622,1289.85 L623,1289.78 L624,1289.71 L625,1289.64 L626,1289.57 L627,1289.51 L628,1289.45 L629,1289.39 L630,1289.33 L631,1289.27 L632,1289.22 L633,1289.17 L634,1289.12 L635,1289.08 L636,1289.03 L637,1289 L638,1288.96 L639,1288.93 L640,1288.9 L641,1288.88 L642,1288.85 L643,1288.83 L644,1288.81 L645,1288.79 L646,1288.77 L647,1288.75 L648,1288.73 L649,1288.71 L650,1288.69 L651,1288.68 L652,1288.66 L653,1288.64 L654,1288.63 L655,1288.61 L656,1288.6 L657,1288.59 L658,1288.57 L659,1288.56 L660,1288.55 L661,1288.53 L662,1288.52 L663,1288.51 L664,1288.5 L665,1288.49 L666,1288.48 L667,1288.46 L668,1288.45 L669,1288.44 L670,1288.43 L671,1288.42 L672,1288.41 L673,1288.4 L674,1288.39 L675,1288.37 L676,1288.36 L677,1288.35 L678,1288.34 L679,1288.32 L680,1288.31 L681,1288.3 L682,1288.28 L683,1288.27 L684,1288.25 L685,1288.24 L686,1288.22 L687,1288.2 L688,1288.19 L689,1288.17 L690,1288.15 L691,1288.13 L692,1288.11 L693,1288.09 L694,1288.07 L695,1288.05 L696,1288.03 L697,1288.01 L698,1287.99 L699,1287.97 L700,1287.94 L701,1287.92 L702,1287.9 L703,1287.88 L704,1287.85 L705,1287.83 L706,1287.81 L707,1287.78 L708,1287.76 L709,1287.73 L710,1287.71 L711,1287.69 L712,1287.66 L713,1287.63 L714,1287.61 L715,1287.58 L716,1287.56 L717,1287.53 L718,1287.5 L719,1287.48 L720,1287.45 L721,1287.42 L722,1287.4 L723,1287.37 L724,1287.34 L725,1287.31 L726,1287.28 L727,1287.25 L728,1287.23 L729,1287.2 L730,1287.17 L731,1287.14 L732,1287.11 L733,1287.08 L734,1287.05 L735,1287.02 L736,1286.99 L737,1286.96 L738,1286.92 L739,1286.89 L740,1286.86 L741,1286.83 L742,1286.8 L743,1286.77 L744,1286.73 L745,1286.7 L746,1286.67 L747,1286.64 L748,1286.6 L749,1286.57 L750,1286.54 L751,1286.5 L752,1286.47 L753,1286.44 L754,1286.4" fill="none" stroke="#00ffff" stroke-width="2.5" stroke-linejoin="round" />
<path d="M340,1253.75 L341,1254.42 L342,1255.04 L343,1255.68 L344,1256.33 L345,1257 L346,1257.68 L347,1258.38 L348,1259.09 L349,1259.8 L350,1260.53 L351,1261.27 L352,1262.01 L353,1262.77 L354,1263.54 L355,1264.32 L356,1265.12 L357,1265.94 L358,1266.78 L359,1267.65 L360,1268.55 L361,1269.49 L362,1270.47 L363,1271.5 L364,1272.56 L365,1273.65 L366,1274.77 L367,1275.91 L368,1277.06 L369,1278.23 L370,1279.4 L371,1280.56 L372,1281.71 L373,1282.85 L374,1283.97 L375,1285.07 L376,1286.13 L377,1287.15 L378,1288.13 L379,1289.06 L380,1289.96 L381,1290.82 L382,1291.66 L383,1292.48 L384,1293.28 L385,1294.08 L386,1294.86 L387,1295.62 L388,1296.37 L389,1297.11 L390,1297.83 L391,1298.53 L392,1299.21 L393,1299.88 L394,1300.52 L395,1301.15 L396,1301.76 L397,1302.34 L398,1302.91 L399,1303.45 L400,1303.98 L401,1304.48 L402,1304.98 L403,1305.46 L404,1305.92 L405,1306.38 L406,1306.82 L407,1307.26 L408,1307.68 L409,1308.09 L410,1308.49 L411,1308.88 L412,1309.26 L413,1309.63 L414,1310 L415,1310.35 L416,1310.7 L417,1311.03 L418,1311.36 L419,1311.68 L420,1311.99 L421,1312.3 L422,1312.6 L423,1312.9 L424,1313.19 L425,1313.48 L426,1313.76 L427,1314.04 L428,1314.31 L429,1314.57 L430,1314.83 L431,1315.08 L432,1315.33 L433,1315.57 L434,1315.79 L435,1316.02 L436,1316.23 L437,1316.43 L438,1316.63 L439,1316.81 L440,1317 L441,1317.17 L442,1317.35 L443,1317.53 L444,1317.71 L445,1317.88 L446,1318.06 L447,1318.23 L448,1318.4 L449,1318.56 L450,1318.72 L451,1318.86 L452,1319 L453,1319.12 L454,1319.24 L455,1319.33 L456,1319.42 L457,1319.48 L458,1319.53 L459,1319.57 L460,1319.58 L461,1319.58 L462,1319.56 L463,1319.54 L464,1319.5 L465,1319.45 L466,1319.4 L467,1319.34 L468,1319.27 L469,1319.19 L470,1319.1 L471,1319.01 L472,1318.91 L473,1318.81 L474,1318.7 L475,1318.59 L476,1318.48 L477,1318.36 L478,1318.24 L479,1318.12 L480,1317.98 L481,1317.84 L482,1317.68 L483,1317.5 L484,1317.29 L485,1317.07 L486,1316.84 L487,1316.58 L488,1316.31 L489,1316.03 L490,1315.74 L491,1315.43 L492,1315.12 L493,1314.8 L494,1314.48 L495,1314.15 L496,1313.82 L497,1313.49 L498,1313.16 L499,1312.83 L500,1312.5 L501,1312.16 L502,1311.82 L503,1311.47 L504,1311.11 L505,1310.74 L506,1310.37 L507,1309.99 L508,1309.6 L509,1309.2 L510,1308.8 L511,1308.39 L512,1307.98 L513,1307.56 L514,1307.14 L515,1306.72 L516,1306.29 L517,1305.86 L518,1305.42 L519,1304.98 L520,1304.52 L521,1304.06 L522,1303.58 L523,1303.1 L524,1302.62 L525,1302.12 L526,1301.63 L527,1301.13 L528,1300.64 L529,1300.14 L530,1299.65 L531,1299.16 L532,1298.67 L533,1298.19 L534,1297.72 L535,1297.25 L536,1296.78 L537,1296.31 L538,1295.84 L539,1295.36 L540,1294.89 L541,1294.41 L542,1293.95 L543,1293.5 L544,1293.05 L545,1292.63 L546,1292.22 L547,1291.83 L548,1291.47 L549,1291.12 L550,1290.79 L551,1290.47 L552,1290.16 L553,1289.86 L554,1289.56 L555,1289.27 L556,1288.99 L557,1288.71 L558,1288.44 L559,1288.18 L560,1287.93 L561,1287.68 L562,1287.44 L563,1287.22 L564,1287 L565,1286.79 L566,1286.6 L567,1286.41 L568,1286.23 L569,1286.07 L570,1285.91 L571,1285.76 L572,1285.62 L573,1285.48 L574,1285.35 L575,1285.22 L576,1285.1 L577,1284.98 L578,1284.86 L579,1284.74 L580,1284.63 L581,1284.52 L582,1284.42 L583,1284.32 L584,1284.22 L585,1284.12 L586,1284.02 L587,1283.93 L588,1283.84 L589,1283.75 L590,1283.66 L591,1283.57 L592,1283.49 L593,1283.4 L594,1283.32 L595,1283.23 L596,1283.15 L597,1283.07 L598,1282.98 L599,1282.9 L600,1282.82 L601,1282.74 L602,1282.65 L603,1282.57 L604,1282.48 L605,1282.4 L606,1282.31 L607,1282.23 L608,1282.14 L609,1282.05 L610,1281.96 L611,1281.87 L612,1281.79 L613,1281.7 L614,1281.61 L615,1281.52 L616,1281.43 L617,1281.35 L618,1281.26 L619,1281.18 L620,1281.09 L621,1281.01 L622,1280.92 L623,1280.84 L624,1280.76 L625,1280.68 L626,1280.61 L627,1280.53 L628,1280.46 L629,1280.39 L630,1280.32 L631,1280.25 L632,1280.18 L633,1280.12 L634,1280.06 L635,1280 L636,1279.95 L637,1279.89 L638,1279.84 L639,1279.8 L640,1279.75 L641,1279.71 L642,1279.67 L643,1279.63 L644,1279.59 L645,1279.56 L646,1279.52 L647,1279.49 L648,1279.46 L649,1279.42 L650,1279.39 L651,1279.36 L652,1279.33 L653,1279.3 L654,1279.28 L655,1279.25 L656,1279.22 L657,1279.2 L658,1279.17 L659,1279.15 L660,1279.12 L661,1279.1 L662,1279.07 L663,1279.05 L664,1279.03 L665,1279 L666,1278.98 L667,1278.96 L668,1278.93 L669,1278.91 L670,1278.89 L671,1278.87 L672,1278.84 L673,1278.82 L674,1278.8 L675,1278.77 L676,1278.75 L677,1278.72 L678,1278.7 L679,1278.67 L680,1278.65 L681,1278.62 L682,1278.59 L683,1278.57 L684,1278.54 L685,1278.51 L686,1278.48 L687,1278.45 L688,1278.42 L689,1278.38 L690,1278.35 L691,1278.31 L692,1278.28 L693,1278.24 L694,1278.21 L695,1278.17 L696,1278.14 L697,1278.1 L698,1278.06 L699,1278.02 L700,1277.98 L701,1277.95 L702,1277.91 L703,1277.87 L704,1277.83 L705,1277.79 L706,1277.75 L707,1277.71 L708,1277.66 L709,1277.62 L710,1277.58 L711,1277.54 L712,1277.5 L713,1277.45 L714,1277.41 L715,1277.37 L716,1277.32 L717,1277.28 L718,1277.23 L719,1277.19 L720,1277.14 L721,1277.09 L722,1277.05 L723,1277 L724,1276.96 L725,1276.91 L726,1276.86 L727,1276.81 L728,1276.76 L729,1276.72 L730,1276.67 L731,1276.62 L732,1276.57 L733,1276.52 L734,1276.47 L735,1276.42 L736,1276.37 L737,1276.31 L738,1276.26 L739,1276.21 L740,1276.16 L741,1276.11 L742,1276.05 L743,1276 L744,1275.95 L745,1275.89 L746,1275.84 L747,1275.79 L748,1275.73 L749,1275.68 L750,1275.62 L751,1275.57 L752,1275.51 L753,1275.46 L754,1275.4" fill="none" stroke="#ffa500" stroke-width="5" stroke-linejoin="round" />
<path d="M352,1262 L353,1262.74 L354,1263.43 L355,1264.13 L356,1264.87 L357,1265.62 L358,1266.4 L359,1267.21 L360,1268.05 L361,1268.92 L362,1269.83 L363,1270.77 L364,1271.75 L365,1272.76 L366,1273.8 L367,1274.85 L368,1275.92 L369,1277 L370,1278.08 L371,1279.16 L372,1280.24 L373,1281.3 L374,1282.34 L375,1283.36 L376,1284.35 L377,1285.31 L378,1286.23 L379,1287.12 L380,1287.97 L381,1288.81 L382,1289.64 L383,1290.46 L384,1291.29 L385,1292.11 L386,1292.92 L387,1293.73 L388,1294.52 L389,1295.29 L390,1296.04 L391,1296.76 L392,1297.45 L393,1298.11 L394,1298.73 L395,1299.31 L396,1299.84 L397,1300.32 L398,1300.75 L399,1301.12 L400,1301.45 L401,1301.75 L402,1302.02 L403,1302.27 L404,1302.51 L405,1302.74 L406,1302.96 L407,1303.17 L408,1303.37 L409,1303.56 L410,1303.74 L411,1303.91 L412,1304.07 L413,1304.21 L414,1304.35 L415,1304.48 L416,1304.6 L417,1304.71 L418,1304.81 L419,1304.91 L420,1304.99 L421,1305.07 L422,1305.14 L423,1305.2 L424,1305.27 L425,1305.32 L426,1305.38 L427,1305.43 L428,1305.48 L429,1305.52 L430,1305.57 L431,1305.61 L432,1305.65 L433,1305.69 L434,1305.74 L435,1305.78 L436,1305.82 L437,1305.86 L438,1305.91 L439,1305.95 L440,1306 L441,1306.06 L442,1306.11 L443,1306.17 L444,1306.23 L445,1306.3 L446,1306.36 L447,1306.43 L448,1306.49 L449,1306.56 L450,1306.62 L451,1306.68 L452,1306.74 L453,1306.79 L454,1306.84 L455,1306.88 L456,1306.92 L457,1306.95 L458,1306.97 L459,1306.98 L460,1306.99 L461,1306.99 L462,1306.99 L463,1306.98 L464,1306.98 L465,1306.96 L466,1306.95 L467,1306.93 L468,1306.92 L469,1306.9 L470,1306.88 L471,1306.85 L472,1306.83 L473,1306.8 L474,1306.78 L475,1306.75 L476,1306.72 L477,1306.69 L478,1306.66 L479,1306.63 L480,1306.6 L481,1306.56 L482,1306.52 L483,1306.48 L484,1306.43 L485,1306.38 L486,1306.33 L487,1306.27 L488,1306.21 L489,1306.14 L490,1306.07 L491,1306 L492,1305.92 L493,1305.84 L494,1305.76 L495,1305.67 L496,1305.58 L497,1305.49 L498,1305.39 L499,1305.29 L500,1305.19 L501,1305.08 L502,1304.95 L503,1304.81 L504,1304.67 L505,1304.51 L506,1304.34 L507,1304.16 L508,1303.97 L509,1303.78 L510,1303.58 L511,1303.38 L512,1303.18 L513,1302.98 L514,1302.77 L515,1302.57 L516,1302.37 L517,1302.17 L518,1301.98 L519,1301.79 L520,1301.61 L521,1301.43 L522,1301.25 L523,1301.08 L524,1300.9 L525,1300.73 L526,1300.56 L527,1300.39 L528,1300.21 L529,1300.04 L530,1299.87 L531,1299.7 L532,1299.52 L533,1299.35 L534,1299.17 L535,1299 L536,1298.82 L537,1298.63 L538,1298.45 L539,1298.26 L540,1298.07 L541,1297.88 L542,1297.69 L543,1297.5 L544,1297.31 L545,1297.12 L546,1296.94 L547,1296.76 L548,1296.58 L549,1296.41 L550,1296.24 L551,1296.08 L552,1295.93 L553,1295.78 L554,1295.64 L555,1295.5 L556,1295.37 L557,1295.23 L558,1295.1 L559,1294.97 L560,1294.85 L561,1294.73 L562,1294.61 L563,1294.49 L564,1294.38 L565,1294.27 L566,1294.16 L567,1294.05 L568,1293.95 L569,1293.85 L570,1293.75 L571,1293.66 L572,1293.57 L573,1293.47 L574,1293.39 L575,1293.3 L576,1293.21 L577,1293.13 L578,1293.04 L579,1292.96 L580,1292.88 L581,1292.8 L582,1292.72 L583,1292.65 L584,1292.57 L585,1292.49 L586,1292.42 L587,1292.35 L588,1292.27 L589,1292.2 L590,1292.13 L591,1292.06 L592,1291.99 L593,1291.92 L594,1291.85 L595,1291.78 L596,1291.71 L597,1291.64 L598,1291.58 L599,1291.51 L600,1291.44 L601,1291.37 L602,1291.3 L603,1291.24 L604,1291.17 L605,1291.1 L606,1291.03 L607,1290.96 L608,1290.89 L609,1290.81 L610,1290.74 L611,1290.67 L612,1290.59 L613,1290.52 L614,1290.44 L615,1290.36 L616,1290.29 L617,1290.21 L618,1290.14 L619,1290.06 L620,1289.99 L621,1289.92 L622,1289.85 L623,1289.78 L624,1289.71 L625,1289.64 L626,1289.57 L627,1289.51 L628,1289.45 L629,1289.39 L630,1289.33 L631,1289.27 L632,1289.22 L633,1289.17 L634,1289.12 L635,1289.08 L636,1289.03 L637,1289 L638,1288.96 L639,1288.93 L640,1288.9 L641,1288.88 L642,1288.85 L643,1288.83 L644,1288.81 L645,1288.79 L646,1288.77 L647,1288.75 L648,1288.73 L649,1288.71 L650,1288.69 L651,1288.68 L652,1288.66 L653,1288.64 L654,1288.63 L655,1288.61 L656,1288.6 L657,1288.59 L658,1288.57 L659,1288.56 L660,1288.55 L661,1288.53 L662,1288.52 L663,1288.51 L664,1288.5 L665,1288.49 L666,1288.48 L667,1288.46 L668,1288.45 L669,1288.44 L670,1288.43 L671,1288.42 L672,1288.41 L673,1288.4 L674,1288.39 L675,1288.37 L676,1288.36 L677,1288.35 L678,1288.34 L679,1288.32 L680,1288.31 L681,1288.3 L682,1288.28 L683,1288.27 L684,1288.25 L685,1288.24 L686,1288.22 L687,1288.2 L688,1288.19 L689,1288.17 L690,1288.15 L691,1288.13 L692,1288.11 L693,1288.09 L694,1288.07 L695,1288.05 L696,1288.03 L697,1288.01 L698,1287.99 L699,1287.97 L700,1287.94 L701,1287.92 L702,1287.9 L703,1287.88 L704,1287.85 L705,1287.83 L706,1287.81 L707,1287.78 L708,1287.76 L709,1287.73 L710,1287.71 L711,1287.69 L712,1287.66 L713,1287.63 L714,1287.61 L715,1287.58 L716,1287.56 L717,1287.53 L718,1287.5 L719,1287.48 L720,1287.45 L721,1287.42 L722,1287.4 L723,1287.37 L724,1287.34 L725,1287.31 L726,1287.28 L727,1287.25 L728,1287.23 L729,1287.2 L730,1287.17 L731,1287.14 L732,1287.11 L733,1287.08 L734,1287.05 L735,1287.02 L736,1286.99 L737,1286.96 L738,1286.92 L739,1286.89 L740,1286.86 L741,1286.83 L742,1286.8 L743,1286.77 L744,1286.73 L745,1286.7 L746,1286.67 L747,1286.64 L748,1286.6 L749,1286.57 L750,1286.54 L751,1286.5 L752,1286.47 L753,1286.44 L754,1286.4" fill="none" stroke="#ffd700" stroke-width="2.5" stroke-linejoin="round" />
<path d="M306.3,1148 C306.67,1150.5 307.63,1158.08 308.5,1163 C309.37,1167.92 310.42,1172.67 311.5,1177.5 C312.58,1182.33 313.75,1187.25 315,1192 C316.25,1196.75 317.58,1201.58 319,1206 C320.42,1210.42 322,1214.75 323.5,1218.5 C325,1222.25 326.42,1225.5 328,1228.5 C329.58,1231.5 331.17,1234 333,1236.5 C334.83,1239 336.92,1241.33 339,1243.5 C341.08,1245.67 344.42,1248.5 345.5,1249.5" fill="none" stroke="#000" stroke-width="6.6" stroke-linejoin="round" stroke-linecap="round"/>
<path d="M292.3,1263.6 L297,1259.5" stroke="#000" stroke-width="7" stroke-linecap="round"/>
<circle cx="305.6" cy="1188" r="2.9" fill="#000"/>
<circle cx="303.4" cy="1209.4" r="2.9" fill="#000"/>
<circle cx="301.6" cy="1224.4" r="2.9" fill="#000"/>
<circle cx="300.6" cy="1236.5" r="2.9" fill="#000"/>
<circle cx="299.5" cy="1248.5" r="2.9" fill="#000"/>
<path d="M124.5,1251.9 C127.42,1252.17 136.46,1253.02 142,1253.5 C147.54,1253.98 153.25,1254.88 157.75,1254.8 C162.25,1254.72 164.5,1253.57 169,1253 C173.5,1252.43 179.12,1251.48 184.75,1251.4 C190.38,1251.32 196,1252.15 202.75,1252.5 C209.5,1252.85 217.75,1253.5 225.25,1253.5 C232.75,1253.5 240.25,1252.28 247.75,1252.5 C255.25,1252.72 262.58,1254.08 270.25,1254.8 C277.92,1255.52 289.83,1256.47 293.75,1256.8 L293.75,1256.8 L296.25,1237.5 L300,1212.5 L302.5,1162.5 L303.9,1112.5 L303.9,1112.5 C304.4,1116.67 305.88,1128.12 306.9,1137.5 C307.92,1146.88 308.65,1159.38 310,1168.75 C311.35,1178.12 313.12,1185.42 315,1193.75 C316.88,1202.08 318.96,1211.25 321.25,1218.75 C323.54,1226.25 325.62,1233.12 328.75,1238.75 C331.88,1244.38 336.46,1248.79 340,1252.5 C343.54,1256.21 346.67,1258.25 350,1261 C353.33,1263.75 355,1265.42 360,1269 C365,1272.58 373.33,1278.5 380,1282.5 C386.67,1286.5 393.33,1290.42 400,1293 C406.67,1295.58 413.33,1296.67 420,1298 C426.67,1299.33 433.33,1300.17 440,1301 C446.67,1301.83 453.33,1302.57 460,1303 C466.67,1303.43 473.33,1303.6 480,1303.6 C486.67,1303.6 493.75,1303.33 500,1303 C506.25,1302.67 511.67,1302.27 517.5,1301.6 C523.33,1300.93 529.17,1299.96 535,1299 C540.83,1298.04 546.67,1296.72 552.5,1295.85 C558.33,1294.97 561.25,1294.54 570,1293.75 C578.75,1292.96 593.33,1291.91 605,1291.1 C616.67,1290.29 625.83,1289.39 640,1288.9 C654.17,1288.41 671,1288.57 690,1288.15 C709,1287.73 743.33,1286.69 754,1286.4" fill="none" stroke="#ff0000" stroke-width="5" stroke-linejoin="bevel"/>
</g>
<path d="M132.89,1338.5 v-2.8 M132.89,1096.5 v2.8 M141.29,1338.5 v-2.8 M141.29,1096.5 v2.8 M149.68,1338.5 v-2.8 M149.68,1096.5 v2.8 M158.07,1338.5 v-2.8 M158.07,1096.5 v2.8 M166.47,1338.5 v-5 M166.47,1096.5 v5 M174.86,1338.5 v-2.8 M174.86,1096.5 v2.8 M183.25,1338.5 v-2.8 M183.25,1096.5 v2.8 M191.65,1338.5 v-2.8 M191.65,1096.5 v2.8 M200.04,1338.5 v-2.8 M200.04,1096.5 v2.8 M208.43,1338.5 v-2.8 M208.43,1096.5 v2.8 M216.83,1338.5 v-2.8 M216.83,1096.5 v2.8 M225.22,1338.5 v-2.8 M225.22,1096.5 v2.8 M233.61,1338.5 v-2.8 M233.61,1096.5 v2.8 M242.01,1338.5 v-2.8 M242.01,1096.5 v2.8 M250.4,1338.5 v-5 M250.4,1096.5 v5 M258.79,1338.5 v-2.8 M258.79,1096.5 v2.8 M267.19,1338.5 v-2.8 M267.19,1096.5 v2.8 M275.58,1338.5 v-2.8 M275.58,1096.5 v2.8 M283.97,1338.5 v-2.8 M283.97,1096.5 v2.8 M292.37,1338.5 v-2.8 M292.37,1096.5 v2.8 M300.76,1338.5 v-2.8 M300.76,1096.5 v2.8 M309.15,1338.5 v-2.8 M309.15,1096.5 v2.8 M317.55,1338.5 v-2.8 M317.55,1096.5 v2.8 M325.94,1338.5 v-2.8 M325.94,1096.5 v2.8 M334.33,1338.5 v-5 M334.33,1096.5 v5 M342.73,1338.5 v-2.8 M342.73,1096.5 v2.8 M351.12,1338.5 v-2.8 M351.12,1096.5 v2.8 M359.51,1338.5 v-2.8 M359.51,1096.5 v2.8 M367.91,1338.5 v-2.8 M367.91,1096.5 v2.8 M376.3,1338.5 v-2.8 M376.3,1096.5 v2.8 M384.69,1338.5 v-2.8 M384.69,1096.5 v2.8 M393.09,1338.5 v-2.8 M393.09,1096.5 v2.8 M401.48,1338.5 v-2.8 M401.48,1096.5 v2.8 M409.87,1338.5 v-2.8 M409.87,1096.5 v2.8 M418.27,1338.5 v-5 M418.27,1096.5 v5 M426.66,1338.5 v-2.8 M426.66,1096.5 v2.8 M435.05,1338.5 v-2.8 M435.05,1096.5 v2.8 M443.45,1338.5 v-2.8 M443.45,1096.5 v2.8 M451.84,1338.5 v-2.8 M451.84,1096.5 v2.8 M460.23,1338.5 v-2.8 M460.23,1096.5 v2.8 M468.63,1338.5 v-2.8 M468.63,1096.5 v2.8 M477.02,1338.5 v-2.8 M477.02,1096.5 v2.8 M485.41,1338.5 v-2.8 M485.41,1096.5 v2.8 M493.81,1338.5 v-2.8 M493.81,1096.5 v2.8 M502.2,1338.5 v-5 M502.2,1096.5 v5 M510.59,1338.5 v-2.8 M510.59,1096.5 v2.8 M518.99,1338.5 v-2.8 M518.99,1096.5 v2.8 M527.38,1338.5 v-2.8 M527.38,1096.5 v2.8 M535.77,1338.5 v-2.8 M535.77,1096.5 v2.8 M544.17,1338.5 v-2.8 M544.17,1096.5 v2.8 M552.56,1338.5 v-2.8 M552.56,1096.5 v2.8 M560.95,1338.5 v-2.8 M560.95,1096.5 v2.8 M569.35,1338.5 v-2.8 M569.35,1096.5 v2.8 M577.74,1338.5 v-2.8 M577.74,1096.5 v2.8 M586.13,1338.5 v-5 M586.13,1096.5 v5 M594.53,1338.5 v-2.8 M594.53,1096.5 v2.8 M602.92,1338.5 v-2.8 M602.92,1096.5 v2.8 M611.31,1338.5 v-2.8 M611.31,1096.5 v2.8 M619.71,1338.5 v-2.8 M619.71,1096.5 v2.8 M628.1,1338.5 v-2.8 M628.1,1096.5 v2.8 M636.49,1338.5 v-2.8 M636.49,1096.5 v2.8 M644.89,1338.5 v-2.8 M644.89,1096.5 v2.8 M653.28,1338.5 v-2.8 M653.28,1096.5 v2.8 M661.67,1338.5 v-2.8 M661.67,1096.5 v2.8 M670.07,1338.5 v-5 M670.07,1096.5 v5 M678.46,1338.5 v-2.8 M678.46,1096.5 v2.8 M686.85,1338.5 v-2.8 M686.85,1096.5 v2.8 M695.25,1338.5 v-2.8 M695.25,1096.5 v2.8 M703.64,1338.5 v-2.8 M703.64,1096.5 v2.8 M712.03,1338.5 v-2.8 M712.03,1096.5 v2.8 M720.43,1338.5 v-2.8 M720.43,1096.5 v2.8 M728.82,1338.5 v-2.8 M728.82,1096.5 v2.8 M737.21,1338.5 v-2.8 M737.21,1096.5 v2.8 M745.61,1338.5 v-2.8 M745.61,1096.5 v2.8 M124.5,1322.02 h5 M754,1322.02 h-5 M124.5,1289.76 h5 M754,1289.76 h-5 M124.5,1257.5 h5 M754,1257.5 h-5 M124.5,1225.24 h5 M754,1225.24 h-5 M124.5,1192.98 h5 M754,1192.98 h-5 M124.5,1160.72 h5 M754,1160.72 h-5 M124.5,1128.46 h5 M754,1128.46 h-5 M124.5,1305.89 h2.8 M754,1305.89 h-2.8 M124.5,1273.63 h2.8 M754,1273.63 h-2.8 M124.5,1241.37 h2.8 M754,1241.37 h-2.8 M124.5,1209.11 h2.8 M754,1209.11 h-2.8 M124.5,1176.85 h2.8 M754,1176.85 h-2.8 M124.5,1144.59 h2.8 M754,1144.59 h-2.8 M124.5,1112.33 h2.8 M754,1112.33 h-2.8" stroke="#000" stroke-width="1.1" fill="none"/>
<rect x="124.5" y="1096.5" width="629.5" height="242" fill="none" stroke="#111" stroke-width="1.2"/>
<text transform="translate(110.5,1104.9) scale(0.97,1)" font-size="24.3" text-anchor="end" >1000</text>
<text transform="translate(110.5,1137.16) scale(0.97,1)" font-size="24.3" text-anchor="end" >800</text>
<text transform="translate(110.5,1169.42) scale(0.97,1)" font-size="24.3" text-anchor="end" >600</text>
<text transform="translate(110.5,1201.68) scale(0.97,1)" font-size="24.3" text-anchor="end" >400</text>
<text transform="translate(110.5,1233.94) scale(0.97,1)" font-size="24.3" text-anchor="end" >200</text>
<text transform="translate(110.5,1266.2) scale(0.97,1)" font-size="24.3" text-anchor="end" >0</text>
<text transform="translate(110.5,1298.46) scale(0.97,1)" font-size="24.3" text-anchor="end" >-200</text>
<text transform="translate(110.5,1330.72) scale(0.97,1)" font-size="24.3" text-anchor="end" >-400</text>
<text transform="translate(31.4,1217.3) rotate(-90) scale(0.96,1)" font-size="32.8" text-anchor="middle">atm <tspan font-family="Liberation Serif">Δ</tspan><tspan dy="-17" font-size="19.5">14</tspan><tspan dy="17">C [</tspan><tspan dy="-17" font-size="19.5">o</tspan><tspan dy="17">/</tspan><tspan dy="5" font-size="19.5">oo</tspan><tspan dy="-5">]</tspan></text>
<text transform="translate(129.28,1144.9) scale(0.91,1)" font-size="51.2" text-anchor="start" >E</text>
<clipPath id="clipF"><rect x="124.5" y="1363" width="629.5" height="242.5"/></clipPath>
<g clip-path="url(#clipF)">
<path d="M357,1478.5 L358,1479.06 L359,1479.55 L360,1479.99 L361,1480.37 L362,1480.72 L363,1481.04 L364,1481.32 L365,1481.53 L366,1481.64 L367,1481.64 L368,1481.53 L369,1481.31 L370,1481.03 L371,1480.71 L372,1480.37 L373,1480.01 L374,1479.6 L375,1479.15 L376,1478.65 L377,1478.12 L378,1477.57 L379,1477.03 L380,1476.5 L381,1475.98 L382,1475.46 L383,1474.93 L384,1474.4 L385,1473.86 L386,1473.32 L387,1472.77 L388,1472.22 L389,1471.67 L390,1471.11 L391,1470.55 L392,1469.98 L393,1469.41 L394,1468.84 L395,1468.25 L395,1468.25 L396,1467.64 L397,1467.07 L398,1466.52 L399,1465.99 L400,1465.48 L401,1464.99 L402,1464.51 L403,1464.03 L404,1463.56 L405,1463.1 L406,1462.64 L407,1462.18 L408,1461.72 L409,1461.26 L410,1460.81 L411,1460.35 L412,1459.89 L413,1459.43 L414,1458.97 L415,1458.52 L416,1458.06 L417,1457.61 L418,1457.15 L419,1456.7 L420,1456.26 L421,1455.81 L422,1455.37 L423,1454.93 L424,1454.49 L425,1454.05 L426,1453.62 L427,1453.19 L428,1452.76 L429,1452.33 L430,1451.91 L431,1451.49 L432,1451.07 L433,1450.66 L434,1450.25 L435,1449.84 L436,1449.44 L437,1449.04 L438,1448.65 L439,1448.26 L440,1447.88 L441,1447.49 L442,1447.12 L443,1446.75 L444,1446.38 L445,1446.01 L446,1445.65 L447,1445.29 L448,1444.94 L449,1444.58 L450,1444.23 L451,1443.89 L452,1443.54 L453,1443.2 L454,1442.86 L455,1442.51 L456,1442.18 L457,1441.84 L458,1441.5 L459,1441.17 L460,1440.83 L461,1440.5 L462,1440.17 L463,1439.84 L464,1439.51 L465,1439.19 L466,1438.86 L467,1438.54 L468,1438.22 L469,1437.9 L470,1437.59 L471,1437.28 L472,1436.97 L473,1436.66 L474,1436.35 L475,1436.05 L476,1435.75 L477,1435.45 L478,1435.16 L479,1434.86 L480,1434.57 L481,1434.28 L482,1433.99 L483,1433.71 L484,1433.42 L485,1433.14 L486,1432.86 L487,1432.58 L488,1432.3 L489,1432.02 L490,1431.74 L491,1431.47 L492,1431.19 L493,1430.91 L494,1430.63 L495,1430.36 L496,1430.08 L497,1429.8 L498,1429.52 L499,1429.25 L500,1428.97 L501,1428.69 L502,1428.41 L503,1428.13 L504,1427.85 L505,1427.56 L506,1427.28 L507,1427 L508,1426.72 L509,1426.43 L510,1426.15 L511,1425.87 L512,1425.58 L513,1425.3 L514,1425.01 L515,1424.73 L516,1424.45 L517,1424.17 L518,1423.88 L519,1423.6 L520,1423.32 L521,1423.04 L522,1422.76 L523,1422.48 L524,1422.2 L525,1421.92 L526,1421.65 L527,1421.37 L528,1421.09 L529,1420.82 L530,1420.54 L531,1420.27 L532,1419.99 L533,1419.72 L534,1419.44 L535,1419.17 L536,1418.9 L537,1418.63 L538,1418.36 L539,1418.08 L540,1417.81 L541,1417.54 L542,1417.28 L543,1417.01 L544,1416.74 L545,1416.47 L546,1416.2 L547,1415.94 L548,1415.67 L549,1415.4 L550,1415.14 L551,1414.87 L552,1414.61 L553,1414.35 L554,1414.09 L555,1413.82 L556,1413.56 L557,1413.3 L558,1413.04 L559,1412.78 L560,1412.53 L561,1412.27 L562,1412.01 L563,1411.76 L564,1411.5 L565,1411.25 L566,1411 L567,1410.74 L568,1410.49 L569,1410.24 L570,1409.99 L571,1409.74 L572,1409.49 L573,1409.24 L574,1408.99 L575,1408.74 L576,1408.5 L577,1408.25 L578,1408 L579,1407.76 L580,1407.51 L581,1407.27 L582,1407.02 L583,1406.78 L584,1406.54 L585,1406.29 L586,1406.05 L587,1405.81 L588,1405.57 L589,1405.33 L590,1405.09 L591,1404.85 L592,1404.61 L593,1404.37 L594,1404.13 L595,1403.9 L596,1403.66 L597,1403.43 L598,1403.19 L599,1402.96 L600,1402.72 L601,1402.49 L602,1402.26 L603,1402.03 L604,1401.8 L605,1401.57 L606,1401.34 L607,1401.11 L608,1400.89 L609,1400.66 L610,1400.44 L611,1400.21 L612,1399.99 L613,1399.76 L614,1399.54 L615,1399.32 L616,1399.1 L617,1398.88 L618,1398.66 L619,1398.44 L620,1398.23 L621,1398.01 L622,1397.79 L623,1397.58 L624,1397.37 L625,1397.15 L626,1396.94 L627,1396.73 L628,1396.52 L629,1396.31 L630,1396.1 L631,1395.89 L632,1395.68 L633,1395.47 L634,1395.26 L635,1395.05 L636,1394.85 L637,1394.64 L638,1394.44 L639,1394.23 L640,1394.03 L641,1393.82 L642,1393.62 L643,1393.42 L644,1393.22 L645,1393.01 L646,1392.81 L647,1392.61 L648,1392.41 L649,1392.21 L650,1392.01 L651,1391.81 L652,1391.61 L653,1391.41 L654,1391.21 L655,1391.01 L656,1390.81 L657,1390.61 L658,1390.42 L659,1390.22 L660,1390.02 L661,1389.82 L662,1389.62 L663,1389.43 L664,1389.23 L665,1389.03 L666,1388.84 L667,1388.64 L668,1388.45 L669,1388.25 L670,1388.05 L671,1387.86 L672,1387.67 L673,1387.47 L674,1387.28 L675,1387.08 L676,1386.89 L677,1386.7 L678,1386.51 L679,1386.31 L680,1386.12 L681,1385.93 L682,1385.74 L683,1385.55 L684,1385.36 L685,1385.17 L686,1384.99 L687,1384.8 L688,1384.61 L689,1384.42 L690,1384.24 L691,1384.05 L692,1383.87 L693,1383.68 L694,1383.5 L695,1383.32 L696,1383.13 L697,1382.95 L698,1382.77 L699,1382.59 L700,1382.41 L701,1382.23 L702,1382.05 L703,1381.87 L704,1381.7 L705,1381.52 L706,1381.34 L707,1381.17 L708,1380.99 L709,1380.82 L710,1380.64 L711,1380.47 L712,1380.3 L713,1380.13 L714,1379.95 L715,1379.78 L716,1379.61 L717,1379.44 L718,1379.27 L719,1379.1 L720,1378.94 L721,1378.77 L722,1378.6 L723,1378.43 L724,1378.27 L725,1378.1 L726,1377.94 L727,1377.77 L728,1377.61 L729,1377.44 L730,1377.28 L731,1377.12 L732,1376.95 L733,1376.79 L734,1376.63 L735,1376.47 L736,1376.31 L737,1376.16 L738,1376 L739,1375.84 L740,1375.69 L741,1375.53 L742,1375.38 L743,1375.23 L744,1375.08 L745,1374.93 L746,1374.78 L747,1374.63 L748,1374.48 L749,1374.32 L750,1374.17 L751,1374.01 L752,1373.85 L753,1373.68 L754,1373.5" fill="none" stroke="#0000ff" stroke-width="5" stroke-linejoin="round" />
<path d="M357,1478 L357.98,1478.47 L358.96,1478.9 L359.94,1479.29 L360.92,1479.64 L361.9,1479.97 L362.88,1480.29 L363.86,1480.58 L364.84,1480.8 L365.82,1480.93 L366.8,1480.95 L367.78,1480.86 L368.76,1480.67 L369.74,1480.41 L370.72,1480.1 L371.7,1479.77 L372.68,1479.42 L373.66,1479.03 L374.64,1478.57 L375.62,1478.07 L376.61,1477.53 L377.59,1476.99 L378.57,1476.47 L379.55,1475.98 L380.53,1475.53 L381.51,1475.12 L382.49,1474.72 L383.47,1474.34 L384.45,1473.96 L385.43,1473.58 L386.41,1473.19 L387.39,1472.79 L388.37,1472.38 L389.35,1471.96 L390.33,1471.53 L391.31,1471.09 L392.29,1470.65 L393.27,1470.21 L394.25,1469.75 L394.25,1469.75 L395.25,1469.4 L396.25,1469.07 L397.25,1468.75 L398.25,1468.45 L399.25,1468.16 L400.25,1467.87 L401.25,1467.6 L402.24,1467.33 L403.24,1467.06 L404.24,1466.79 L405.24,1466.53 L406.24,1466.27 L407.24,1466.01 L408.24,1465.75 L409.24,1465.49 L410.24,1465.24 L411.24,1464.98 L412.24,1464.72 L413.24,1464.46 L414.24,1464.21 L415.24,1463.95 L416.23,1463.7 L417.23,1463.45 L418.23,1463.21 L419.23,1462.96 L420.23,1462.72 L421.23,1462.49 L422.23,1462.25 L423.23,1462.02 L424.23,1461.79 L425.23,1461.57 L426.23,1461.35 L427.23,1461.13 L428.23,1460.91 L429.23,1460.69 L430.23,1460.48 L431.22,1460.27 L432.22,1460.06 L433.22,1459.86 L434.22,1459.65 L435.22,1459.45 L436.22,1459.25 L437.22,1459.05 L438.22,1458.84 L439.22,1458.64 L440.22,1458.44 L441.22,1458.24 L442.22,1458.05 L443.22,1457.85 L444.22,1457.65 L445.21,1457.45 L446.21,1457.25 L447.21,1457.05 L448.21,1456.86 L449.21,1456.66 L450.21,1456.47 L451.21,1456.27 L452.21,1456.08 L453.21,1455.89 L454.21,1455.69 L455.21,1455.5 L456.21,1455.32 L457.21,1455.13 L458.21,1454.94 L459.2,1454.76 L460.2,1454.57 L461.2,1454.39 L462.2,1454.21 L463.2,1454.04 L464.2,1453.86 L465.2,1453.69 L466.2,1453.51 L467.2,1453.34 L468.2,1453.17 L469.2,1453.01 L470.2,1452.84 L471.2,1452.67 L472.2,1452.51 L473.2,1452.35 L474.19,1452.19 L475.19,1452.03 L476.19,1451.86 L477.19,1451.7 L478.19,1451.54 L479.19,1451.38 L480.19,1451.22 L481.19,1451.05 L482.19,1450.89 L483.19,1450.72 L484.19,1450.56 L485.19,1450.39 L486.19,1450.22 L487.19,1450.05 L488.18,1449.88 L489.18,1449.71 L490.18,1449.54 L491.18,1449.36 L492.18,1449.19 L493.18,1449.01 L494.18,1448.83 L495.18,1448.65 L496.18,1448.48 L497.18,1448.3 L498.18,1448.12 L499.18,1447.93 L500.18,1447.75 L501.18,1447.57 L502.18,1447.39 L503.17,1447.2 L504.17,1447.02 L505.17,1446.83 L506.17,1446.64 L507.17,1446.46 L508.17,1446.27 L509.17,1446.08 L510.17,1445.89 L511.17,1445.69 L512.17,1445.5 L513.17,1445.31 L514.17,1445.11 L515.17,1444.91 L516.17,1444.72 L517.16,1444.52 L518.16,1444.31 L519.16,1444.11 L520.16,1443.91 L521.16,1443.7 L522.16,1443.49 L523.16,1443.28 L524.16,1443.07 L525.16,1442.86 L526.16,1442.65 L527.16,1442.43 L528.16,1442.21 L529.16,1442 L530.16,1441.78 L531.15,1441.56 L532.15,1441.34 L533.15,1441.12 L534.15,1440.9 L535.15,1440.68 L536.15,1440.46 L537.15,1440.24 L538.15,1440.02 L539.15,1439.8 L540.15,1439.57 L541.15,1439.35 L542.15,1439.13 L543.15,1438.91 L544.15,1438.69 L545.15,1438.47 L546.14,1438.25 L547.14,1438.03 L548.14,1437.81 L549.14,1437.59 L550.14,1437.37 L551.14,1437.15 L552.14,1436.93 L553.14,1436.71 L554.14,1436.49 L555.14,1436.27 L556.14,1436.05 L557.14,1435.84 L558.14,1435.62 L559.14,1435.41 L560.13,1435.19 L561.13,1434.97 L562.13,1434.76 L563.13,1434.55 L564.13,1434.33 L565.13,1434.12 L566.13,1433.91 L567.13,1433.7 L568.13,1433.49 L569.13,1433.27 L570.13,1433.06 L571.13,1432.86 L572.13,1432.65 L573.13,1432.44 L574.12,1432.23 L575.12,1432.02 L576.12,1431.82 L577.12,1431.61 L578.12,1431.4 L579.12,1431.2 L580.12,1430.99 L581.12,1430.79 L582.12,1430.59 L583.12,1430.38 L584.12,1430.18 L585.12,1429.98 L586.12,1429.78 L587.12,1429.57 L588.12,1429.37 L589.11,1429.17 L590.11,1428.97 L591.11,1428.77 L592.11,1428.57 L593.11,1428.37 L594.11,1428.17 L595.11,1427.97 L596.11,1427.77 L597.11,1427.57 L598.11,1427.37 L599.11,1427.17 L600.11,1426.97 L601.11,1426.77 L602.11,1426.57 L603.1,1426.37 L604.1,1426.17 L605.1,1425.97 L606.1,1425.77 L607.1,1425.57 L608.1,1425.37 L609.1,1425.17 L610.1,1424.97 L611.1,1424.77 L612.1,1424.57 L613.1,1424.38 L614.1,1424.18 L615.1,1423.98 L616.1,1423.78 L617.1,1423.59 L618.09,1423.39 L619.09,1423.2 L620.09,1423 L621.09,1422.81 L622.09,1422.61 L623.09,1422.42 L624.09,1422.23 L625.09,1422.04 L626.09,1421.85 L627.09,1421.66 L628.09,1421.47 L629.09,1421.28 L630.09,1421.09 L631.09,1420.9 L632.08,1420.72 L633.08,1420.53 L634.08,1420.34 L635.08,1420.16 L636.08,1419.98 L637.08,1419.79 L638.08,1419.61 L639.08,1419.43 L640.08,1419.25 L641.08,1419.08 L642.08,1418.9 L643.08,1418.72 L644.08,1418.55 L645.08,1418.38 L646.08,1418.21 L647.07,1418.03 L648.07,1417.87 L649.07,1417.7 L650.07,1417.53 L651.07,1417.37 L652.07,1417.2 L653.07,1417.04 L654.07,1416.88 L655.07,1416.72 L656.07,1416.56 L657.07,1416.4 L658.07,1416.24 L659.07,1416.09 L660.07,1415.93 L661.06,1415.78 L662.06,1415.62 L663.06,1415.47 L664.06,1415.32 L665.06,1415.17 L666.06,1415.02 L667.06,1414.87 L668.06,1414.72 L669.06,1414.57 L670.06,1414.43 L671.06,1414.28 L672.06,1414.13 L673.06,1413.99 L674.06,1413.84 L675.05,1413.7 L676.05,1413.55 L677.05,1413.41 L678.05,1413.27 L679.05,1413.13 L680.05,1412.98 L681.05,1412.84 L682.05,1412.7 L683.05,1412.56 L684.05,1412.42 L685.05,1412.28 L686.05,1412.14 L687.05,1412 L688.05,1411.86 L689.05,1411.72 L690.04,1411.58 L691.04,1411.44 L692.04,1411.3 L693.04,1411.16 L694.04,1411.02 L695.04,1410.88 L696.04,1410.74 L697.04,1410.61 L698.04,1410.47 L699.04,1410.33 L700.04,1410.19 L701.04,1410.05 L702.04,1409.91 L703.04,1409.77 L704.03,1409.63 L705.03,1409.5 L706.03,1409.36 L707.03,1409.22 L708.03,1409.08 L709.03,1408.94 L710.03,1408.8 L711.03,1408.67 L712.03,1408.53 L713.03,1408.39 L714.03,1408.25 L715.03,1408.12 L716.03,1407.98 L717.03,1407.84 L718.02,1407.7 L719.02,1407.57 L720.02,1407.43 L721.02,1407.29 L722.02,1407.16 L723.02,1407.02 L724.02,1406.89 L725.02,1406.75 L726.02,1406.61 L727.02,1406.48 L728.02,1406.34 L729.02,1406.21 L730.02,1406.08 L731.02,1405.94 L732.02,1405.81 L733.01,1405.67 L734.01,1405.54 L735.01,1405.41 L736.01,1405.28 L737.01,1405.14 L738.01,1405.01 L739.01,1404.88 L740.01,1404.75 L741.01,1404.62 L742.01,1404.5 L743.01,1404.37 L744.01,1404.24 L745.01,1404.12 L746.01,1403.99 L747,1403.86 L748,1403.73 L749,1403.6 L750,1403.47 L751,1403.34 L752,1403.2 L753,1403.05 L754,1402.9" fill="none" stroke="#ffa500" stroke-width="5" stroke-linejoin="round" />
<path d="M357,1478 L357.98,1478.47 L358.96,1478.9 L359.94,1479.29 L360.92,1479.64 L361.9,1479.97 L362.88,1480.29 L363.86,1480.58 L364.84,1480.8 L365.82,1480.93 L366.8,1480.95 L367.78,1480.86 L368.76,1480.67 L369.74,1480.41 L370.72,1480.1 L371.7,1479.77 L372.68,1479.42 L373.66,1479.03 L374.64,1478.57 L375.62,1478.07 L376.61,1477.53 L377.59,1476.99 L378.57,1476.47 L379.55,1475.98 L380.53,1475.53 L381.51,1475.12 L382.49,1474.72 L383.47,1474.34 L384.45,1473.96 L385.43,1473.58 L386.41,1473.19 L387.39,1472.79 L388.37,1472.38 L389.35,1471.96 L390.33,1471.53 L391.31,1471.09 L392.29,1470.65 L393.27,1470.21 L394.25,1469.75 L394.25,1471 L395.25,1472.72 L396.25,1474.39 L397.25,1476.03 L398.25,1477.68 L399.25,1479.35 L400.25,1481.08 L401.25,1482.84 L402.24,1484.63 L403.24,1486.4 L404.24,1488.18 L405.24,1489.95 L406.24,1491.7 L407.24,1493.42 L408.24,1495.09 L409.24,1496.71 L410.24,1498.28 L411.24,1499.78 L412.24,1501.23 L413.24,1502.63 L414.24,1503.97 L415.24,1505.27 L416.23,1506.52 L417.23,1507.74 L418.23,1508.94 L419.23,1510.11 L420.23,1511.26 L421.23,1512.39 L422.23,1513.52 L423.23,1514.65 L424.23,1515.76 L425.23,1516.88 L426.23,1518 L427.23,1519.12 L428.23,1520.24 L429.23,1521.35 L430.23,1522.47 L431.22,1523.58 L432.22,1524.69 L433.22,1525.8 L434.22,1526.9 L435.22,1527.99 L436.22,1529.07 L437.22,1530.14 L438.22,1531.2 L439.22,1532.24 L440.22,1533.27 L441.22,1534.29 L442.22,1535.29 L443.22,1536.27 L444.22,1537.23 L445.21,1538.17 L446.21,1539.1 L447.21,1540.01 L448.21,1540.91 L449.21,1541.79 L450.21,1542.66 L451.21,1543.51 L452.21,1544.35 L453.21,1545.18 L454.21,1546 L455.21,1546.81 L456.21,1547.6 L457.21,1548.38 L458.21,1549.15 L459.2,1549.91 L460.2,1550.65 L461.2,1551.37 L462.2,1552.09 L463.2,1552.78 L464.2,1553.46 L465.2,1554.13 L466.2,1554.77 L467.2,1555.41 L468.2,1556.02 L469.2,1556.62 L470.2,1557.21 L471.2,1557.79 L472.2,1558.36 L473.2,1558.91 L474.19,1559.45 L475.19,1559.99 L476.19,1560.51 L477.19,1561.03 L478.19,1561.53 L479.19,1562.02 L480.19,1562.51 L481.19,1562.98 L482.19,1563.43 L483.19,1563.88 L484.19,1564.31 L485.19,1564.72 L486.19,1565.12 L487.19,1565.51 L488.18,1565.88 L489.18,1566.23 L490.18,1566.57 L491.18,1566.9 L492.18,1567.21 L493.18,1567.51 L494.18,1567.8 L495.18,1568.07 L496.18,1568.34 L497.18,1568.61 L498.18,1568.86 L499.18,1569.11 L500.18,1569.35 L501.18,1569.58 L502.18,1569.8 L503.17,1570.02 L504.17,1570.23 L505.17,1570.42 L506.17,1570.61 L507.17,1570.79 L508.17,1570.96 L509.17,1571.12 L510.17,1571.27 L511.17,1571.4 L512.17,1571.53 L513.17,1571.65 L514.17,1571.76 L515.17,1571.86 L516.17,1571.95 L517.16,1572.04 L518.16,1572.12 L519.16,1572.19 L520.16,1572.27 L521.16,1572.34 L522.16,1572.4 L523.16,1572.47 L524.16,1572.53 L525.16,1572.58 L526.16,1572.64 L527.16,1572.69 L528.16,1572.74 L529.16,1572.78 L530.16,1572.82 L531.15,1572.85 L532.15,1572.88 L533.15,1572.91 L534.15,1572.93 L535.15,1572.94 L536.15,1572.96 L537.15,1572.96 L538.15,1572.97 L539.15,1572.97 L540.15,1572.97 L541.15,1572.96 L542.15,1572.95 L543.15,1572.94 L544.15,1572.92 L545.15,1572.91 L546.14,1572.89 L547.14,1572.87 L548.14,1572.85 L549.14,1572.83 L550.14,1572.81 L551.14,1572.79 L552.14,1572.77 L553.14,1572.75 L554.14,1572.72 L555.14,1572.7 L556.14,1572.68 L557.14,1572.66 L558.14,1572.64 L559.14,1572.62 L560.13,1572.6 L561.13,1572.59 L562.13,1572.57 L563.13,1572.55 L564.13,1572.54 L565.13,1572.52 L566.13,1572.5 L567.13,1572.49 L568.13,1572.47 L569.13,1572.46 L570.13,1572.44 L571.13,1572.43 L572.13,1572.41 L573.13,1572.4 L574.12,1572.38 L575.12,1572.37 L576.12,1572.36 L577.12,1572.34 L578.12,1572.33 L579.12,1572.31 L580.12,1572.3 L581.12,1572.28 L582.12,1572.27 L583.12,1572.25 L584.12,1572.24 L585.12,1572.23 L586.12,1572.21 L587.12,1572.2 L588.12,1572.18 L589.11,1572.17 L590.11,1572.15 L591.11,1572.14 L592.11,1572.12 L593.11,1572.11 L594.11,1572.09 L595.11,1572.08 L596.11,1572.06 L597.11,1572.05 L598.11,1572.03 L599.11,1572.01 L600.11,1572 L601.11,1571.98 L602.11,1571.97 L603.1,1571.95 L604.1,1571.93 L605.1,1571.92 L606.1,1571.9 L607.1,1571.88 L608.1,1571.87 L609.1,1571.85 L610.1,1571.83 L611.1,1571.82 L612.1,1571.8 L613.1,1571.78 L614.1,1571.77 L615.1,1571.75 L616.1,1571.73 L617.1,1571.72 L618.09,1571.7 L619.09,1571.68 L620.09,1571.67 L621.09,1571.65 L622.09,1571.63 L623.09,1571.61 L624.09,1571.6 L625.09,1571.58 L626.09,1571.56 L627.09,1571.54 L628.09,1571.53 L629.09,1571.51 L630.09,1571.49 L631.09,1571.47 L632.08,1571.45 L633.08,1571.43 L634.08,1571.42 L635.08,1571.4 L636.08,1571.38 L637.08,1571.36 L638.08,1571.34 L639.08,1571.32 L640.08,1571.3 L641.08,1571.28 L642.08,1571.26 L643.08,1571.24 L644.08,1571.22 L645.08,1571.2 L646.08,1571.18 L647.07,1571.16 L648.07,1571.14 L649.07,1571.12 L650.07,1571.1 L651.07,1571.07 L652.07,1571.05 L653.07,1571.03 L654.07,1571.01 L655.07,1570.98 L656.07,1570.96 L657.07,1570.94 L658.07,1570.91 L659.07,1570.89 L660.07,1570.86 L661.06,1570.84 L662.06,1570.81 L663.06,1570.79 L664.06,1570.76 L665.06,1570.74 L666.06,1570.71 L667.06,1570.68 L668.06,1570.66 L669.06,1570.63 L670.06,1570.6 L671.06,1570.57 L672.06,1570.55 L673.06,1570.52 L674.06,1570.49 L675.05,1570.47 L676.05,1570.44 L677.05,1570.41 L678.05,1570.38 L679.05,1570.35 L680.05,1570.33 L681.05,1570.3 L682.05,1570.27 L683.05,1570.24 L684.05,1570.22 L685.05,1570.19 L686.05,1570.16 L687.05,1570.14 L688.05,1570.11 L689.05,1570.08 L690.04,1570.06 L691.04,1570.03 L692.04,1570 L693.04,1569.98 L694.04,1569.95 L695.04,1569.92 L696.04,1569.9 L697.04,1569.87 L698.04,1569.85 L699.04,1569.83 L700.04,1569.8 L701.04,1569.78 L702.04,1569.75 L703.04,1569.73 L704.03,1569.7 L705.03,1569.68 L706.03,1569.66 L707.03,1569.63 L708.03,1569.61 L709.03,1569.59 L710.03,1569.56 L711.03,1569.54 L712.03,1569.52 L713.03,1569.49 L714.03,1569.47 L715.03,1569.45 L716.03,1569.42 L717.03,1569.4 L718.02,1569.38 L719.02,1569.36 L720.02,1569.33 L721.02,1569.31 L722.02,1569.29 L723.02,1569.26 L724.02,1569.24 L725.02,1569.22 L726.02,1569.2 L727.02,1569.17 L728.02,1569.15 L729.02,1569.13 L730.02,1569.11 L731.02,1569.09 L732.02,1569.06 L733.01,1569.04 L734.01,1569.02 L735.01,1569 L736.01,1568.98 L737.01,1568.96 L738.01,1568.93 L739.01,1568.91 L740.01,1568.89 L741.01,1568.87 L742.01,1568.85 L743.01,1568.83 L744.01,1568.81 L745.01,1568.79 L746.01,1568.77 L747,1568.75 L748,1568.73 L749,1568.71 L750,1568.69 L751,1568.67 L752,1568.64 L753,1568.62 L754,1568.6" fill="none" stroke="#00ffff" stroke-width="2.5" stroke-linejoin="round" />
<path d="M357,1478 L357.98,1478.47 L358.96,1478.9 L359.94,1479.29 L360.92,1479.64 L361.9,1479.97 L362.88,1480.29 L363.86,1480.58 L364.84,1480.8 L365.82,1480.93 L366.8,1480.95 L367.78,1480.86 L368.76,1480.67 L369.74,1480.41 L370.72,1480.1 L371.7,1479.77 L372.68,1479.42 L373.66,1479.03 L374.64,1478.57 L375.62,1478.07 L376.61,1477.53 L377.59,1476.99 L378.57,1476.47 L379.55,1475.98 L380.53,1475.53 L381.51,1475.12 L382.49,1474.72 L383.47,1474.34 L384.45,1473.96 L385.43,1473.58 L386.41,1473.19 L387.39,1472.79 L388.37,1472.38 L389.35,1471.96 L390.33,1471.53 L391.31,1471.09 L392.29,1470.65 L393.27,1470.21 L394.25,1469.75 L394.25,1470.5 L395.25,1472.15 L396.25,1473.74 L397.25,1475.31 L398.25,1476.88 L399.25,1478.47 L400.25,1480.11 L401.25,1481.79 L402.24,1483.5 L403.24,1485.19 L404.24,1486.89 L405.24,1488.59 L406.24,1490.27 L407.24,1491.93 L408.24,1493.55 L409.24,1495.13 L410.24,1496.65 L411.24,1498.12 L412.24,1499.54 L413.24,1500.92 L414.24,1502.24 L415.24,1503.52 L416.23,1504.76 L417.23,1505.97 L418.23,1507.15 L419.23,1508.31 L420.23,1509.45 L421.23,1510.58 L422.23,1511.7 L423.23,1512.81 L424.23,1513.92 L425.23,1515.03 L426.23,1516.14 L427.23,1517.25 L428.23,1518.36 L429.23,1519.47 L430.23,1520.57 L431.22,1521.68 L432.22,1522.78 L433.22,1523.88 L434.22,1524.97 L435.22,1526.05 L436.22,1527.12 L437.22,1528.19 L438.22,1529.24 L439.22,1530.28 L440.22,1531.3 L441.22,1532.31 L442.22,1533.31 L443.22,1534.28 L444.22,1535.24 L445.21,1536.18 L446.21,1537.11 L447.21,1538.02 L448.21,1538.91 L449.21,1539.8 L450.21,1540.66 L451.21,1541.52 L452.21,1542.36 L453.21,1543.19 L454.21,1544.01 L455.21,1544.82 L456.21,1545.62 L457.21,1546.4 L458.21,1547.18 L459.2,1547.93 L460.2,1548.68 L461.2,1549.41 L462.2,1550.12 L463.2,1550.82 L464.2,1551.5 L465.2,1552.17 L466.2,1552.82 L467.2,1553.45 L468.2,1554.07 L469.2,1554.67 L470.2,1555.26 L471.2,1555.84 L472.2,1556.4 L473.2,1556.95 L474.19,1557.49 L475.19,1558.03 L476.19,1558.55 L477.19,1559.06 L478.19,1559.56 L479.19,1560.05 L480.19,1560.53 L481.19,1561 L482.19,1561.45 L483.19,1561.9 L484.19,1562.32 L485.19,1562.74 L486.19,1563.14 L487.19,1563.52 L488.18,1563.89 L489.18,1564.24 L490.18,1564.58 L491.18,1564.9 L492.18,1565.21 L493.18,1565.51 L494.18,1565.8 L495.18,1566.07 L496.18,1566.34 L497.18,1566.61 L498.18,1566.86 L499.18,1567.11 L500.18,1567.35 L501.18,1567.58 L502.18,1567.8 L503.17,1568.02 L504.17,1568.22 L505.17,1568.42 L506.17,1568.61 L507.17,1568.79 L508.17,1568.96 L509.17,1569.12 L510.17,1569.27 L511.17,1569.4 L512.17,1569.53 L513.17,1569.65 L514.17,1569.76 L515.17,1569.86 L516.17,1569.95 L517.16,1570.04 L518.16,1570.12 L519.16,1570.19 L520.16,1570.27 L521.16,1570.34 L522.16,1570.4 L523.16,1570.47 L524.16,1570.53 L525.16,1570.58 L526.16,1570.64 L527.16,1570.69 L528.16,1570.74 L529.16,1570.78 L530.16,1570.82 L531.15,1570.85 L532.15,1570.88 L533.15,1570.91 L534.15,1570.93 L535.15,1570.94 L536.15,1570.96 L537.15,1570.96 L538.15,1570.96 L539.15,1570.96 L540.15,1570.96 L541.15,1570.95 L542.15,1570.94 L543.15,1570.92 L544.15,1570.9 L545.15,1570.88 L546.14,1570.86 L547.14,1570.84 L548.14,1570.81 L549.14,1570.78 L550.14,1570.76 L551.14,1570.73 L552.14,1570.7 L553.14,1570.68 L554.14,1570.65 L555.14,1570.62 L556.14,1570.6 L557.14,1570.57 L558.14,1570.55 L559.14,1570.53 L560.13,1570.51 L561.13,1570.49 L562.13,1570.47 L563.13,1570.45 L564.13,1570.43 L565.13,1570.41 L566.13,1570.4 L567.13,1570.38 L568.13,1570.37 L569.13,1570.35 L570.13,1570.33 L571.13,1570.32 L572.13,1570.3 L573.13,1570.29 L574.12,1570.27 L575.12,1570.26 L576.12,1570.25 L577.12,1570.23 L578.12,1570.22 L579.12,1570.2 L580.12,1570.19 L581.12,1570.18 L582.12,1570.16 L583.12,1570.15 L584.12,1570.13 L585.12,1570.12 L586.12,1570.11 L587.12,1570.09 L588.12,1570.08 L589.11,1570.06 L590.11,1570.05 L591.11,1570.03 L592.11,1570.02 L593.11,1570 L594.11,1569.99 L595.11,1569.98 L596.11,1569.96 L597.11,1569.94 L598.11,1569.93 L599.11,1569.91 L600.11,1569.9 L601.11,1569.88 L602.11,1569.86 L603.1,1569.85 L604.1,1569.83 L605.1,1569.82 L606.1,1569.8 L607.1,1569.78 L608.1,1569.77 L609.1,1569.75 L610.1,1569.73 L611.1,1569.72 L612.1,1569.7 L613.1,1569.68 L614.1,1569.67 L615.1,1569.65 L616.1,1569.63 L617.1,1569.61 L618.09,1569.6 L619.09,1569.58 L620.09,1569.56 L621.09,1569.54 L622.09,1569.53 L623.09,1569.51 L624.09,1569.49 L625.09,1569.47 L626.09,1569.46 L627.09,1569.44 L628.09,1569.42 L629.09,1569.4 L630.09,1569.38 L631.09,1569.37 L632.08,1569.35 L633.08,1569.33 L634.08,1569.31 L635.08,1569.29 L636.08,1569.27 L637.08,1569.25 L638.08,1569.24 L639.08,1569.22 L640.08,1569.2 L641.08,1569.18 L642.08,1569.16 L643.08,1569.14 L644.08,1569.12 L645.08,1569.1 L646.08,1569.08 L647.07,1569.06 L648.07,1569.04 L649.07,1569.02 L650.07,1569 L651.07,1568.98 L652.07,1568.95 L653.07,1568.93 L654.07,1568.91 L655.07,1568.89 L656.07,1568.87 L657.07,1568.85 L658.07,1568.82 L659.07,1568.8 L660.07,1568.78 L661.06,1568.75 L662.06,1568.73 L663.06,1568.71 L664.06,1568.68 L665.06,1568.66 L666.06,1568.64 L667.06,1568.61 L668.06,1568.59 L669.06,1568.56 L670.06,1568.54 L671.06,1568.51 L672.06,1568.49 L673.06,1568.46 L674.06,1568.44 L675.05,1568.41 L676.05,1568.39 L677.05,1568.36 L678.05,1568.34 L679.05,1568.31 L680.05,1568.29 L681.05,1568.26 L682.05,1568.24 L683.05,1568.21 L684.05,1568.19 L685.05,1568.16 L686.05,1568.14 L687.05,1568.11 L688.05,1568.09 L689.05,1568.06 L690.04,1568.04 L691.04,1568.01 L692.04,1567.99 L693.04,1567.97 L694.04,1567.94 L695.04,1567.92 L696.04,1567.89 L697.04,1567.87 L698.04,1567.85 L699.04,1567.82 L700.04,1567.8 L701.04,1567.78 L702.04,1567.75 L703.04,1567.73 L704.03,1567.71 L705.03,1567.68 L706.03,1567.66 L707.03,1567.64 L708.03,1567.62 L709.03,1567.59 L710.03,1567.57 L711.03,1567.55 L712.03,1567.52 L713.03,1567.5 L714.03,1567.48 L715.03,1567.46 L716.03,1567.43 L717.03,1567.41 L718.02,1567.39 L719.02,1567.37 L720.02,1567.34 L721.02,1567.32 L722.02,1567.3 L723.02,1567.28 L724.02,1567.25 L725.02,1567.23 L726.02,1567.21 L727.02,1567.19 L728.02,1567.17 L729.02,1567.14 L730.02,1567.12 L731.02,1567.1 L732.02,1567.08 L733.01,1567.06 L734.01,1567.03 L735.01,1567.01 L736.01,1566.99 L737.01,1566.97 L738.01,1566.95 L739.01,1566.92 L740.01,1566.9 L741.01,1566.88 L742.01,1566.86 L743.01,1566.84 L744.01,1566.82 L745.01,1566.79 L746.01,1566.77 L747,1566.75 L748,1566.73 L749,1566.71 L750,1566.69 L751,1566.67 L752,1566.65 L753,1566.62 L754,1566.6" fill="none" stroke="#ffd700" stroke-width="2.5" stroke-linejoin="round" />
<path d="M124.5,1442.5 L125.5,1442.5 L126.5,1442.5 L127.5,1442.5 L128.5,1442.5 L129.5,1442.5 L130.5,1442.5 L131.49,1442.51 L132.49,1442.51 L133.49,1442.51 L134.49,1442.51 L135.49,1442.51 L136.49,1442.52 L137.49,1442.52 L138.49,1442.52 L139.49,1442.52 L140.49,1442.53 L141.49,1442.53 L142.49,1442.53 L143.48,1442.54 L144.48,1442.54 L145.48,1442.54 L146.48,1442.55 L147.48,1442.55 L148.48,1442.55 L149.48,1442.56 L150.48,1442.56 L151.48,1442.57 L152.48,1442.57 L153.48,1442.58 L154.48,1442.58 L155.48,1442.59 L156.47,1442.59 L157.47,1442.6 L158.47,1442.6 L159.47,1442.61 L160.47,1442.61 L161.47,1442.62 L162.47,1442.63 L163.47,1442.63 L164.47,1442.64 L165.47,1442.64 L166.47,1442.65 L167.47,1442.66 L168.47,1442.66 L169.46,1442.67 L170.46,1442.68 L171.46,1442.69 L172.46,1442.69 L173.46,1442.7 L174.46,1442.71 L175.46,1442.71 L176.46,1442.72 L177.46,1442.73 L178.46,1442.74 L179.46,1442.74 L180.46,1442.75 L181.45,1442.76 L182.45,1442.77 L183.45,1442.78 L184.45,1442.78 L185.45,1442.79 L186.45,1442.8 L187.45,1442.81 L188.45,1442.82 L189.45,1442.83 L190.45,1442.84 L191.45,1442.86 L192.45,1442.87 L193.45,1442.88 L194.44,1442.9 L195.44,1442.91 L196.44,1442.93 L197.44,1442.94 L198.44,1442.96 L199.44,1442.98 L200.44,1443 L201.44,1443.01 L202.44,1443.03 L203.44,1443.05 L204.44,1443.08 L205.44,1443.1 L206.43,1443.12 L207.43,1443.14 L208.43,1443.16 L209.43,1443.19 L210.43,1443.21 L211.43,1443.24 L212.43,1443.26 L213.43,1443.29 L214.43,1443.31 L215.43,1443.34 L216.43,1443.37 L217.43,1443.4 L218.43,1443.43 L219.42,1443.46 L220.42,1443.49 L221.42,1443.53 L222.42,1443.56 L223.42,1443.6 L224.42,1443.64 L225.42,1443.68 L226.42,1443.72 L227.42,1443.77 L228.42,1443.81 L229.42,1443.86 L230.42,1443.91 L231.42,1443.95 L232.41,1444.01 L233.41,1444.06 L234.41,1444.11 L235.41,1444.17 L236.41,1444.22 L237.41,1444.28 L238.41,1444.34 L239.41,1444.39 L240.41,1444.45 L241.41,1444.52 L242.41,1444.58 L243.41,1444.64 L244.4,1444.7 L245.4,1444.77 L246.4,1444.84 L247.4,1444.9 L248.4,1444.97 L249.4,1445.04 L250.4,1445.11 L251.4,1445.19 L252.4,1445.26 L253.4,1445.34 L254.4,1445.42 L255.4,1445.5 L256.4,1445.59 L257.39,1445.68 L258.39,1445.77 L259.39,1445.86 L260.39,1445.95 L261.39,1446.04 L262.39,1446.14 L263.39,1446.24 L264.39,1446.34 L265.39,1446.44 L266.39,1446.55 L267.39,1446.65 L268.39,1446.76 L269.38,1446.87 L270.38,1446.98 L271.38,1447.09 L272.38,1447.2 L273.38,1447.31 L274.38,1447.42 L275.38,1447.54 L276.38,1447.65 L277.38,1447.77 L278.38,1447.89 L279.38,1448 L280.38,1448.12 L281.38,1448.24 L282.37,1448.36 L283.37,1448.49 L284.37,1448.61 L285.37,1448.74 L286.37,1448.87 L287.37,1449 L288.37,1449.14 L289.37,1449.28 L290.37,1449.43 L291.37,1449.58 L292.37,1449.74 L293.37,1449.9 L294.37,1450.08 L295.36,1450.26 L296.36,1450.45 L297.36,1450.65 L298.36,1450.86 L299.36,1451.08 L300.36,1451.31 L301.36,1451.55 L302.36,1451.8 L303.36,1452.05 L304.36,1452.32 L305.36,1452.6 L306.36,1452.88 L307.35,1453.17 L308.35,1453.47 L309.35,1453.78 L310.35,1454.1 L311.35,1454.42 L312.35,1454.75 L313.35,1455.09 L314.35,1455.44 L315.35,1455.8 L316.35,1456.17 L317.35,1456.55 L318.35,1456.94 L319.35,1457.34 L320.34,1457.75 L321.34,1458.16 L322.34,1458.59 L323.34,1459.02 L324.34,1459.46 L325.34,1459.91 L326.34,1460.36 L327.34,1460.83 L328.34,1461.3 L329.34,1461.78 L330.34,1462.28 L331.34,1462.78 L332.33,1463.29 L333.33,1463.81 L334.33,1464.33 L335.33,1464.87 L336.33,1465.41 L337.33,1465.96 L338.33,1466.52 L339.33,1467.08 L340.33,1467.65 L341.33,1468.22 L342.33,1468.81 L343.33,1469.4 L344.33,1470 L345.32,1470.61 L346.32,1471.24 L347.32,1471.88 L348.32,1472.53 L349.32,1473.21 L350.32,1473.9 L351.32,1474.6 L352.32,1475.33 L353.32,1476.07 L354.32,1476.83 L355.32,1477.6 L356.32,1478.38 L357.32,1479.18 L358.31,1479.98 L359.31,1480.79 L360.31,1481.62 L361.31,1482.45 L362.31,1483.3 L363.31,1484.15 L364.31,1485.02 L365.31,1485.9 L366.31,1486.8 L367.31,1487.7 L368.31,1488.62 L369.31,1489.55 L370.3,1490.49 L371.3,1491.44 L372.3,1492.39 L373.3,1493.34 L374.3,1494.3 L375.3,1495.26 L376.3,1496.22 L377.3,1497.18 L378.3,1498.14 L379.3,1499.09 L380.3,1500.04 L381.3,1500.99 L382.3,1501.94 L383.29,1502.88 L384.29,1503.81 L385.29,1504.75 L386.29,1505.68 L387.29,1506.61 L388.29,1507.53 L389.29,1508.46 L390.29,1509.38 L391.29,1510.29 L392.29,1511.21 L393.29,1512.12 L394.29,1513.03 L395.28,1513.93 L396.28,1514.83 L397.28,1515.73 L398.28,1516.63 L399.28,1517.52 L400.28,1518.41 L401.28,1519.3 L402.28,1520.19 L403.28,1521.07 L404.28,1521.95 L405.28,1522.82 L406.28,1523.7 L407.28,1524.57 L408.27,1525.44 L409.27,1526.31 L410.27,1527.17 L411.27,1528.03 L412.27,1528.89 L413.27,1529.75 L414.27,1530.6 L415.27,1531.45 L416.27,1532.29 L417.27,1533.13 L418.27,1533.96 L419.27,1534.79 L420.27,1535.62 L421.26,1536.44 L422.26,1537.26 L423.26,1538.07 L424.26,1538.88 L425.26,1539.68 L426.26,1540.48 L427.26,1541.28 L428.26,1542.07 L429.26,1542.86 L430.26,1543.64 L431.26,1544.43 L432.26,1545.2 L433.25,1545.98 L434.25,1546.75 L435.25,1547.51 L436.25,1548.27 L437.25,1549.02 L438.25,1549.77 L439.25,1550.51 L440.25,1551.25 L441.25,1551.97 L442.25,1552.69 L443.25,1553.4 L444.25,1554.11 L445.25,1554.8 L446.24,1555.49 L447.24,1556.17 L448.24,1556.84 L449.24,1557.51 L450.24,1558.17 L451.24,1558.82 L452.24,1559.47 L453.24,1560.11 L454.24,1560.74 L455.24,1561.37 L456.24,1561.99 L457.24,1562.61 L458.23,1563.22 L459.23,1563.82 L460.23,1564.41 L461.23,1565 L462.23,1565.58 L463.23,1566.16 L464.23,1566.72 L465.23,1567.28 L466.23,1567.83 L467.23,1568.38 L468.23,1568.92 L469.23,1569.45 L470.23,1569.97 L471.22,1570.49 L472.22,1571 L473.22,1571.5 L474.22,1572 L475.22,1572.5 L476.22,1572.99 L477.22,1573.47 L478.22,1573.95 L479.22,1574.43 L480.22,1574.89 L481.22,1575.35 L482.22,1575.8 L483.22,1576.24 L484.21,1576.68 L485.21,1577.11 L486.21,1577.52 L487.21,1577.93 L488.21,1578.33 L489.21,1578.72 L490.21,1579.1 L491.21,1579.48 L492.21,1579.84 L493.21,1580.2 L494.21,1580.56 L495.21,1580.91 L496.2,1581.25 L497.2,1581.59 L498.2,1581.92 L499.2,1582.25 L500.2,1582.58 L501.2,1582.89 L502.2,1583.2 L503.2,1583.5 L504.2,1583.8 L505.2,1584.08 L506.2,1584.35 L507.2,1584.61 L508.2,1584.86 L509.19,1585.1 L510.19,1585.32 L511.19,1585.53 L512.19,1585.73 L513.19,1585.92 L514.19,1586.09 L515.19,1586.25 L516.19,1586.41 L517.19,1586.55 L518.19,1586.69 L519.19,1586.83 L520.19,1586.96 L521.18,1587.08 L522.18,1587.2 L523.18,1587.31 L524.18,1587.42 L525.18,1587.53 L526.18,1587.62 L527.18,1587.72 L528.18,1587.8 L529.18,1587.88 L530.18,1587.96 L531.18,1588.02 L532.18,1588.08 L533.18,1588.13 L534.17,1588.17 L535.17,1588.2 L536.17,1588.22 L537.17,1588.24 L538.17,1588.24 L539.17,1588.25 L540.17,1588.24 L541.17,1588.23 L542.17,1588.22 L543.17,1588.2 L544.17,1588.17 L545.17,1588.15 L546.17,1588.12 L547.16,1588.09 L548.16,1588.05 L549.16,1588.02 L550.16,1587.98 L551.16,1587.94 L552.16,1587.9 L553.16,1587.87 L554.16,1587.83 L555.16,1587.79 L556.16,1587.75 L557.16,1587.71 L558.16,1587.67 L559.15,1587.64 L560.15,1587.6 L561.15,1587.56 L562.15,1587.53 L563.15,1587.49 L564.15,1587.45 L565.15,1587.42 L566.15,1587.38 L567.15,1587.35 L568.15,1587.31 L569.15,1587.27 L570.15,1587.24 L571.15,1587.2 L572.14,1587.16 L573.14,1587.12 L574.14,1587.09 L575.14,1587.05 L576.14,1587.01 L577.14,1586.97 L578.14,1586.93 L579.14,1586.9 L580.14,1586.86 L581.14,1586.82 L582.14,1586.78 L583.14,1586.74 L584.13,1586.71 L585.13,1586.67 L586.13,1586.63 L587.13,1586.59 L588.13,1586.55 L589.13,1586.52 L590.13,1586.48 L591.13,1586.44 L592.13,1586.41 L593.13,1586.37 L594.13,1586.33 L595.13,1586.3 L596.13,1586.26 L597.12,1586.22 L598.12,1586.19 L599.12,1586.15 L600.12,1586.11 L601.12,1586.08 L602.12,1586.04 L603.12,1586 L604.12,1585.97 L605.12,1585.93 L606.12,1585.89 L607.12,1585.86 L608.12,1585.82 L609.12,1585.78 L610.11,1585.75 L611.11,1585.71 L612.11,1585.68 L613.11,1585.64 L614.11,1585.6 L615.11,1585.57 L616.11,1585.53 L617.11,1585.49 L618.11,1585.46 L619.11,1585.42 L620.11,1585.38 L621.11,1585.35 L622.1,1585.31 L623.1,1585.28 L624.1,1585.24 L625.1,1585.21 L626.1,1585.17 L627.1,1585.14 L628.1,1585.1 L629.1,1585.07 L630.1,1585.03 L631.1,1585 L632.1,1584.96 L633.1,1584.93 L634.1,1584.9 L635.09,1584.86 L636.09,1584.83 L637.09,1584.8 L638.09,1584.76 L639.09,1584.73 L640.09,1584.7 L641.09,1584.67 L642.09,1584.64 L643.09,1584.61 L644.09,1584.58 L645.09,1584.55 L646.09,1584.52 L647.08,1584.49 L648.08,1584.46 L649.08,1584.43 L650.08,1584.4 L651.08,1584.37 L652.08,1584.34 L653.08,1584.32 L654.08,1584.29 L655.08,1584.26 L656.08,1584.23 L657.08,1584.21 L658.08,1584.18 L659.08,1584.15 L660.07,1584.13 L661.07,1584.1 L662.07,1584.08 L663.07,1584.05 L664.07,1584.02 L665.07,1584 L666.07,1583.97 L667.07,1583.95 L668.07,1583.92 L669.07,1583.9 L670.07,1583.87 L671.07,1583.85 L672.07,1583.83 L673.06,1583.8 L674.06,1583.78 L675.06,1583.75 L676.06,1583.73 L677.06,1583.71 L678.06,1583.68 L679.06,1583.66 L680.06,1583.64 L681.06,1583.61 L682.06,1583.59 L683.06,1583.57 L684.06,1583.55 L685.05,1583.52 L686.05,1583.5 L687.05,1583.48 L688.05,1583.46 L689.05,1583.44 L690.05,1583.41 L691.05,1583.39 L692.05,1583.37 L693.05,1583.35 L694.05,1583.33 L695.05,1583.31 L696.05,1583.28 L697.05,1583.26 L698.04,1583.24 L699.04,1583.22 L700.04,1583.2 L701.04,1583.18 L702.04,1583.16 L703.04,1583.14 L704.04,1583.12 L705.04,1583.1 L706.04,1583.08 L707.04,1583.06 L708.04,1583.03 L709.04,1583.01 L710.03,1582.99 L711.03,1582.97 L712.03,1582.95 L713.03,1582.93 L714.03,1582.91 L715.03,1582.89 L716.03,1582.88 L717.03,1582.86 L718.03,1582.84 L719.03,1582.82 L720.03,1582.8 L721.03,1582.78 L722.03,1582.76 L723.02,1582.74 L724.02,1582.72 L725.02,1582.7 L726.02,1582.68 L727.02,1582.66 L728.02,1582.65 L729.02,1582.63 L730.02,1582.61 L731.02,1582.59 L732.02,1582.57 L733.02,1582.56 L734.02,1582.54 L735.02,1582.52 L736.01,1582.5 L737.01,1582.48 L738.01,1582.47 L739.01,1582.45 L740.01,1582.43 L741.01,1582.41 L742.01,1582.4 L743.01,1582.38 L744.01,1582.36 L745.01,1582.35 L746.01,1582.33 L747.01,1582.31 L748,1582.3 L749,1582.28 L750,1582.27 L751,1582.25 L752,1582.23 L753,1582.22 L754,1582.2" fill="none" stroke="#ff0000" stroke-width="5" stroke-linejoin="round" />
</g>
<path d="M132.89,1605.5 v-2.8 M132.89,1363 v2.8 M141.29,1605.5 v-2.8 M141.29,1363 v2.8 M149.68,1605.5 v-2.8 M149.68,1363 v2.8 M158.07,1605.5 v-2.8 M158.07,1363 v2.8 M166.47,1605.5 v-5 M166.47,1363 v5 M174.86,1605.5 v-2.8 M174.86,1363 v2.8 M183.25,1605.5 v-2.8 M183.25,1363 v2.8 M191.65,1605.5 v-2.8 M191.65,1363 v2.8 M200.04,1605.5 v-2.8 M200.04,1363 v2.8 M208.43,1605.5 v-2.8 M208.43,1363 v2.8 M216.83,1605.5 v-2.8 M216.83,1363 v2.8 M225.22,1605.5 v-2.8 M225.22,1363 v2.8 M233.61,1605.5 v-2.8 M233.61,1363 v2.8 M242.01,1605.5 v-2.8 M242.01,1363 v2.8 M250.4,1605.5 v-5 M250.4,1363 v5 M258.79,1605.5 v-2.8 M258.79,1363 v2.8 M267.19,1605.5 v-2.8 M267.19,1363 v2.8 M275.58,1605.5 v-2.8 M275.58,1363 v2.8 M283.97,1605.5 v-2.8 M283.97,1363 v2.8 M292.37,1605.5 v-2.8 M292.37,1363 v2.8 M300.76,1605.5 v-2.8 M300.76,1363 v2.8 M309.15,1605.5 v-2.8 M309.15,1363 v2.8 M317.55,1605.5 v-2.8 M317.55,1363 v2.8 M325.94,1605.5 v-2.8 M325.94,1363 v2.8 M334.33,1605.5 v-5 M334.33,1363 v5 M342.73,1605.5 v-2.8 M342.73,1363 v2.8 M351.12,1605.5 v-2.8 M351.12,1363 v2.8 M359.51,1605.5 v-2.8 M359.51,1363 v2.8 M367.91,1605.5 v-2.8 M367.91,1363 v2.8 M376.3,1605.5 v-2.8 M376.3,1363 v2.8 M384.69,1605.5 v-2.8 M384.69,1363 v2.8 M393.09,1605.5 v-2.8 M393.09,1363 v2.8 M401.48,1605.5 v-2.8 M401.48,1363 v2.8 M409.87,1605.5 v-2.8 M409.87,1363 v2.8 M418.27,1605.5 v-5 M418.27,1363 v5 M426.66,1605.5 v-2.8 M426.66,1363 v2.8 M435.05,1605.5 v-2.8 M435.05,1363 v2.8 M443.45,1605.5 v-2.8 M443.45,1363 v2.8 M451.84,1605.5 v-2.8 M451.84,1363 v2.8 M460.23,1605.5 v-2.8 M460.23,1363 v2.8 M468.63,1605.5 v-2.8 M468.63,1363 v2.8 M477.02,1605.5 v-2.8 M477.02,1363 v2.8 M485.41,1605.5 v-2.8 M485.41,1363 v2.8 M493.81,1605.5 v-2.8 M493.81,1363 v2.8 M502.2,1605.5 v-5 M502.2,1363 v5 M510.59,1605.5 v-2.8 M510.59,1363 v2.8 M518.99,1605.5 v-2.8 M518.99,1363 v2.8 M527.38,1605.5 v-2.8 M527.38,1363 v2.8 M535.77,1605.5 v-2.8 M535.77,1363 v2.8 M544.17,1605.5 v-2.8 M544.17,1363 v2.8 M552.56,1605.5 v-2.8 M552.56,1363 v2.8 M560.95,1605.5 v-2.8 M560.95,1363 v2.8 M569.35,1605.5 v-2.8 M569.35,1363 v2.8 M577.74,1605.5 v-2.8 M577.74,1363 v2.8 M586.13,1605.5 v-5 M586.13,1363 v5 M594.53,1605.5 v-2.8 M594.53,1363 v2.8 M602.92,1605.5 v-2.8 M602.92,1363 v2.8 M611.31,1605.5 v-2.8 M611.31,1363 v2.8 M619.71,1605.5 v-2.8 M619.71,1363 v2.8 M628.1,1605.5 v-2.8 M628.1,1363 v2.8 M636.49,1605.5 v-2.8 M636.49,1363 v2.8 M644.89,1605.5 v-2.8 M644.89,1363 v2.8 M653.28,1605.5 v-2.8 M653.28,1363 v2.8 M661.67,1605.5 v-2.8 M661.67,1363 v2.8 M670.07,1605.5 v-5 M670.07,1363 v5 M678.46,1605.5 v-2.8 M678.46,1363 v2.8 M686.85,1605.5 v-2.8 M686.85,1363 v2.8 M695.25,1605.5 v-2.8 M695.25,1363 v2.8 M703.64,1605.5 v-2.8 M703.64,1363 v2.8 M712.03,1605.5 v-2.8 M712.03,1363 v2.8 M720.43,1605.5 v-2.8 M720.43,1363 v2.8 M728.82,1605.5 v-2.8 M728.82,1363 v2.8 M737.21,1605.5 v-2.8 M737.21,1363 v2.8 M745.61,1605.5 v-2.8 M745.61,1363 v2.8 M124.5,1586.8 h5 M754,1586.8 h-5 M124.5,1549.5 h5 M754,1549.5 h-5 M124.5,1512.2 h5 M754,1512.2 h-5 M124.5,1474.9 h5 M754,1474.9 h-5 M124.5,1437.6 h5 M754,1437.6 h-5 M124.5,1400.3 h5 M754,1400.3 h-5 M124.5,1568.15 h2.8 M754,1568.15 h-2.8 M124.5,1530.85 h2.8 M754,1530.85 h-2.8 M124.5,1493.55 h2.8 M754,1493.55 h-2.8 M124.5,1456.25 h2.8 M754,1456.25 h-2.8 M124.5,1418.95 h2.8 M754,1418.95 h-2.8 M124.5,1381.65 h2.8 M754,1381.65 h-2.8" stroke="#000" stroke-width="1.1" fill="none"/>
<rect x="124.5" y="1363" width="629.5" height="242.5" fill="none" stroke="#111" stroke-width="1.2"/>
<text transform="translate(110.5,1371.7) scale(0.97,1)" font-size="24.3" text-anchor="end" >8.6</text>
<text transform="translate(110.5,1409) scale(0.97,1)" font-size="24.3" text-anchor="end" >8.4</text>
<text transform="translate(110.5,1446.3) scale(0.97,1)" font-size="24.3" text-anchor="end" >8.2</text>
<text transform="translate(110.5,1483.6) scale(0.97,1)" font-size="24.3" text-anchor="end" >8.0</text>
<text transform="translate(110.5,1520.9) scale(0.97,1)" font-size="24.3" text-anchor="end" >7.8</text>
<text transform="translate(110.5,1558.2) scale(0.97,1)" font-size="24.3" text-anchor="end" >7.6</text>
<text transform="translate(110.5,1595.5) scale(0.97,1)" font-size="24.3" text-anchor="end" >7.4</text>
<text transform="translate(49.3,1484) rotate(-90) scale(0.89,1)" font-size="32.8" text-anchor="middle">pH surface ocean [-]</text>
<text transform="translate(129.11,1418.6) scale(0.95,1)" font-size="51.2" text-anchor="start" >F</text>
<text x="166.47" y="1636.5" font-size="23.6" text-anchor="middle" >1800</text>
<text x="250.4" y="1636.5" font-size="23.6" text-anchor="middle" >1900</text>
<text x="334.33" y="1636.5" font-size="23.6" text-anchor="middle" >2000</text>
<text x="418.27" y="1636.5" font-size="23.6" text-anchor="middle" >2100</text>
<text x="502.2" y="1636.5" font-size="23.6" text-anchor="middle" >2200</text>
<text x="586.13" y="1636.5" font-size="23.6" text-anchor="middle" >2300</text>
<text x="670.07" y="1636.5" font-size="23.6" text-anchor="middle" >2400</text>
<text x="754" y="1636.5" font-size="23.6" text-anchor="middle" >2500</text>
<text x="440.75" y="1666.3" font-size="29.2" text-anchor="middle" >Time [yr CE]</text>
</svg>
</body></html>
